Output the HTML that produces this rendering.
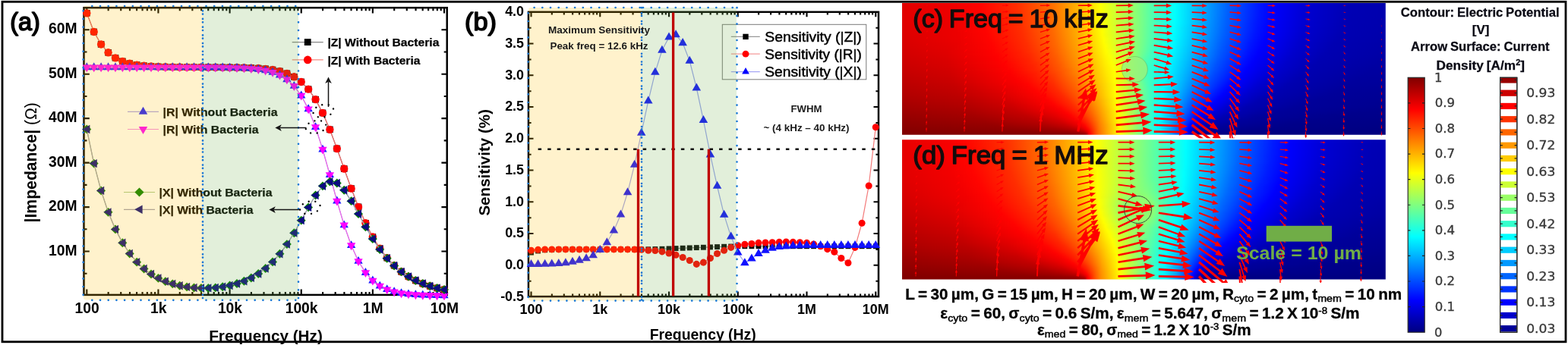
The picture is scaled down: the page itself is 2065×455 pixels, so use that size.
<!DOCTYPE html>
<html lang="en">
<head>
<meta charset="utf-8">
<title>Impedance and sensitivity figure</title>
<style>
html,body{margin:0;padding:0;background:#fff;}
body{width:2065px;height:455px;overflow:hidden;}
svg{display:block;}
text{font-family:"Liberation Sans",sans-serif;fill:#000;}
.tk{font-size:19.3px;font-weight:bold;}
.ax{font-size:20.7px;font-weight:bold;}
.lg{font-size:15.5px;font-weight:bold;fill:#000;stroke:#000;stroke-width:0.25px;}
.pl{font-size:32.5px;stroke:#000;stroke-width:1.6px;stroke-linejoin:round;}
.cal{font-weight:bold;}
.tkb{font-size:17.9px;font-weight:bold;}
.lgb{font-size:18px;stroke:#000;stroke-width:0.45px;}
.ann{font-size:13px;font-weight:bold;fill:#1a1a1a;}
.dj{font-family:"DejaVu Sans",sans-serif;fill:#333;}
</style>
</head>
<body>
<svg width="2065" height="455" viewBox="0 0 2065 455">
<rect x="0" y="0" width="2065" height="455" fill="#fff"/>
<g id="panel-a">
<rect x="110.5" y="10.2" width="478.2" height="378.7" fill="#fff" stroke="#000" stroke-width="2.5"/>
<path d="M114.3 388.9v-7.3M142.64 388.9v-4M159.22 388.9v-4M170.98 388.9v-4M180.1 388.9v-4M187.56 388.9v-4M193.86 388.9v-4M199.32 388.9v-4M204.13 388.9v-4M208.44 388.9v-7.3M236.78 388.9v-4M253.36 388.9v-4M265.12 388.9v-4M274.24 388.9v-4M281.7 388.9v-4M288 388.9v-4M293.46 388.9v-4M298.27 388.9v-4M302.58 388.9v-7.3M330.92 388.9v-4M347.5 388.9v-4M359.26 388.9v-4M368.38 388.9v-4M375.84 388.9v-4M382.14 388.9v-4M387.6 388.9v-4M392.41 388.9v-4M396.72 388.9v-7.3M425.06 388.9v-4M441.64 388.9v-4M453.4 388.9v-4M462.52 388.9v-4M469.98 388.9v-4M476.28 388.9v-4M481.74 388.9v-4M486.55 388.9v-4M490.86 388.9v-7.3M519.2 388.9v-4M535.78 388.9v-4M547.54 388.9v-4M556.66 388.9v-4M564.12 388.9v-4M570.42 388.9v-4M575.88 388.9v-4M580.69 388.9v-4M585 388.9v-7.3M114.3 10.2v7.3M142.64 10.2v4M159.22 10.2v4M170.98 10.2v4M180.1 10.2v4M187.56 10.2v4M193.86 10.2v4M199.32 10.2v4M204.13 10.2v4M208.44 10.2v7.3M236.78 10.2v4M253.36 10.2v4M265.12 10.2v4M274.24 10.2v4M281.7 10.2v4M288 10.2v4M293.46 10.2v4M298.27 10.2v4M302.58 10.2v7.3M330.92 10.2v4M347.5 10.2v4M359.26 10.2v4M368.38 10.2v4M375.84 10.2v4M382.14 10.2v4M387.6 10.2v4M392.41 10.2v4M396.72 10.2v7.3M425.06 10.2v4M441.64 10.2v4M453.4 10.2v4M462.52 10.2v4M469.98 10.2v4M476.28 10.2v4M481.74 10.2v4M486.55 10.2v4M490.86 10.2v7.3M519.2 10.2v4M535.78 10.2v4M547.54 10.2v4M556.66 10.2v4M564.12 10.2v4M570.42 10.2v4M575.88 10.2v4M580.69 10.2v4M585 10.2v7.3M110.5 360.77h4M588.7 360.77h-4M110.5 331.54h7.3M588.7 331.54h-7.3M110.5 302.31h4M588.7 302.31h-4M110.5 273.08h7.3M588.7 273.08h-7.3M110.5 243.85h4M588.7 243.85h-4M110.5 214.62h7.3M588.7 214.62h-7.3M110.5 185.39h4M588.7 185.39h-4M110.5 156.16h7.3M588.7 156.16h-7.3M110.5 126.93h4M588.7 126.93h-4M110.5 97.7h7.3M588.7 97.7h-7.3M110.5 68.47h4M588.7 68.47h-4M110.5 39.24h7.3M588.7 39.24h-7.3" stroke="#000" stroke-width="2.1" fill="none"/>
<polyline points="114.3,17.31 123.71,41.96 133.13,58.45 142.54,69.29 151.96,76.32 161.37,80.84 170.78,83.72 180.2,85.56 189.61,86.72 199.03,87.46 208.44,87.93 217.85,88.22 227.27,88.41 236.68,88.53 246.1,88.61 255.51,88.66 264.92,88.7 274.34,88.74 283.75,88.79 293.17,88.84 302.58,88.93 311.99,89.05 321.41,89.25 330.82,89.56 340.24,90.05 349.65,90.82 359.06,92.03 368.48,93.92 377.89,96.84 387.31,101.3 396.72,107.96 406.13,117.64 415.55,131.12 424.96,148.91 434.38,170.86 443.79,195.97 453.2,222.52 462.62,248.67 472.03,272.88 481.45,294.26 490.86,312.49 500.27,327.67 509.69,340.09 519.1,350.15 528.52,358.25 537.93,364.73 547.34,369.9 556.76,374.02 566.17,377.3 575.59,379.91 585,381.98" fill="none" stroke="#888888" stroke-width="1.2"/>
<g><rect x="109.98" y="12.99" width="8.64" height="8.64" fill="#000000"/><rect x="119.39" y="37.64" width="8.64" height="8.64" fill="#000000"/><rect x="128.81" y="54.13" width="8.64" height="8.64" fill="#000000"/><rect x="138.22" y="64.97" width="8.64" height="8.64" fill="#000000"/><rect x="147.64" y="72" width="8.64" height="8.64" fill="#000000"/><rect x="157.05" y="76.52" width="8.64" height="8.64" fill="#000000"/><rect x="166.46" y="79.4" width="8.64" height="8.64" fill="#000000"/><rect x="175.88" y="81.24" width="8.64" height="8.64" fill="#000000"/><rect x="185.29" y="82.4" width="8.64" height="8.64" fill="#000000"/><rect x="194.71" y="83.14" width="8.64" height="8.64" fill="#000000"/><rect x="204.12" y="83.61" width="8.64" height="8.64" fill="#000000"/><rect x="213.53" y="83.9" width="8.64" height="8.64" fill="#000000"/><rect x="222.95" y="84.09" width="8.64" height="8.64" fill="#000000"/><rect x="232.36" y="84.21" width="8.64" height="8.64" fill="#000000"/><rect x="241.78" y="84.29" width="8.64" height="8.64" fill="#000000"/><rect x="251.19" y="84.34" width="8.64" height="8.64" fill="#000000"/><rect x="260.6" y="84.38" width="8.64" height="8.64" fill="#000000"/><rect x="270.02" y="84.42" width="8.64" height="8.64" fill="#000000"/><rect x="279.43" y="84.47" width="8.64" height="8.64" fill="#000000"/><rect x="288.85" y="84.52" width="8.64" height="8.64" fill="#000000"/><rect x="298.26" y="84.61" width="8.64" height="8.64" fill="#000000"/><rect x="307.67" y="84.73" width="8.64" height="8.64" fill="#000000"/><rect x="317.09" y="84.93" width="8.64" height="8.64" fill="#000000"/><rect x="326.5" y="85.24" width="8.64" height="8.64" fill="#000000"/><rect x="335.92" y="85.73" width="8.64" height="8.64" fill="#000000"/><rect x="345.33" y="86.5" width="8.64" height="8.64" fill="#000000"/><rect x="354.74" y="87.71" width="8.64" height="8.64" fill="#000000"/><rect x="364.16" y="89.6" width="8.64" height="8.64" fill="#000000"/><rect x="373.57" y="92.52" width="8.64" height="8.64" fill="#000000"/><rect x="382.99" y="96.98" width="8.64" height="8.64" fill="#000000"/><rect x="392.4" y="103.64" width="8.64" height="8.64" fill="#000000"/><rect x="401.81" y="113.32" width="8.64" height="8.64" fill="#000000"/><rect x="411.23" y="126.8" width="8.64" height="8.64" fill="#000000"/><rect x="420.64" y="144.59" width="8.64" height="8.64" fill="#000000"/><rect x="430.06" y="166.54" width="8.64" height="8.64" fill="#000000"/><rect x="439.47" y="191.65" width="8.64" height="8.64" fill="#000000"/><rect x="448.88" y="218.2" width="8.64" height="8.64" fill="#000000"/><rect x="458.3" y="244.35" width="8.64" height="8.64" fill="#000000"/><rect x="467.71" y="268.56" width="8.64" height="8.64" fill="#000000"/><rect x="477.13" y="289.94" width="8.64" height="8.64" fill="#000000"/><rect x="486.54" y="308.17" width="8.64" height="8.64" fill="#000000"/><rect x="495.95" y="323.35" width="8.64" height="8.64" fill="#000000"/><rect x="505.37" y="335.77" width="8.64" height="8.64" fill="#000000"/><rect x="514.78" y="345.83" width="8.64" height="8.64" fill="#000000"/><rect x="524.2" y="353.93" width="8.64" height="8.64" fill="#000000"/><rect x="533.61" y="360.41" width="8.64" height="8.64" fill="#000000"/><rect x="543.02" y="365.58" width="8.64" height="8.64" fill="#000000"/><rect x="552.44" y="369.7" width="8.64" height="8.64" fill="#000000"/><rect x="561.85" y="372.98" width="8.64" height="8.64" fill="#000000"/><rect x="571.27" y="375.59" width="8.64" height="8.64" fill="#000000"/><rect x="580.68" y="377.66" width="8.64" height="8.64" fill="#000000"/></g>
<polyline points="114.3,17.31 123.71,41.96 133.13,58.45 142.54,69.29 151.96,76.32 161.37,80.84 170.78,83.72 180.2,85.56 189.61,86.72 199.03,87.46 208.44,87.93 217.85,88.22 227.27,88.41 236.68,88.53 246.1,88.61 255.51,88.66 264.92,88.7 274.34,88.74 283.75,88.79 293.17,88.84 302.58,88.93 311.99,89.05 321.41,89.25 330.82,89.56 340.24,90.05 349.65,90.82 359.06,92.03 368.48,93.92 377.89,96.84 387.31,101.3 396.72,107.96 406.13,117.64 415.55,131.12 424.96,148.91 434.38,170.86 443.79,195.97 453.2,222.52 462.62,248.67 472.03,272.88 481.45,294.26 490.86,312.49 500.27,327.67 509.69,340.09 519.1,350.15 528.52,358.25 537.93,364.73 547.34,369.9 556.76,374.02 566.17,377.3 575.59,379.91 585,381.98" fill="none" stroke="#f06a6a" stroke-width="1.2"/>
<g><circle cx="114.3" cy="17.31" r="5.18" fill="#ff0000"/><circle cx="123.71" cy="41.96" r="5.18" fill="#ff0000"/><circle cx="133.13" cy="58.45" r="5.18" fill="#ff0000"/><circle cx="142.54" cy="69.29" r="5.18" fill="#ff0000"/><circle cx="151.96" cy="76.32" r="5.18" fill="#ff0000"/><circle cx="161.37" cy="80.84" r="5.18" fill="#ff0000"/><circle cx="170.78" cy="83.72" r="5.18" fill="#ff0000"/><circle cx="180.2" cy="85.56" r="5.18" fill="#ff0000"/><circle cx="189.61" cy="86.72" r="5.18" fill="#ff0000"/><circle cx="199.03" cy="87.46" r="5.18" fill="#ff0000"/><circle cx="208.44" cy="87.93" r="5.18" fill="#ff0000"/><circle cx="217.85" cy="88.22" r="5.18" fill="#ff0000"/><circle cx="227.27" cy="88.41" r="5.18" fill="#ff0000"/><circle cx="236.68" cy="88.53" r="5.18" fill="#ff0000"/><circle cx="246.1" cy="88.61" r="5.18" fill="#ff0000"/><circle cx="255.51" cy="88.66" r="5.18" fill="#ff0000"/><circle cx="264.92" cy="88.7" r="5.18" fill="#ff0000"/><circle cx="274.34" cy="88.74" r="5.18" fill="#ff0000"/><circle cx="283.75" cy="88.79" r="5.18" fill="#ff0000"/><circle cx="293.17" cy="88.84" r="5.18" fill="#ff0000"/><circle cx="302.58" cy="88.93" r="5.18" fill="#ff0000"/><circle cx="311.99" cy="89.05" r="5.18" fill="#ff0000"/><circle cx="321.41" cy="89.25" r="5.18" fill="#ff0000"/><circle cx="330.82" cy="89.56" r="5.18" fill="#ff0000"/><circle cx="340.24" cy="90.05" r="5.18" fill="#ff0000"/><circle cx="349.65" cy="90.82" r="5.18" fill="#ff0000"/><circle cx="359.06" cy="92.03" r="5.18" fill="#ff0000"/><circle cx="368.48" cy="93.92" r="5.18" fill="#ff0000"/><circle cx="377.89" cy="96.84" r="5.18" fill="#ff0000"/><circle cx="387.31" cy="101.3" r="5.18" fill="#ff0000"/><circle cx="396.72" cy="107.96" r="5.18" fill="#ff0000"/><circle cx="406.13" cy="117.64" r="5.18" fill="#ff0000"/><circle cx="415.55" cy="131.12" r="5.18" fill="#ff0000"/><circle cx="424.96" cy="148.91" r="5.18" fill="#ff0000"/><circle cx="434.38" cy="170.86" r="5.18" fill="#ff0000"/><circle cx="443.79" cy="195.97" r="5.18" fill="#ff0000"/><circle cx="453.2" cy="222.52" r="5.18" fill="#ff0000"/><circle cx="462.62" cy="248.67" r="5.18" fill="#ff0000"/><circle cx="472.03" cy="272.88" r="5.18" fill="#ff0000"/><circle cx="481.45" cy="294.26" r="5.18" fill="#ff0000"/><circle cx="490.86" cy="312.49" r="5.18" fill="#ff0000"/><circle cx="500.27" cy="327.67" r="5.18" fill="#ff0000"/><circle cx="509.69" cy="340.09" r="5.18" fill="#ff0000"/><circle cx="519.1" cy="350.15" r="5.18" fill="#ff0000"/><circle cx="528.52" cy="358.25" r="5.18" fill="#ff0000"/><circle cx="537.93" cy="364.73" r="5.18" fill="#ff0000"/><circle cx="547.34" cy="369.9" r="5.18" fill="#ff0000"/><circle cx="556.76" cy="374.02" r="5.18" fill="#ff0000"/><circle cx="566.17" cy="377.3" r="5.18" fill="#ff0000"/><circle cx="575.59" cy="379.91" r="5.18" fill="#ff0000"/><circle cx="585" cy="381.98" r="5.18" fill="#ff0000"/></g>
<polyline points="114.3,88.8 123.71,88.8 133.13,88.8 142.54,88.8 151.96,88.8 161.37,88.8 170.78,88.8 180.2,88.8 189.61,88.81 199.03,88.81 208.44,88.81 217.85,88.81 227.27,88.81 236.68,88.82 246.1,88.83 255.51,88.85 264.92,88.87 274.34,88.91 283.75,88.97 293.17,89.07 302.58,89.23 311.99,89.48 321.41,89.87 330.82,90.49 340.24,91.46 349.65,92.99 359.06,95.39 368.48,99.11 377.89,104.82 387.31,113.42 396.72,126.04 406.13,143.85 415.55,167.62 424.96,197.13 434.38,230.66 443.79,265.07 453.2,296.93 462.62,323.72 472.03,344.48 481.45,359.58 490.86,370.07 500.27,377.11 509.69,381.73 519.1,384.73 528.52,386.65 537.93,387.88 547.34,388.66 556.76,389.15 566.17,389.46 575.59,389.66 585,389.79" fill="none" stroke="#a9a3ee" stroke-width="1.2"/>
<g><polygon points="114.3,82.32 108.63,92.15 119.97,92.15" fill="#1c1cff"/><polygon points="123.71,82.32 118.04,92.15 129.38,92.15" fill="#1c1cff"/><polygon points="133.13,82.32 127.46,92.15 138.8,92.15" fill="#1c1cff"/><polygon points="142.54,82.32 136.87,92.15 148.21,92.15" fill="#1c1cff"/><polygon points="151.96,82.32 146.29,92.15 157.63,92.15" fill="#1c1cff"/><polygon points="161.37,82.32 155.7,92.15 167.04,92.15" fill="#1c1cff"/><polygon points="170.78,82.32 165.11,92.15 176.45,92.15" fill="#1c1cff"/><polygon points="180.2,82.32 174.53,92.15 185.87,92.15" fill="#1c1cff"/><polygon points="189.61,82.33 183.94,92.15 195.28,92.15" fill="#1c1cff"/><polygon points="199.03,82.33 193.36,92.15 204.7,92.15" fill="#1c1cff"/><polygon points="208.44,82.33 202.77,92.16 214.11,92.16" fill="#1c1cff"/><polygon points="217.85,82.33 212.18,92.16 223.52,92.16" fill="#1c1cff"/><polygon points="227.27,82.33 221.6,92.16 232.94,92.16" fill="#1c1cff"/><polygon points="236.68,82.34 231.01,92.17 242.35,92.17" fill="#1c1cff"/><polygon points="246.1,82.35 240.43,92.18 251.77,92.18" fill="#1c1cff"/><polygon points="255.51,82.37 249.84,92.19 261.18,92.19" fill="#1c1cff"/><polygon points="264.92,82.39 259.25,92.22 270.59,92.22" fill="#1c1cff"/><polygon points="274.34,82.43 268.67,92.26 280.01,92.26" fill="#1c1cff"/><polygon points="283.75,82.49 278.08,92.32 289.42,92.32" fill="#1c1cff"/><polygon points="293.17,82.59 287.5,92.42 298.84,92.42" fill="#1c1cff"/><polygon points="302.58,82.75 296.91,92.58 308.25,92.58" fill="#1c1cff"/><polygon points="311.99,83 306.32,92.82 317.66,92.82" fill="#1c1cff"/><polygon points="321.41,83.39 315.74,93.22 327.08,93.22" fill="#1c1cff"/><polygon points="330.82,84.01 325.15,93.83 336.49,93.83" fill="#1c1cff"/><polygon points="340.24,84.98 334.57,94.81 345.91,94.81" fill="#1c1cff"/><polygon points="349.65,86.51 343.98,96.34 355.32,96.34" fill="#1c1cff"/><polygon points="359.06,88.91 353.39,98.74 364.73,98.74" fill="#1c1cff"/><polygon points="368.48,92.63 362.81,102.46 374.15,102.46" fill="#1c1cff"/><polygon points="377.89,98.34 372.22,108.17 383.56,108.17" fill="#1c1cff"/><polygon points="387.31,106.94 381.64,116.77 392.98,116.77" fill="#1c1cff"/><polygon points="396.72,119.56 391.05,129.39 402.39,129.39" fill="#1c1cff"/><polygon points="406.13,137.37 400.46,147.19 411.8,147.19" fill="#1c1cff"/><polygon points="415.55,161.14 409.88,170.96 421.22,170.96" fill="#1c1cff"/><polygon points="424.96,190.65 419.29,200.48 430.63,200.48" fill="#1c1cff"/><polygon points="434.38,224.18 428.71,234 440.05,234" fill="#1c1cff"/><polygon points="443.79,258.59 438.12,268.42 449.46,268.42" fill="#1c1cff"/><polygon points="453.2,290.45 447.53,300.27 458.87,300.27" fill="#1c1cff"/><polygon points="462.62,317.24 456.95,327.06 468.29,327.06" fill="#1c1cff"/><polygon points="472.03,338 466.36,347.83 477.7,347.83" fill="#1c1cff"/><polygon points="481.45,353.1 475.78,362.93 487.12,362.93" fill="#1c1cff"/><polygon points="490.86,363.59 485.19,373.41 496.53,373.41" fill="#1c1cff"/><polygon points="500.27,370.63 494.6,380.45 505.94,380.45" fill="#1c1cff"/><polygon points="509.69,375.25 504.02,385.08 515.36,385.08" fill="#1c1cff"/><polygon points="519.1,378.25 513.43,388.08 524.77,388.08" fill="#1c1cff"/><polygon points="528.52,380.17 522.85,390 534.19,390" fill="#1c1cff"/><polygon points="537.93,381.4 532.26,391.23 543.6,391.23" fill="#1c1cff"/><polygon points="547.34,382.18 541.67,392.01 553.01,392.01" fill="#1c1cff"/><polygon points="556.76,382.67 551.09,392.5 562.43,392.5" fill="#1c1cff"/><polygon points="566.17,382.98 560.5,392.81 571.84,392.81" fill="#1c1cff"/><polygon points="575.59,383.18 569.92,393.01 581.26,393.01" fill="#1c1cff"/><polygon points="585,383.31 579.33,393.13 590.67,393.13" fill="#1c1cff"/></g>
<polyline points="114.3,88.8 123.71,88.8 133.13,88.8 142.54,88.8 151.96,88.8 161.37,88.8 170.78,88.8 180.2,88.8 189.61,88.81 199.03,88.81 208.44,88.81 217.85,88.81 227.27,88.81 236.68,88.82 246.1,88.83 255.51,88.85 264.92,88.87 274.34,88.91 283.75,88.97 293.17,89.07 302.58,89.23 311.99,89.48 321.41,89.87 330.82,90.49 340.24,91.46 349.65,92.99 359.06,95.39 368.48,99.11 377.89,104.82 387.31,113.42 396.72,126.04 406.13,143.85 415.55,167.62 424.96,197.13 434.38,230.66 443.79,265.07 453.2,296.93 462.62,323.72 472.03,344.48 481.45,359.58 490.86,370.07 500.27,377.11 509.69,381.73 519.1,384.73 528.52,386.65 537.93,387.88 547.34,388.66 556.76,389.15 566.17,389.46 575.59,389.66 585,389.79" fill="none" stroke="#ee66e6" stroke-width="1.2"/>
<g><polygon points="114.3,95.28 108.63,85.46 119.97,85.46" fill="#ff00ff"/><polygon points="123.71,95.28 118.04,85.46 129.38,85.46" fill="#ff00ff"/><polygon points="133.13,95.28 127.46,85.46 138.8,85.46" fill="#ff00ff"/><polygon points="142.54,95.28 136.87,85.46 148.21,85.46" fill="#ff00ff"/><polygon points="151.96,95.28 146.29,85.46 157.63,85.46" fill="#ff00ff"/><polygon points="161.37,95.28 155.7,85.46 167.04,85.46" fill="#ff00ff"/><polygon points="170.78,95.28 165.11,85.46 176.45,85.46" fill="#ff00ff"/><polygon points="180.2,95.28 174.53,85.46 185.87,85.46" fill="#ff00ff"/><polygon points="189.61,95.29 183.94,85.46 195.28,85.46" fill="#ff00ff"/><polygon points="199.03,95.29 193.36,85.46 204.7,85.46" fill="#ff00ff"/><polygon points="208.44,95.29 202.77,85.46 214.11,85.46" fill="#ff00ff"/><polygon points="217.85,95.29 212.18,85.46 223.52,85.46" fill="#ff00ff"/><polygon points="227.27,95.29 221.6,85.47 232.94,85.47" fill="#ff00ff"/><polygon points="236.68,95.3 231.01,85.47 242.35,85.47" fill="#ff00ff"/><polygon points="246.1,95.31 240.43,85.48 251.77,85.48" fill="#ff00ff"/><polygon points="255.51,95.33 249.84,85.5 261.18,85.5" fill="#ff00ff"/><polygon points="264.92,95.35 259.25,85.52 270.59,85.52" fill="#ff00ff"/><polygon points="274.34,95.39 268.67,85.56 280.01,85.56" fill="#ff00ff"/><polygon points="283.75,95.45 278.08,85.62 289.42,85.62" fill="#ff00ff"/><polygon points="293.17,95.55 287.5,85.72 298.84,85.72" fill="#ff00ff"/><polygon points="302.58,95.71 296.91,85.88 308.25,85.88" fill="#ff00ff"/><polygon points="311.99,95.96 306.32,86.13 317.66,86.13" fill="#ff00ff"/><polygon points="321.41,96.35 315.74,86.52 327.08,86.52" fill="#ff00ff"/><polygon points="330.82,96.97 325.15,87.14 336.49,87.14" fill="#ff00ff"/><polygon points="340.24,97.94 334.57,88.11 345.91,88.11" fill="#ff00ff"/><polygon points="349.65,99.47 343.98,89.65 355.32,89.65" fill="#ff00ff"/><polygon points="359.06,101.87 353.39,92.04 364.73,92.04" fill="#ff00ff"/><polygon points="368.48,105.59 362.81,95.76 374.15,95.76" fill="#ff00ff"/><polygon points="377.89,111.3 372.22,101.47 383.56,101.47" fill="#ff00ff"/><polygon points="387.31,119.9 381.64,110.08 392.98,110.08" fill="#ff00ff"/><polygon points="396.72,132.52 391.05,122.7 402.39,122.7" fill="#ff00ff"/><polygon points="406.13,150.33 400.46,140.5 411.8,140.5" fill="#ff00ff"/><polygon points="415.55,174.1 409.88,164.27 421.22,164.27" fill="#ff00ff"/><polygon points="424.96,203.61 419.29,193.79 430.63,193.79" fill="#ff00ff"/><polygon points="434.38,237.14 428.71,227.31 440.05,227.31" fill="#ff00ff"/><polygon points="443.79,271.55 438.12,261.72 449.46,261.72" fill="#ff00ff"/><polygon points="453.2,303.41 447.53,293.58 458.87,293.58" fill="#ff00ff"/><polygon points="462.62,330.2 456.95,320.37 468.29,320.37" fill="#ff00ff"/><polygon points="472.03,350.96 466.36,341.13 477.7,341.13" fill="#ff00ff"/><polygon points="481.45,366.06 475.78,356.23 487.12,356.23" fill="#ff00ff"/><polygon points="490.86,376.55 485.19,366.72 496.53,366.72" fill="#ff00ff"/><polygon points="500.27,383.59 494.6,373.76 505.94,373.76" fill="#ff00ff"/><polygon points="509.69,388.21 504.02,378.39 515.36,378.39" fill="#ff00ff"/><polygon points="519.1,391.21 513.43,381.38 524.77,381.38" fill="#ff00ff"/><polygon points="528.52,393.13 522.85,383.31 534.19,383.31" fill="#ff00ff"/><polygon points="537.93,394.36 532.26,384.53 543.6,384.53" fill="#ff00ff"/><polygon points="547.34,395.14 541.67,385.31 553.01,385.31" fill="#ff00ff"/><polygon points="556.76,395.63 551.09,385.8 562.43,385.8" fill="#ff00ff"/><polygon points="566.17,395.94 560.5,386.12 571.84,386.12" fill="#ff00ff"/><polygon points="575.59,396.14 569.92,386.31 581.26,386.31" fill="#ff00ff"/><polygon points="585,396.27 579.33,386.44 590.67,386.44" fill="#ff00ff"/></g>
<polyline points="114.3,170.51 123.71,215.6 133.13,251.4 142.54,279.82 151.96,302.38 161.37,320.27 170.78,334.44 180.2,345.66 189.61,354.52 199.03,361.48 208.44,366.93 217.85,371.15 227.27,374.37 236.68,376.75 246.1,378.42 255.51,379.49 264.92,379.99 274.34,379.95 283.75,379.39 293.17,378.26 302.58,376.51 311.99,374.05 321.41,370.75 330.82,366.45 340.24,360.96 349.65,354.03 359.06,345.39 368.48,334.8 377.89,322.07 387.31,307.2 396.72,290.63 406.13,273.43 415.55,257.47 424.96,245.35 434.38,239.57 443.79,241.54 453.2,250.77 462.62,265.17 472.03,282.08 481.45,299.22 490.86,315.1 500.27,329.01 509.69,340.78 519.1,350.5 528.52,358.42 537.93,364.81 547.34,369.94 556.76,374.04 566.17,377.31 575.59,379.91 585,381.98" fill="none" stroke="#a4c98c" stroke-width="1.2"/>
<g><polygon points="114.3,164.57 120.24,170.51 114.3,176.45 108.36,170.51" fill="#008000"/><polygon points="123.71,209.66 129.65,215.6 123.71,221.54 117.77,215.6" fill="#008000"/><polygon points="133.13,245.46 139.07,251.4 133.13,257.34 127.19,251.4" fill="#008000"/><polygon points="142.54,273.88 148.48,279.82 142.54,285.76 136.6,279.82" fill="#008000"/><polygon points="151.96,296.44 157.9,302.38 151.96,308.32 146.02,302.38" fill="#008000"/><polygon points="161.37,314.33 167.31,320.27 161.37,326.21 155.43,320.27" fill="#008000"/><polygon points="170.78,328.5 176.72,334.44 170.78,340.38 164.84,334.44" fill="#008000"/><polygon points="180.2,339.72 186.14,345.66 180.2,351.6 174.26,345.66" fill="#008000"/><polygon points="189.61,348.58 195.55,354.52 189.61,360.46 183.67,354.52" fill="#008000"/><polygon points="199.03,355.54 204.97,361.48 199.03,367.42 193.09,361.48" fill="#008000"/><polygon points="208.44,360.99 214.38,366.93 208.44,372.87 202.5,366.93" fill="#008000"/><polygon points="217.85,365.21 223.79,371.15 217.85,377.09 211.91,371.15" fill="#008000"/><polygon points="227.27,368.43 233.21,374.37 227.27,380.31 221.33,374.37" fill="#008000"/><polygon points="236.68,370.81 242.62,376.75 236.68,382.69 230.74,376.75" fill="#008000"/><polygon points="246.1,372.48 252.04,378.42 246.1,384.36 240.16,378.42" fill="#008000"/><polygon points="255.51,373.55 261.45,379.49 255.51,385.43 249.57,379.49" fill="#008000"/><polygon points="264.92,374.05 270.86,379.99 264.92,385.93 258.98,379.99" fill="#008000"/><polygon points="274.34,374.01 280.28,379.95 274.34,385.89 268.4,379.95" fill="#008000"/><polygon points="283.75,373.45 289.69,379.39 283.75,385.33 277.81,379.39" fill="#008000"/><polygon points="293.17,372.32 299.11,378.26 293.17,384.2 287.23,378.26" fill="#008000"/><polygon points="302.58,370.57 308.52,376.51 302.58,382.45 296.64,376.51" fill="#008000"/><polygon points="311.99,368.11 317.93,374.05 311.99,379.99 306.05,374.05" fill="#008000"/><polygon points="321.41,364.81 327.35,370.75 321.41,376.69 315.47,370.75" fill="#008000"/><polygon points="330.82,360.51 336.76,366.45 330.82,372.39 324.88,366.45" fill="#008000"/><polygon points="340.24,355.02 346.18,360.96 340.24,366.9 334.3,360.96" fill="#008000"/><polygon points="349.65,348.09 355.59,354.03 349.65,359.97 343.71,354.03" fill="#008000"/><polygon points="359.06,339.45 365,345.39 359.06,351.33 353.12,345.39" fill="#008000"/><polygon points="368.48,328.86 374.42,334.8 368.48,340.74 362.54,334.8" fill="#008000"/><polygon points="377.89,316.13 383.83,322.07 377.89,328.01 371.95,322.07" fill="#008000"/><polygon points="387.31,301.26 393.25,307.2 387.31,313.14 381.37,307.2" fill="#008000"/><polygon points="396.72,284.69 402.66,290.63 396.72,296.57 390.78,290.63" fill="#008000"/><polygon points="406.13,267.49 412.07,273.43 406.13,279.37 400.19,273.43" fill="#008000"/><polygon points="415.55,251.53 421.49,257.47 415.55,263.41 409.61,257.47" fill="#008000"/><polygon points="424.96,239.41 430.9,245.35 424.96,251.29 419.02,245.35" fill="#008000"/><polygon points="434.38,233.63 440.32,239.57 434.38,245.51 428.44,239.57" fill="#008000"/><polygon points="443.79,235.6 449.73,241.54 443.79,247.48 437.85,241.54" fill="#008000"/><polygon points="453.2,244.83 459.14,250.77 453.2,256.71 447.26,250.77" fill="#008000"/><polygon points="462.62,259.23 468.56,265.17 462.62,271.11 456.68,265.17" fill="#008000"/><polygon points="472.03,276.14 477.97,282.08 472.03,288.02 466.09,282.08" fill="#008000"/><polygon points="481.45,293.28 487.39,299.22 481.45,305.16 475.51,299.22" fill="#008000"/><polygon points="490.86,309.16 496.8,315.1 490.86,321.04 484.92,315.1" fill="#008000"/><polygon points="500.27,323.07 506.21,329.01 500.27,334.95 494.33,329.01" fill="#008000"/><polygon points="509.69,334.84 515.63,340.78 509.69,346.72 503.75,340.78" fill="#008000"/><polygon points="519.1,344.56 525.04,350.5 519.1,356.44 513.16,350.5" fill="#008000"/><polygon points="528.52,352.48 534.46,358.42 528.52,364.36 522.58,358.42" fill="#008000"/><polygon points="537.93,358.87 543.87,364.81 537.93,370.75 531.99,364.81" fill="#008000"/><polygon points="547.34,364 553.28,369.94 547.34,375.88 541.4,369.94" fill="#008000"/><polygon points="556.76,368.1 562.7,374.04 556.76,379.98 550.82,374.04" fill="#008000"/><polygon points="566.17,371.37 572.11,377.31 566.17,383.25 560.23,377.31" fill="#008000"/><polygon points="575.59,373.97 581.53,379.91 575.59,385.85 569.65,379.91" fill="#008000"/><polygon points="585,376.04 590.94,381.98 585,387.92 579.06,381.98" fill="#008000"/></g>
<polyline points="114.3,170.51 123.71,215.6 133.13,251.4 142.54,279.82 151.96,302.38 161.37,320.27 170.78,334.44 180.2,345.66 189.61,354.52 199.03,361.48 208.44,366.93 217.85,371.15 227.27,374.37 236.68,376.75 246.1,378.42 255.51,379.49 264.92,379.99 274.34,379.95 283.75,379.39 293.17,378.26 302.58,376.51 311.99,374.05 321.41,370.75 330.82,366.45 340.24,360.96 349.65,354.03 359.06,345.39 368.48,334.8 377.89,322.07 387.31,307.2 396.72,290.63 406.13,273.43 415.55,257.47 424.96,245.35 434.38,239.57 443.79,241.54 453.2,250.77 462.62,265.17 472.03,282.08 481.45,299.22 490.86,315.1 500.27,329.01 509.69,340.78 519.1,350.5 528.52,358.42 537.93,364.81 547.34,369.94 556.76,374.04 566.17,377.31 575.59,379.91 585,381.98" fill="none" stroke="#9d9db5" stroke-width="1.2"/>
<g><polygon points="108.09,170.51 118.35,164.84 118.35,176.18" fill="#0d0d80"/><polygon points="117.5,215.6 127.76,209.93 127.76,221.27" fill="#0d0d80"/><polygon points="126.92,251.4 137.18,245.73 137.18,257.07" fill="#0d0d80"/><polygon points="136.33,279.82 146.59,274.15 146.59,285.49" fill="#0d0d80"/><polygon points="145.75,302.38 156.01,296.71 156.01,308.05" fill="#0d0d80"/><polygon points="155.16,320.27 165.42,314.6 165.42,325.94" fill="#0d0d80"/><polygon points="164.57,334.44 174.83,328.77 174.83,340.11" fill="#0d0d80"/><polygon points="173.99,345.66 184.25,339.99 184.25,351.33" fill="#0d0d80"/><polygon points="183.4,354.52 193.66,348.85 193.66,360.19" fill="#0d0d80"/><polygon points="192.82,361.48 203.08,355.81 203.08,367.15" fill="#0d0d80"/><polygon points="202.23,366.93 212.49,361.26 212.49,372.6" fill="#0d0d80"/><polygon points="211.64,371.15 221.9,365.48 221.9,376.82" fill="#0d0d80"/><polygon points="221.06,374.37 231.32,368.7 231.32,380.04" fill="#0d0d80"/><polygon points="230.47,376.75 240.73,371.08 240.73,382.42" fill="#0d0d80"/><polygon points="239.89,378.42 250.15,372.75 250.15,384.09" fill="#0d0d80"/><polygon points="249.3,379.49 259.56,373.82 259.56,385.16" fill="#0d0d80"/><polygon points="258.71,379.99 268.97,374.32 268.97,385.66" fill="#0d0d80"/><polygon points="268.13,379.95 278.39,374.28 278.39,385.62" fill="#0d0d80"/><polygon points="277.54,379.39 287.8,373.72 287.8,385.06" fill="#0d0d80"/><polygon points="286.96,378.26 297.22,372.59 297.22,383.93" fill="#0d0d80"/><polygon points="296.37,376.51 306.63,370.84 306.63,382.18" fill="#0d0d80"/><polygon points="305.78,374.05 316.04,368.38 316.04,379.72" fill="#0d0d80"/><polygon points="315.2,370.75 325.46,365.08 325.46,376.42" fill="#0d0d80"/><polygon points="324.61,366.45 334.87,360.78 334.87,372.12" fill="#0d0d80"/><polygon points="334.03,360.96 344.29,355.29 344.29,366.63" fill="#0d0d80"/><polygon points="343.44,354.03 353.7,348.36 353.7,359.7" fill="#0d0d80"/><polygon points="352.85,345.39 363.11,339.72 363.11,351.06" fill="#0d0d80"/><polygon points="362.27,334.8 372.53,329.13 372.53,340.47" fill="#0d0d80"/><polygon points="371.68,322.07 381.94,316.4 381.94,327.74" fill="#0d0d80"/><polygon points="381.1,307.2 391.36,301.53 391.36,312.87" fill="#0d0d80"/><polygon points="390.51,290.63 400.77,284.96 400.77,296.3" fill="#0d0d80"/><polygon points="399.92,273.43 410.18,267.76 410.18,279.1" fill="#0d0d80"/><polygon points="409.34,257.47 419.6,251.8 419.6,263.14" fill="#0d0d80"/><polygon points="418.75,245.35 429.01,239.68 429.01,251.02" fill="#0d0d80"/><polygon points="428.17,239.57 438.43,233.9 438.43,245.24" fill="#0d0d80"/><polygon points="437.58,241.54 447.84,235.87 447.84,247.21" fill="#0d0d80"/><polygon points="446.99,250.77 457.25,245.1 457.25,256.44" fill="#0d0d80"/><polygon points="456.41,265.17 466.67,259.5 466.67,270.84" fill="#0d0d80"/><polygon points="465.82,282.08 476.08,276.41 476.08,287.75" fill="#0d0d80"/><polygon points="475.24,299.22 485.5,293.55 485.5,304.89" fill="#0d0d80"/><polygon points="484.65,315.1 494.91,309.43 494.91,320.77" fill="#0d0d80"/><polygon points="494.06,329.01 504.32,323.34 504.32,334.68" fill="#0d0d80"/><polygon points="503.48,340.78 513.74,335.11 513.74,346.45" fill="#0d0d80"/><polygon points="512.89,350.5 523.15,344.83 523.15,356.17" fill="#0d0d80"/><polygon points="522.31,358.42 532.57,352.75 532.57,364.09" fill="#0d0d80"/><polygon points="531.72,364.81 541.98,359.14 541.98,370.48" fill="#0d0d80"/><polygon points="541.13,369.94 551.39,364.27 551.39,375.61" fill="#0d0d80"/><polygon points="550.55,374.04 560.81,368.37 560.81,379.71" fill="#0d0d80"/><polygon points="559.96,377.31 570.22,371.64 570.22,382.98" fill="#0d0d80"/><polygon points="569.38,379.91 579.64,374.24 579.64,385.58" fill="#0d0d80"/><polygon points="578.79,381.98 589.05,376.31 589.05,387.65" fill="#0d0d80"/></g>
<path d="M384.7 55.6h41" stroke="#888" stroke-width="1.2"/><rect x="400.8" y="51.2" width="8.8" height="8.8" fill="#000"/><text x="431.4" y="61.2" textLength="147" lengthAdjust="spacingAndGlyphs" class="lg">|Z| Without Bacteria</text>
<path d="M384.7 78.9h41" stroke="#f58a80" stroke-width="1.2"/><circle cx="405.2" cy="78.9" r="5.28" fill="#ff0000"/><text x="431.4" y="84.5" textLength="122" lengthAdjust="spacingAndGlyphs" class="lg">|Z| With Bacteria</text>
<path d="M168 147.3h41" stroke="#a9a3ee" stroke-width="1.2"/><polygon points="188.5,140.7 182.72,150.71 194.28,150.71" fill="#1c1cff"/><text x="214.5" y="152.9" textLength="151" lengthAdjust="spacingAndGlyphs" class="lg">|R| Without Bacteria</text>
<path d="M168 170.5h41" stroke="#f58ae8" stroke-width="1.2"/><polygon points="188.5,177.1 182.72,167.09 194.28,167.09" fill="#ff00ff"/><text x="214.5" y="176.1" textLength="126" lengthAdjust="spacingAndGlyphs" class="lg">|R| With Bacteria</text>
<path d="M163 253.5h41" stroke="#a4c98c" stroke-width="1.2"/><polygon points="183.5,247.45 189.55,253.5 183.5,259.55 177.45,253.5" fill="#008000"/><text x="209.5" y="259.1" textLength="149" lengthAdjust="spacingAndGlyphs" class="lg">|X| Without Bacteria</text>
<path d="M163 276.3h41" stroke="#9d9db5" stroke-width="1.2"/><polygon points="177.18,276.3 187.62,270.53 187.62,282.07" fill="#0d0d80"/><text x="209.5" y="281.9" textLength="124" lengthAdjust="spacingAndGlyphs" class="lg">|X| With Bacteria</text>
<rect x="110" y="7.6" width="157" height="388" rx="3" fill="#ffc000" fill-opacity="0.2"/>
<rect x="267" y="7.6" width="126" height="388" rx="3" fill="#70ad47" fill-opacity="0.2"/>
<path d="M121.3 395.8H267M121.3 8H267M109.6 388.78V8M267 388.78V8" fill="none" stroke="#1877d6" stroke-width="2.7" stroke-dasharray="0.01 10.69" stroke-linecap="round"/>
<path d="M271.5 395.8H393M271.5 8H393M267 393.1V8M393 393.1V8" fill="none" stroke="#1877d6" stroke-width="2.7" stroke-dasharray="0.01 10.69" stroke-linecap="round"/>
<ellipse cx="0" cy="0" rx="13.5" ry="8.2" transform="translate(425.8 146.3) rotate(-12)" fill="none" stroke="#000" stroke-width="2.4" stroke-dasharray="0.01 8.6" stroke-linecap="round"/>
<ellipse cx="0" cy="0" rx="13.5" ry="8.2" transform="translate(416 167.4) rotate(-12)" fill="none" stroke="#000" stroke-width="2.4" stroke-dasharray="0.01 8.6" stroke-linecap="round"/>
<ellipse cx="0" cy="0" rx="13.5" ry="8.2" transform="translate(408.3 273.8) rotate(-12)" fill="none" stroke="#000" stroke-width="2.4" stroke-dasharray="0.01 8.6" stroke-linecap="round"/>
<path d="M432.5 141L432.5 107.8" stroke="#151515" stroke-width="1.5" fill="none"/><polygon points="432.5,101.5 436.8,110 432.5,107.8 428.2,110" fill="#151515"/>
<path d="M403.5 168.6L368.6 168.6" stroke="#151515" stroke-width="1.5" fill="none"/><polygon points="362.3,168.6 370.8,164.3 368.6,168.6 370.8,172.9" fill="#151515"/>
<path d="M395.5 276.6L360.6 276.6" stroke="#151515" stroke-width="1.5" fill="none"/><polygon points="354.3,276.6 362.8,272.3 360.6,276.6 362.8,280.9" fill="#151515"/>
<text x="101.6" y="336.54" text-anchor="end" class="tk">10M</text>
<text x="101.6" y="278.08" text-anchor="end" class="tk">20M</text>
<text x="101.6" y="219.62" text-anchor="end" class="tk">30M</text>
<text x="101.6" y="161.16" text-anchor="end" class="tk">40M</text>
<text x="101.6" y="102.7" text-anchor="end" class="tk">50M</text>
<text x="101.6" y="44.24" text-anchor="end" class="tk">60M</text>
<text x="114.7" y="413.2" text-anchor="middle" class="tk">100</text>
<text x="208.84" y="413.2" text-anchor="middle" class="tk">1k</text>
<text x="302.98" y="413.2" text-anchor="middle" class="tk">10k</text>
<text x="397.12" y="413.2" text-anchor="middle" class="tk">100k</text>
<text x="491.26" y="413.2" text-anchor="middle" class="tk">1M</text>
<text x="585.4" y="413.2" text-anchor="middle" class="tk">10M</text>
<text x="350" y="449.5" text-anchor="middle" class="ax" textLength="149.6" lengthAdjust="spacingAndGlyphs">Frequency (Hz)</text>
<text transform="translate(47.9 214.3) rotate(-90)" text-anchor="middle" class="ax" style="font-size:21.2px">|Impedance| <tspan style="font-weight:normal">(Ω)</tspan></text>
<text x="13.2" y="39.8" class="pl" textLength="39.6" lengthAdjust="spacingAndGlyphs">(a)</text>
</g>
<g id="panel-b">
<rect x="696" y="15.8" width="461" height="375.3" fill="#fff" stroke="#000" stroke-width="2.5"/>
<path d="M699.5 391.1v-6.5M726.82 391.1v-3.6M742.8 391.1v-3.6M754.14 391.1v-3.6M762.93 391.1v-3.6M770.12 391.1v-3.6M776.19 391.1v-3.6M781.46 391.1v-3.6M786.1 391.1v-3.6M790.25 391.1v-6.5M817.57 391.1v-3.6M833.55 391.1v-3.6M844.89 391.1v-3.6M853.68 391.1v-3.6M860.87 391.1v-3.6M866.94 391.1v-3.6M872.21 391.1v-3.6M876.85 391.1v-3.6M881 391.1v-6.5M908.32 391.1v-3.6M924.3 391.1v-3.6M935.64 391.1v-3.6M944.43 391.1v-3.6M951.62 391.1v-3.6M957.69 391.1v-3.6M962.96 391.1v-3.6M967.6 391.1v-3.6M971.75 391.1v-6.5M999.07 391.1v-3.6M1015.05 391.1v-3.6M1026.39 391.1v-3.6M1035.18 391.1v-3.6M1042.37 391.1v-3.6M1048.44 391.1v-3.6M1053.71 391.1v-3.6M1058.35 391.1v-3.6M1062.5 391.1v-6.5M1089.82 391.1v-3.6M1105.8 391.1v-3.6M1117.14 391.1v-3.6M1125.93 391.1v-3.6M1133.12 391.1v-3.6M1139.19 391.1v-3.6M1144.46 391.1v-3.6M1149.1 391.1v-3.6M1153.25 391.1v-6.5M699.5 15.8v6.5M726.82 15.8v3.6M742.8 15.8v3.6M754.14 15.8v3.6M762.93 15.8v3.6M770.12 15.8v3.6M776.19 15.8v3.6M781.46 15.8v3.6M786.1 15.8v3.6M790.25 15.8v6.5M817.57 15.8v3.6M833.55 15.8v3.6M844.89 15.8v3.6M853.68 15.8v3.6M860.87 15.8v3.6M866.94 15.8v3.6M872.21 15.8v3.6M876.85 15.8v3.6M881 15.8v6.5M908.32 15.8v3.6M924.3 15.8v3.6M935.64 15.8v3.6M944.43 15.8v3.6M951.62 15.8v3.6M957.69 15.8v3.6M962.96 15.8v3.6M967.6 15.8v3.6M971.75 15.8v6.5M999.07 15.8v3.6M1015.05 15.8v3.6M1026.39 15.8v3.6M1035.18 15.8v3.6M1042.37 15.8v3.6M1048.44 15.8v3.6M1053.71 15.8v3.6M1058.35 15.8v3.6M1062.5 15.8v6.5M1089.82 15.8v3.6M1105.8 15.8v3.6M1117.14 15.8v3.6M1125.93 15.8v3.6M1133.12 15.8v3.6M1139.19 15.8v3.6M1144.46 15.8v3.6M1149.1 15.8v3.6M1153.25 15.8v6.5M696 370.68h3.6M1157 370.68h-3.6M696 349.8h6.5M1157 349.8h-6.5M696 328.93h3.6M1157 328.93h-3.6M696 308.05h6.5M1157 308.05h-6.5M696 287.18h3.6M1157 287.18h-3.6M696 266.3h6.5M1157 266.3h-6.5M696 245.43h3.6M1157 245.43h-3.6M696 224.55h6.5M1157 224.55h-6.5M696 203.68h3.6M1157 203.68h-3.6M696 182.8h6.5M1157 182.8h-6.5M696 161.93h3.6M1157 161.93h-3.6M696 141.05h6.5M1157 141.05h-6.5M696 120.18h3.6M1157 120.18h-3.6M696 99.3h6.5M1157 99.3h-6.5M696 78.43h3.6M1157 78.43h-3.6M696 57.55h6.5M1157 57.55h-6.5M696 36.68h3.6M1157 36.68h-3.6" stroke="#000" stroke-width="2.1" fill="none"/>
<polyline points="699.5,333.1 708.58,331.01 717.65,329.76 726.73,329.34 735.8,328.93 744.88,328.93 753.95,328.93 763.02,328.93 772.1,328.93 781.17,328.93 790.25,328.93 799.33,328.93 808.4,328.93 817.48,328.93 826.55,328.93 835.62,328.93 844.7,328.93 853.77,328.76 862.85,328.51 871.92,328.26 881,327.92 890.08,327.59 899.15,327.25 908.23,326.92 917.3,326.59 926.38,326.25 935.45,325.92 944.52,325.59 953.6,325.25 962.67,325 971.75,324.75 980.83,324.75 989.9,324.75 998.98,324.75 1008.05,324.75 1017.12,324.75 1026.2,324.75 1035.28,324.75 1044.35,324.75 1053.42,324.75 1062.5,324.75 1071.58,324.75 1080.65,324.75 1089.72,324.75 1098.8,324.75 1107.88,324.75 1116.95,324.75 1126.03,324.75 1135.1,324.75 1144.17,324.75 1153.25,324.75" fill="none" stroke="#8a8a8a" stroke-width="1.2"/>
<g><rect x="696.06" y="329.66" width="6.88" height="6.88" fill="#0a0a0a"/><rect x="705.13" y="327.57" width="6.88" height="6.88" fill="#0a0a0a"/><rect x="714.21" y="326.32" width="6.88" height="6.88" fill="#0a0a0a"/><rect x="723.28" y="325.9" width="6.88" height="6.88" fill="#0a0a0a"/><rect x="732.36" y="325.49" width="6.88" height="6.88" fill="#0a0a0a"/><rect x="741.43" y="325.49" width="6.88" height="6.88" fill="#0a0a0a"/><rect x="750.51" y="325.49" width="6.88" height="6.88" fill="#0a0a0a"/><rect x="759.58" y="325.49" width="6.88" height="6.88" fill="#0a0a0a"/><rect x="768.66" y="325.49" width="6.88" height="6.88" fill="#0a0a0a"/><rect x="777.73" y="325.49" width="6.88" height="6.88" fill="#0a0a0a"/><rect x="786.81" y="325.49" width="6.88" height="6.88" fill="#0a0a0a"/><rect x="795.88" y="325.49" width="6.88" height="6.88" fill="#0a0a0a"/><rect x="804.96" y="325.49" width="6.88" height="6.88" fill="#0a0a0a"/><rect x="814.03" y="325.49" width="6.88" height="6.88" fill="#0a0a0a"/><rect x="823.11" y="325.49" width="6.88" height="6.88" fill="#0a0a0a"/><rect x="832.18" y="325.49" width="6.88" height="6.88" fill="#0a0a0a"/><rect x="841.26" y="325.49" width="6.88" height="6.88" fill="#0a0a0a"/><rect x="850.33" y="325.32" width="6.88" height="6.88" fill="#0a0a0a"/><rect x="859.41" y="325.07" width="6.88" height="6.88" fill="#0a0a0a"/><rect x="868.48" y="324.82" width="6.88" height="6.88" fill="#0a0a0a"/><rect x="877.56" y="324.48" width="6.88" height="6.88" fill="#0a0a0a"/><rect x="886.63" y="324.15" width="6.88" height="6.88" fill="#0a0a0a"/><rect x="895.71" y="323.81" width="6.88" height="6.88" fill="#0a0a0a"/><rect x="904.78" y="323.48" width="6.88" height="6.88" fill="#0a0a0a"/><rect x="913.86" y="323.15" width="6.88" height="6.88" fill="#0a0a0a"/><rect x="922.93" y="322.81" width="6.88" height="6.88" fill="#0a0a0a"/><rect x="932.01" y="322.48" width="6.88" height="6.88" fill="#0a0a0a"/><rect x="941.08" y="322.15" width="6.88" height="6.88" fill="#0a0a0a"/><rect x="950.16" y="321.81" width="6.88" height="6.88" fill="#0a0a0a"/><rect x="959.23" y="321.56" width="6.88" height="6.88" fill="#0a0a0a"/><rect x="968.31" y="321.31" width="6.88" height="6.88" fill="#0a0a0a"/><rect x="977.38" y="321.31" width="6.88" height="6.88" fill="#0a0a0a"/><rect x="986.46" y="321.31" width="6.88" height="6.88" fill="#0a0a0a"/><rect x="995.53" y="321.31" width="6.88" height="6.88" fill="#0a0a0a"/><rect x="1004.61" y="321.31" width="6.88" height="6.88" fill="#0a0a0a"/><rect x="1013.68" y="321.31" width="6.88" height="6.88" fill="#0a0a0a"/><rect x="1022.76" y="321.31" width="6.88" height="6.88" fill="#0a0a0a"/><rect x="1031.84" y="321.31" width="6.88" height="6.88" fill="#0a0a0a"/><rect x="1040.91" y="321.31" width="6.88" height="6.88" fill="#0a0a0a"/><rect x="1049.98" y="321.31" width="6.88" height="6.88" fill="#0a0a0a"/><rect x="1059.06" y="321.31" width="6.88" height="6.88" fill="#0a0a0a"/><rect x="1068.13" y="321.31" width="6.88" height="6.88" fill="#0a0a0a"/><rect x="1077.21" y="321.31" width="6.88" height="6.88" fill="#0a0a0a"/><rect x="1086.28" y="321.31" width="6.88" height="6.88" fill="#0a0a0a"/><rect x="1095.36" y="321.31" width="6.88" height="6.88" fill="#0a0a0a"/><rect x="1104.43" y="321.31" width="6.88" height="6.88" fill="#0a0a0a"/><rect x="1113.51" y="321.31" width="6.88" height="6.88" fill="#0a0a0a"/><rect x="1122.59" y="321.31" width="6.88" height="6.88" fill="#0a0a0a"/><rect x="1131.66" y="321.31" width="6.88" height="6.88" fill="#0a0a0a"/><rect x="1140.73" y="321.31" width="6.88" height="6.88" fill="#0a0a0a"/><rect x="1149.81" y="321.31" width="6.88" height="6.88" fill="#0a0a0a"/></g>
<polyline points="699.5,330.26 708.58,329.34 717.65,328.93 726.73,328.93 735.8,328.93 744.88,328.93 753.95,328.93 763.02,328.93 772.1,328.93 781.17,328.93 790.25,328.93 799.33,328.93 808.4,328.93 817.48,328.93 826.55,328.93 835.62,329.09 844.7,329.34 853.77,330.26 862.85,330.6 871.92,331.93 881,333.94 890.08,336.19 899.15,339.53 908.23,343.45 917.3,348.38 926.38,346.13 935.45,340.45 944.52,334.52 953.6,330.26 962.67,326.42 971.75,323.66 980.83,322.25 989.9,321.41 998.98,320.32 1008.05,319.99 1017.12,319.74 1026.2,319.32 1035.28,318.91 1044.35,319.32 1053.42,319.74 1062.5,320.32 1071.58,321.99 1080.65,324.75 1089.72,328.67 1098.8,332.26 1107.88,340.45 1116.95,346.79 1126.03,326.42 1135.1,294.27 1144.17,245.01 1153.25,167.77" fill="none" stroke="#f37a7a" stroke-width="1.2"/>
<g><circle cx="699.5" cy="330.26" r="4.51" fill="#ff0000"/><circle cx="708.58" cy="329.34" r="4.51" fill="#ff0000"/><circle cx="717.65" cy="328.93" r="4.51" fill="#ff0000"/><circle cx="726.73" cy="328.93" r="4.51" fill="#ff0000"/><circle cx="735.8" cy="328.93" r="4.51" fill="#ff0000"/><circle cx="744.88" cy="328.93" r="4.51" fill="#ff0000"/><circle cx="753.95" cy="328.93" r="4.51" fill="#ff0000"/><circle cx="763.02" cy="328.93" r="4.51" fill="#ff0000"/><circle cx="772.1" cy="328.93" r="4.51" fill="#ff0000"/><circle cx="781.17" cy="328.93" r="4.51" fill="#ff0000"/><circle cx="790.25" cy="328.93" r="4.51" fill="#ff0000"/><circle cx="799.33" cy="328.93" r="4.51" fill="#ff0000"/><circle cx="808.4" cy="328.93" r="4.51" fill="#ff0000"/><circle cx="817.48" cy="328.93" r="4.51" fill="#ff0000"/><circle cx="826.55" cy="328.93" r="4.51" fill="#ff0000"/><circle cx="835.62" cy="329.09" r="4.51" fill="#ff0000"/><circle cx="844.7" cy="329.34" r="4.51" fill="#ff0000"/><circle cx="853.77" cy="330.26" r="4.51" fill="#ff0000"/><circle cx="862.85" cy="330.6" r="4.51" fill="#ff0000"/><circle cx="871.92" cy="331.93" r="4.51" fill="#ff0000"/><circle cx="881" cy="333.94" r="4.51" fill="#ff0000"/><circle cx="890.08" cy="336.19" r="4.51" fill="#ff0000"/><circle cx="899.15" cy="339.53" r="4.51" fill="#ff0000"/><circle cx="908.23" cy="343.45" r="4.51" fill="#ff0000"/><circle cx="917.3" cy="348.38" r="4.51" fill="#ff0000"/><circle cx="926.38" cy="346.13" r="4.51" fill="#ff0000"/><circle cx="935.45" cy="340.45" r="4.51" fill="#ff0000"/><circle cx="944.52" cy="334.52" r="4.51" fill="#ff0000"/><circle cx="953.6" cy="330.26" r="4.51" fill="#ff0000"/><circle cx="962.67" cy="326.42" r="4.51" fill="#ff0000"/><circle cx="971.75" cy="323.66" r="4.51" fill="#ff0000"/><circle cx="980.83" cy="322.25" r="4.51" fill="#ff0000"/><circle cx="989.9" cy="321.41" r="4.51" fill="#ff0000"/><circle cx="998.98" cy="320.32" r="4.51" fill="#ff0000"/><circle cx="1008.05" cy="319.99" r="4.51" fill="#ff0000"/><circle cx="1017.12" cy="319.74" r="4.51" fill="#ff0000"/><circle cx="1026.2" cy="319.32" r="4.51" fill="#ff0000"/><circle cx="1035.28" cy="318.91" r="4.51" fill="#ff0000"/><circle cx="1044.35" cy="319.32" r="4.51" fill="#ff0000"/><circle cx="1053.42" cy="319.74" r="4.51" fill="#ff0000"/><circle cx="1062.5" cy="320.32" r="4.51" fill="#ff0000"/><circle cx="1071.58" cy="321.99" r="4.51" fill="#ff0000"/><circle cx="1080.65" cy="324.75" r="4.51" fill="#ff0000"/><circle cx="1089.72" cy="328.67" r="4.51" fill="#ff0000"/><circle cx="1098.8" cy="332.26" r="4.51" fill="#ff0000"/><circle cx="1107.88" cy="340.45" r="4.51" fill="#ff0000"/><circle cx="1116.95" cy="346.79" r="4.51" fill="#ff0000"/><circle cx="1126.03" cy="326.42" r="4.51" fill="#ff0000"/><circle cx="1135.1" cy="294.27" r="4.51" fill="#ff0000"/><circle cx="1144.17" cy="245.01" r="4.51" fill="#ff0000"/><circle cx="1153.25" cy="167.77" r="4.51" fill="#ff0000"/></g>
<polyline points="699.5,348.71 708.58,348.55 717.65,348.38 726.73,348.05 735.8,347.71 744.88,346.79 753.95,345.46 763.02,343.45 772.1,340.78 781.17,336.86 790.25,329.59 799.33,319.74 808.4,304.21 817.48,283 826.55,253.78 835.62,217.37 844.7,175.45 853.77,133.2 862.85,95.29 871.92,66.23 881,49.2 890.08,45.86 899.15,56.72 908.23,80.43 917.3,116 926.38,158.59 935.45,204.18 944.52,245.43 953.6,283.42 962.67,312.14 971.75,333.1 980.83,346.79 989.9,341.12 998.98,334.52 1008.05,330.26 1017.12,327.25 1026.2,325.59 1035.28,324.75 1044.35,324.08 1053.42,323.75 1062.5,323.66 1071.58,323.66 1080.65,323.66 1089.72,323.66 1098.8,323.66 1107.88,323.66 1116.95,323.66 1126.03,323.66 1135.1,323.66 1144.17,323.66 1153.25,323.66" fill="none" stroke="#9aa3f0" stroke-width="1.2"/>
<g><polygon points="699.5,342.11 693.73,352.12 705.27,352.12" fill="#1111ff"/><polygon points="708.58,341.95 702.8,351.96 714.35,351.96" fill="#1111ff"/><polygon points="717.65,341.78 711.88,351.79 723.42,351.79" fill="#1111ff"/><polygon points="726.73,341.45 720.95,351.46 732.5,351.46" fill="#1111ff"/><polygon points="735.8,341.11 730.02,351.12 741.57,351.12" fill="#1111ff"/><polygon points="744.88,340.19 739.1,350.2 750.65,350.2" fill="#1111ff"/><polygon points="753.95,338.86 748.18,348.87 759.73,348.87" fill="#1111ff"/><polygon points="763.02,336.85 757.25,346.86 768.8,346.86" fill="#1111ff"/><polygon points="772.1,334.18 766.33,344.19 777.88,344.19" fill="#1111ff"/><polygon points="781.17,330.26 775.4,340.27 786.95,340.27" fill="#1111ff"/><polygon points="790.25,322.99 784.48,333 796.02,333" fill="#1111ff"/><polygon points="799.33,313.14 793.55,323.15 805.1,323.15" fill="#1111ff"/><polygon points="808.4,297.61 802.62,307.62 814.17,307.62" fill="#1111ff"/><polygon points="817.48,276.4 811.7,286.41 823.25,286.41" fill="#1111ff"/><polygon points="826.55,247.18 820.77,257.19 832.32,257.19" fill="#1111ff"/><polygon points="835.62,210.77 829.85,220.78 841.4,220.78" fill="#1111ff"/><polygon points="844.7,168.85 838.93,178.86 850.48,178.86" fill="#1111ff"/><polygon points="853.77,126.6 848,136.61 859.55,136.61" fill="#1111ff"/><polygon points="862.85,88.69 857.08,98.7 868.62,98.7" fill="#1111ff"/><polygon points="871.92,59.63 866.15,69.64 877.7,69.64" fill="#1111ff"/><polygon points="881,42.6 875.23,52.61 886.77,52.61" fill="#1111ff"/><polygon points="890.08,39.26 884.3,49.27 895.85,49.27" fill="#1111ff"/><polygon points="899.15,50.12 893.38,60.13 904.92,60.13" fill="#1111ff"/><polygon points="908.23,73.83 902.45,83.84 914,83.84" fill="#1111ff"/><polygon points="917.3,109.4 911.52,119.41 923.07,119.41" fill="#1111ff"/><polygon points="926.38,151.99 920.6,162 932.15,162" fill="#1111ff"/><polygon points="935.45,197.58 929.68,207.59 941.23,207.59" fill="#1111ff"/><polygon points="944.52,238.83 938.75,248.84 950.3,248.84" fill="#1111ff"/><polygon points="953.6,276.82 947.83,286.83 959.38,286.83" fill="#1111ff"/><polygon points="962.67,305.54 956.9,315.55 968.45,315.55" fill="#1111ff"/><polygon points="971.75,326.5 965.98,336.51 977.52,336.51" fill="#1111ff"/><polygon points="980.83,340.19 975.05,350.2 986.6,350.2" fill="#1111ff"/><polygon points="989.9,334.52 984.12,344.53 995.67,344.53" fill="#1111ff"/><polygon points="998.98,327.92 993.2,337.93 1004.75,337.93" fill="#1111ff"/><polygon points="1008.05,323.66 1002.27,333.67 1013.82,333.67" fill="#1111ff"/><polygon points="1017.12,320.65 1011.35,330.67 1022.9,330.67" fill="#1111ff"/><polygon points="1026.2,318.99 1020.43,329 1031.98,329" fill="#1111ff"/><polygon points="1035.28,318.15 1029.5,328.16 1041.05,328.16" fill="#1111ff"/><polygon points="1044.35,317.48 1038.57,327.49 1050.12,327.49" fill="#1111ff"/><polygon points="1053.42,317.15 1047.65,327.16 1059.2,327.16" fill="#1111ff"/><polygon points="1062.5,317.06 1056.72,327.07 1068.28,327.07" fill="#1111ff"/><polygon points="1071.58,317.06 1065.8,327.07 1077.35,327.07" fill="#1111ff"/><polygon points="1080.65,317.06 1074.88,327.07 1086.43,327.07" fill="#1111ff"/><polygon points="1089.72,317.06 1083.95,327.07 1095.5,327.07" fill="#1111ff"/><polygon points="1098.8,317.06 1093.02,327.07 1104.58,327.07" fill="#1111ff"/><polygon points="1107.88,317.06 1102.1,327.07 1113.65,327.07" fill="#1111ff"/><polygon points="1116.95,317.06 1111.17,327.07 1122.73,327.07" fill="#1111ff"/><polygon points="1126.03,317.06 1120.25,327.07 1131.8,327.07" fill="#1111ff"/><polygon points="1135.1,317.06 1129.32,327.07 1140.88,327.07" fill="#1111ff"/><polygon points="1144.17,317.06 1138.4,327.07 1149.95,327.07" fill="#1111ff"/><polygon points="1153.25,317.06 1147.47,327.07 1159.03,327.07" fill="#1111ff"/></g>
<rect x="951.3" y="32.3" width="189.5" height="72.5" fill="#fff" stroke="#7a7a7a" stroke-width="1"/>
<path d="M962.8 48.4h38" stroke="#999" stroke-width="1.2"/>
<rect x="978.32" y="44.72" width="7.36" height="7.36" fill="#000"/>
<text x="1007.3" y="54.7" textLength="127.5" lengthAdjust="spacingAndGlyphs" class="lgb">Sensitivity (|Z|)</text>
<path d="M962.8 71.2h38" stroke="#f59a9a" stroke-width="1.2"/>
<circle cx="982" cy="71.2" r="4.42" fill="#ff0000"/>
<text x="1007.3" y="77.5" textLength="127.5" lengthAdjust="spacingAndGlyphs" class="lgb">Sensitivity (|R|)</text>
<path d="M962.8 94.6h38" stroke="#a6a6f5" stroke-width="1.2"/>
<polygon points="982,89.08 977.17,97.45 986.83,97.45" fill="#0000ff"/>
<text x="1007.3" y="100.9" textLength="127.5" lengthAdjust="spacingAndGlyphs" class="lgb">Sensitivity (|X|)</text>
<rect x="696" y="10" width="149" height="386.5" rx="3" fill="#ffc000" fill-opacity="0.2"/>
<rect x="845" y="10" width="125" height="386.5" rx="3" fill="#70ad47" fill-opacity="0.2"/>
<path d="M703.6 396.6H845M703.6 10H845M695.6 391.8V10M845 391.8V10" fill="none" stroke="#1877d6" stroke-width="2.7" stroke-dasharray="0.01 10.69" stroke-linecap="round"/>
<path d="M847 396.6H970.5M847 10H970.5M845 395.4V10M970.5 395.4V10" fill="none" stroke="#1877d6" stroke-width="2.7" stroke-dasharray="0.01 10.69" stroke-linecap="round"/>
<path d="M708.6 196.7H1156" stroke="#111" stroke-width="2.6" stroke-dasharray="4.5 8.05" fill="none"/>
<path d="M840.5 196.7V390.5M886.6 16.5V390.5M933.4 196.7V390.5" stroke="#c00000" stroke-width="3.3" fill="none"/>
<text x="789" y="43.5" text-anchor="middle" class="ann" textLength="134" lengthAdjust="spacingAndGlyphs">Maximum Sensitivity</text>
<text x="789" y="64.5" text-anchor="middle" class="ann" textLength="129" lengthAdjust="spacingAndGlyphs">Peak freq = 12.6 kHz</text>
<text x="1062" y="148" text-anchor="middle" class="ann" textLength="41" lengthAdjust="spacingAndGlyphs">FWHM</text>
<text x="1062" y="172.5" text-anchor="middle" class="ann" textLength="113" lengthAdjust="spacingAndGlyphs" style="font-size:12px">~ (4 kHz – 40 kHz)</text>
<text x="690" y="396.75" text-anchor="end" class="tkb">-0.5</text>
<text x="690" y="355" text-anchor="end" class="tkb">0.0</text>
<text x="690" y="313.25" text-anchor="end" class="tkb">0.5</text>
<text x="690" y="271.5" text-anchor="end" class="tkb">1.0</text>
<text x="690" y="229.75" text-anchor="end" class="tkb">1.5</text>
<text x="690" y="188" text-anchor="end" class="tkb">2.0</text>
<text x="690" y="146.25" text-anchor="end" class="tkb">2.5</text>
<text x="690" y="104.5" text-anchor="end" class="tkb">3.0</text>
<text x="690" y="62.75" text-anchor="end" class="tkb">3.5</text>
<text x="690" y="21" text-anchor="end" class="tkb">4.0</text>
<text x="699.5" y="413.5" text-anchor="middle" class="tkb">100</text>
<text x="790.25" y="413.5" text-anchor="middle" class="tkb">1k</text>
<text x="881" y="413.5" text-anchor="middle" class="tkb">10k</text>
<text x="971.75" y="413.5" text-anchor="middle" class="tkb">100k</text>
<text x="1062.5" y="413.5" text-anchor="middle" class="tkb">1M</text>
<text x="1153.25" y="413.5" text-anchor="middle" class="tkb">10M</text>
<text x="925.7" y="448" text-anchor="middle" class="ax" textLength="140" lengthAdjust="spacingAndGlyphs" style="font-size:19.4px">Frequency (Hz)</text>
<text transform="translate(645 214.3) rotate(-90)" text-anchor="middle" class="ax" textLength="140.6" lengthAdjust="spacingAndGlyphs" style="font-size:19.4px">Sensitivity (%)</text>
<text x="612" y="40.3" class="pl" textLength="42" lengthAdjust="spacingAndGlyphs">(b)</text>
</g>
<g id="panel-cd">
<defs><linearGradient id="gc0" gradientUnits="userSpaceOnUse" x1="1188" y1="0" x2="1824.8" y2="0"><stop offset="0" stop-color="#e10000"/><stop offset="0.1003" stop-color="#ee0000"/><stop offset="0.1599" stop-color="#ff0200"/><stop offset="0.2382" stop-color="#ff2d00"/><stop offset="0.3072" stop-color="#ff6c00"/><stop offset="0.3668" stop-color="#ffb800"/><stop offset="0.4107" stop-color="#fdff02"/><stop offset="0.4639" stop-color="#acff53"/><stop offset="0.5643" stop-color="#03fffc"/><stop offset="0.6771" stop-color="#005bff"/><stop offset="0.7429" stop-color="#0012ff"/><stop offset="0.768" stop-color="#0000fc"/><stop offset="0.8433" stop-color="#0000ce"/><stop offset="0.9248" stop-color="#0000b4"/><stop offset="1" stop-color="#0000ae"/></linearGradient><linearGradient id="gc1" gradientUnits="userSpaceOnUse" x1="1188" y1="0" x2="1824.8" y2="0"><stop offset="0" stop-color="#e10000"/><stop offset="0.1003" stop-color="#ee0000"/><stop offset="0.1599" stop-color="#ff0200"/><stop offset="0.2382" stop-color="#ff2d00"/><stop offset="0.3072" stop-color="#ff6c00"/><stop offset="0.3668" stop-color="#ffb800"/><stop offset="0.4107" stop-color="#fdff02"/><stop offset="0.4639" stop-color="#acff53"/><stop offset="0.5643" stop-color="#03fffc"/><stop offset="0.6771" stop-color="#005bff"/><stop offset="0.7429" stop-color="#0012ff"/><stop offset="0.768" stop-color="#0000fc"/><stop offset="0.8433" stop-color="#0000ce"/><stop offset="0.9248" stop-color="#0000b4"/><stop offset="1" stop-color="#0000ae"/></linearGradient><linearGradient id="gc2" gradientUnits="userSpaceOnUse" x1="1188" y1="0" x2="1824.8" y2="0"><stop offset="0" stop-color="#e10000"/><stop offset="0.1003" stop-color="#ee0000"/><stop offset="0.1599" stop-color="#ff0200"/><stop offset="0.2382" stop-color="#ff2d00"/><stop offset="0.3072" stop-color="#ff6b00"/><stop offset="0.3668" stop-color="#ffb800"/><stop offset="0.4107" stop-color="#fdff02"/><stop offset="0.4639" stop-color="#acff53"/><stop offset="0.5643" stop-color="#03fffc"/><stop offset="0.6771" stop-color="#005bff"/><stop offset="0.7429" stop-color="#0012ff"/><stop offset="0.768" stop-color="#0000fc"/><stop offset="0.8433" stop-color="#0000ce"/><stop offset="0.9248" stop-color="#0000b4"/><stop offset="1" stop-color="#0000ae"/></linearGradient><linearGradient id="gc3" gradientUnits="userSpaceOnUse" x1="1188" y1="0" x2="1824.8" y2="0"><stop offset="0" stop-color="#e10000"/><stop offset="0.1003" stop-color="#ee0000"/><stop offset="0.163" stop-color="#ff0300"/><stop offset="0.2382" stop-color="#ff2d00"/><stop offset="0.3072" stop-color="#ff6b00"/><stop offset="0.3668" stop-color="#ffb800"/><stop offset="0.4107" stop-color="#fdff02"/><stop offset="0.4639" stop-color="#acff53"/><stop offset="0.5643" stop-color="#03fffc"/><stop offset="0.6771" stop-color="#005bff"/><stop offset="0.7429" stop-color="#0012ff"/><stop offset="0.7649" stop-color="#0000fe"/><stop offset="0.8401" stop-color="#0000cf"/><stop offset="0.9216" stop-color="#0000b4"/><stop offset="1" stop-color="#0000ae"/></linearGradient><linearGradient id="gc4" gradientUnits="userSpaceOnUse" x1="1188" y1="0" x2="1824.8" y2="0"><stop offset="0" stop-color="#e10000"/><stop offset="0.1003" stop-color="#ee0000"/><stop offset="0.163" stop-color="#ff0300"/><stop offset="0.2382" stop-color="#ff2d00"/><stop offset="0.3072" stop-color="#ff6b00"/><stop offset="0.3668" stop-color="#ffb800"/><stop offset="0.4107" stop-color="#feff01"/><stop offset="0.4639" stop-color="#acff53"/><stop offset="0.5643" stop-color="#02fffd"/><stop offset="0.6771" stop-color="#005aff"/><stop offset="0.7429" stop-color="#0012ff"/><stop offset="0.7649" stop-color="#0000fe"/><stop offset="0.8401" stop-color="#0000cf"/><stop offset="0.9216" stop-color="#0000b4"/><stop offset="1" stop-color="#0000ae"/></linearGradient><linearGradient id="gc5" gradientUnits="userSpaceOnUse" x1="1188" y1="0" x2="1824.8" y2="0"><stop offset="0" stop-color="#e10000"/><stop offset="0.1003" stop-color="#ee0000"/><stop offset="0.163" stop-color="#ff0300"/><stop offset="0.2382" stop-color="#ff2c00"/><stop offset="0.3072" stop-color="#ff6b00"/><stop offset="0.3668" stop-color="#ffb700"/><stop offset="0.4107" stop-color="#feff01"/><stop offset="0.4639" stop-color="#acff53"/><stop offset="0.5643" stop-color="#02fffd"/><stop offset="0.674" stop-color="#005eff"/><stop offset="0.7398" stop-color="#0014ff"/><stop offset="0.7649" stop-color="#0000fd"/><stop offset="0.8401" stop-color="#0000cf"/><stop offset="0.9216" stop-color="#0000b4"/><stop offset="1" stop-color="#0000ae"/></linearGradient><linearGradient id="gc6" gradientUnits="userSpaceOnUse" x1="1188" y1="0" x2="1824.8" y2="0"><stop offset="0" stop-color="#e10000"/><stop offset="0.1034" stop-color="#ee0000"/><stop offset="0.163" stop-color="#ff0300"/><stop offset="0.2382" stop-color="#ff2c00"/><stop offset="0.3072" stop-color="#ff6a00"/><stop offset="0.3668" stop-color="#ffb700"/><stop offset="0.4107" stop-color="#feff01"/><stop offset="0.4639" stop-color="#adff52"/><stop offset="0.5643" stop-color="#02fffd"/><stop offset="0.674" stop-color="#005dff"/><stop offset="0.7398" stop-color="#0014ff"/><stop offset="0.7649" stop-color="#0000fd"/><stop offset="0.8401" stop-color="#0000ce"/><stop offset="0.9216" stop-color="#0000b3"/><stop offset="1" stop-color="#0000ae"/></linearGradient><linearGradient id="gc7" gradientUnits="userSpaceOnUse" x1="1188" y1="0" x2="1824.8" y2="0"><stop offset="0" stop-color="#e00000"/><stop offset="0.1034" stop-color="#ee0000"/><stop offset="0.163" stop-color="#ff0200"/><stop offset="0.2382" stop-color="#ff2b00"/><stop offset="0.3072" stop-color="#ff6900"/><stop offset="0.3668" stop-color="#ffb600"/><stop offset="0.4107" stop-color="#ffff00"/><stop offset="0.4639" stop-color="#adff52"/><stop offset="0.5643" stop-color="#01fffe"/><stop offset="0.6708" stop-color="#0061ff"/><stop offset="0.7367" stop-color="#0016ff"/><stop offset="0.7649" stop-color="#0000fc"/><stop offset="0.8401" stop-color="#0000ce"/><stop offset="0.9216" stop-color="#0000b3"/><stop offset="1" stop-color="#0000ae"/></linearGradient><linearGradient id="gc8" gradientUnits="userSpaceOnUse" x1="1188" y1="0" x2="1824.8" y2="0"><stop offset="0" stop-color="#e00000"/><stop offset="0.1034" stop-color="#ed0000"/><stop offset="0.1661" stop-color="#ff0300"/><stop offset="0.2414" stop-color="#ff2d00"/><stop offset="0.3072" stop-color="#ff6900"/><stop offset="0.3668" stop-color="#ffb600"/><stop offset="0.4107" stop-color="#fffe00"/><stop offset="0.4608" stop-color="#b3ff4c"/><stop offset="0.5643" stop-color="#01fffe"/><stop offset="0.6708" stop-color="#0060ff"/><stop offset="0.7367" stop-color="#0015ff"/><stop offset="0.7618" stop-color="#0000fe"/><stop offset="0.837" stop-color="#0000cf"/><stop offset="0.9185" stop-color="#0000b3"/><stop offset="1" stop-color="#0000ad"/></linearGradient><linearGradient id="gc9" gradientUnits="userSpaceOnUse" x1="1188" y1="0" x2="1824.8" y2="0"><stop offset="0" stop-color="#e00000"/><stop offset="0.1034" stop-color="#ed0000"/><stop offset="0.1661" stop-color="#ff0300"/><stop offset="0.2414" stop-color="#ff2c00"/><stop offset="0.3072" stop-color="#ff6800"/><stop offset="0.3699" stop-color="#ffba00"/><stop offset="0.4107" stop-color="#fffe00"/><stop offset="0.4577" stop-color="#b8ff47"/><stop offset="0.5643" stop-color="#00ffff"/><stop offset="0.6677" stop-color="#0063ff"/><stop offset="0.7304" stop-color="#001aff"/><stop offset="0.7618" stop-color="#0000fd"/><stop offset="0.837" stop-color="#0000ce"/><stop offset="0.9154" stop-color="#0000b4"/><stop offset="1" stop-color="#0000ad"/></linearGradient><linearGradient id="gc10" gradientUnits="userSpaceOnUse" x1="1188" y1="0" x2="1824.8" y2="0"><stop offset="0" stop-color="#df0000"/><stop offset="0.1066" stop-color="#ed0000"/><stop offset="0.1693" stop-color="#ff0300"/><stop offset="0.2445" stop-color="#ff2e00"/><stop offset="0.3103" stop-color="#ff6b00"/><stop offset="0.3699" stop-color="#ffb900"/><stop offset="0.4107" stop-color="#fffd00"/><stop offset="0.4577" stop-color="#b9ff46"/><stop offset="0.5643" stop-color="#00feff"/><stop offset="0.6677" stop-color="#0062ff"/><stop offset="0.7304" stop-color="#0019ff"/><stop offset="0.7618" stop-color="#0000fc"/><stop offset="0.837" stop-color="#0000ce"/><stop offset="0.9154" stop-color="#0000b3"/><stop offset="1" stop-color="#0000ad"/></linearGradient><linearGradient id="gc11" gradientUnits="userSpaceOnUse" x1="1188" y1="0" x2="1824.8" y2="0"><stop offset="0" stop-color="#de0000"/><stop offset="0.1097" stop-color="#ee0000"/><stop offset="0.1693" stop-color="#ff0300"/><stop offset="0.2445" stop-color="#ff2d00"/><stop offset="0.3103" stop-color="#ff6a00"/><stop offset="0.3699" stop-color="#ffb800"/><stop offset="0.4138" stop-color="#fdff02"/><stop offset="0.4608" stop-color="#b4ff4b"/><stop offset="0.5611" stop-color="#03fffc"/><stop offset="0.5893" stop-color="#00d6ff"/><stop offset="0.674" stop-color="#0058ff"/><stop offset="0.7367" stop-color="#0012ff"/><stop offset="0.7586" stop-color="#0000fe"/><stop offset="0.8339" stop-color="#0000ce"/><stop offset="0.9122" stop-color="#0000b3"/><stop offset="1" stop-color="#0000ac"/></linearGradient><linearGradient id="gc12" gradientUnits="userSpaceOnUse" x1="1188" y1="0" x2="1824.8" y2="0"><stop offset="0" stop-color="#de0000"/><stop offset="0.1097" stop-color="#ed0000"/><stop offset="0.1724" stop-color="#ff0300"/><stop offset="0.2476" stop-color="#ff2e00"/><stop offset="0.3103" stop-color="#ff6800"/><stop offset="0.3699" stop-color="#ffb700"/><stop offset="0.4138" stop-color="#feff01"/><stop offset="0.4608" stop-color="#b4ff4b"/><stop offset="0.5611" stop-color="#02fffd"/><stop offset="0.6708" stop-color="#005bff"/><stop offset="0.7335" stop-color="#0014ff"/><stop offset="0.7586" stop-color="#0000fd"/><stop offset="0.8339" stop-color="#0000cd"/><stop offset="0.9122" stop-color="#0000b3"/><stop offset="1" stop-color="#0000ac"/></linearGradient><linearGradient id="gc13" gradientUnits="userSpaceOnUse" x1="1188" y1="0" x2="1824.8" y2="0"><stop offset="0" stop-color="#dd0000"/><stop offset="0.1129" stop-color="#ed0000"/><stop offset="0.1724" stop-color="#ff0300"/><stop offset="0.2476" stop-color="#ff2d00"/><stop offset="0.3103" stop-color="#ff6700"/><stop offset="0.3699" stop-color="#ffb500"/><stop offset="0.4138" stop-color="#fffe00"/><stop offset="0.4608" stop-color="#b5ff4a"/><stop offset="0.5611" stop-color="#01fffe"/><stop offset="0.6677" stop-color="#005eff"/><stop offset="0.7304" stop-color="#0016ff"/><stop offset="0.7555" stop-color="#0000fe"/><stop offset="0.8307" stop-color="#0000ce"/><stop offset="0.9091" stop-color="#0000b3"/><stop offset="1" stop-color="#0000ac"/></linearGradient><linearGradient id="gc14" gradientUnits="userSpaceOnUse" x1="1188" y1="0" x2="1824.8" y2="0"><stop offset="0" stop-color="#dc0000"/><stop offset="0.116" stop-color="#ed0000"/><stop offset="0.1755" stop-color="#ff0300"/><stop offset="0.2508" stop-color="#ff2e00"/><stop offset="0.3135" stop-color="#ff6900"/><stop offset="0.373" stop-color="#ffb900"/><stop offset="0.4138" stop-color="#fffd00"/><stop offset="0.4577" stop-color="#bbff44"/><stop offset="0.5611" stop-color="#00ffff"/><stop offset="0.6646" stop-color="#0061ff"/><stop offset="0.7273" stop-color="#0017ff"/><stop offset="0.7555" stop-color="#0000fd"/><stop offset="0.8307" stop-color="#0000cd"/><stop offset="0.906" stop-color="#0000b3"/><stop offset="1" stop-color="#0000ab"/></linearGradient><linearGradient id="gc15" gradientUnits="userSpaceOnUse" x1="1188" y1="0" x2="1824.8" y2="0"><stop offset="0" stop-color="#db0000"/><stop offset="0.116" stop-color="#ed0000"/><stop offset="0.1787" stop-color="#ff0400"/><stop offset="0.2508" stop-color="#ff2d00"/><stop offset="0.3135" stop-color="#ff6800"/><stop offset="0.373" stop-color="#ffb800"/><stop offset="0.4138" stop-color="#fffc00"/><stop offset="0.4483" stop-color="#cdff32"/><stop offset="0.558" stop-color="#04fffb"/><stop offset="0.5674" stop-color="#00f4ff"/><stop offset="0.6646" stop-color="#005fff"/><stop offset="0.7273" stop-color="#0016ff"/><stop offset="0.7524" stop-color="#0000fe"/><stop offset="0.8276" stop-color="#0000cd"/><stop offset="0.9028" stop-color="#0000b3"/><stop offset="1" stop-color="#0000ab"/></linearGradient><linearGradient id="gc16" gradientUnits="userSpaceOnUse" x1="1188" y1="0" x2="1824.8" y2="0"><stop offset="0" stop-color="#da0000"/><stop offset="0.1191" stop-color="#ed0000"/><stop offset="0.1787" stop-color="#ff0300"/><stop offset="0.2508" stop-color="#ff2c00"/><stop offset="0.3135" stop-color="#ff6600"/><stop offset="0.373" stop-color="#ffb600"/><stop offset="0.4169" stop-color="#ffff00"/><stop offset="0.4608" stop-color="#b7ff48"/><stop offset="0.5517" stop-color="#0efff1"/><stop offset="0.5611" stop-color="#00fdff"/><stop offset="0.6646" stop-color="#005dff"/><stop offset="0.7273" stop-color="#0014ff"/><stop offset="0.7524" stop-color="#0000fc"/><stop offset="0.8276" stop-color="#0000cc"/><stop offset="0.9028" stop-color="#0000b2"/><stop offset="1" stop-color="#0000aa"/></linearGradient><linearGradient id="gc17" gradientUnits="userSpaceOnUse" x1="1188" y1="0" x2="1824.8" y2="0"><stop offset="0" stop-color="#d90000"/><stop offset="0.116" stop-color="#eb0000"/><stop offset="0.1818" stop-color="#ff0300"/><stop offset="0.2539" stop-color="#ff2d00"/><stop offset="0.3135" stop-color="#ff6500"/><stop offset="0.373" stop-color="#ffb400"/><stop offset="0.4169" stop-color="#fffe00"/><stop offset="0.4545" stop-color="#c4ff3b"/><stop offset="0.5455" stop-color="#17ffe8"/><stop offset="0.5611" stop-color="#00fbff"/><stop offset="0.6646" stop-color="#005bff"/><stop offset="0.7273" stop-color="#0012ff"/><stop offset="0.7492" stop-color="#0000fd"/><stop offset="0.8213" stop-color="#0000ce"/><stop offset="0.8966" stop-color="#0000b3"/><stop offset="1" stop-color="#0000aa"/></linearGradient><linearGradient id="gc18" gradientUnits="userSpaceOnUse" x1="1188" y1="0" x2="1824.8" y2="0"><stop offset="0" stop-color="#d80000"/><stop offset="0.1129" stop-color="#e90000"/><stop offset="0.185" stop-color="#ff0300"/><stop offset="0.2571" stop-color="#ff2e00"/><stop offset="0.3166" stop-color="#ff6700"/><stop offset="0.3762" stop-color="#ffb800"/><stop offset="0.4169" stop-color="#fffc00"/><stop offset="0.4483" stop-color="#d1ff2e"/><stop offset="0.5423" stop-color="#1bffe4"/><stop offset="0.558" stop-color="#00ffff"/><stop offset="0.6614" stop-color="#005dff"/><stop offset="0.721" stop-color="#0016ff"/><stop offset="0.7461" stop-color="#0000fe"/><stop offset="0.8182" stop-color="#0000ce"/><stop offset="0.8934" stop-color="#0000b2"/><stop offset="1" stop-color="#0000a9"/></linearGradient><linearGradient id="gc19" gradientUnits="userSpaceOnUse" x1="1188" y1="0" x2="1824.8" y2="0"><stop offset="0" stop-color="#d70000"/><stop offset="0.1097" stop-color="#e70000"/><stop offset="0.1881" stop-color="#ff0300"/><stop offset="0.2602" stop-color="#ff2e00"/><stop offset="0.3197" stop-color="#ff6900"/><stop offset="0.3762" stop-color="#ffb600"/><stop offset="0.4201" stop-color="#ffff00"/><stop offset="0.4577" stop-color="#c0ff3f"/><stop offset="0.5329" stop-color="#2affd5"/><stop offset="0.558" stop-color="#00feff"/><stop offset="0.6614" stop-color="#005bff"/><stop offset="0.721" stop-color="#0014ff"/><stop offset="0.7461" stop-color="#0000fc"/><stop offset="0.8182" stop-color="#0000cd"/><stop offset="0.8903" stop-color="#0000b2"/><stop offset="1" stop-color="#0000a8"/></linearGradient><linearGradient id="gc20" gradientUnits="userSpaceOnUse" x1="1188" y1="0" x2="1824.8" y2="0"><stop offset="0" stop-color="#d60000"/><stop offset="0.1034" stop-color="#e50000"/><stop offset="0.1881" stop-color="#ff0200"/><stop offset="0.2602" stop-color="#ff2d00"/><stop offset="0.3166" stop-color="#ff6300"/><stop offset="0.3762" stop-color="#ffb400"/><stop offset="0.4201" stop-color="#fffd00"/><stop offset="0.4545" stop-color="#c8ff37"/><stop offset="0.5266" stop-color="#34ffcb"/><stop offset="0.5549" stop-color="#02fffd"/><stop offset="0.6646" stop-color="#0054ff"/><stop offset="0.7241" stop-color="#000fff"/><stop offset="0.7429" stop-color="#0000fd"/><stop offset="0.815" stop-color="#0000cd"/><stop offset="0.8871" stop-color="#0000b2"/><stop offset="1" stop-color="#0000a8"/></linearGradient><linearGradient id="gc21" gradientUnits="userSpaceOnUse" x1="1188" y1="0" x2="1824.8" y2="0"><stop offset="0" stop-color="#d40000"/><stop offset="0.1003" stop-color="#e30000"/><stop offset="0.1912" stop-color="#ff0200"/><stop offset="0.2633" stop-color="#ff2d00"/><stop offset="0.3197" stop-color="#ff6400"/><stop offset="0.3793" stop-color="#ffb700"/><stop offset="0.4201" stop-color="#fffb00"/><stop offset="0.4295" stop-color="#f5ff0a"/><stop offset="0.4608" stop-color="#bdff42"/><stop offset="0.5204" stop-color="#3effc1"/><stop offset="0.5549" stop-color="#00ffff"/><stop offset="0.6583" stop-color="#005bff"/><stop offset="0.7179" stop-color="#0013ff"/><stop offset="0.7398" stop-color="#0000fd"/><stop offset="0.8119" stop-color="#0000cd"/><stop offset="0.884" stop-color="#0000b2"/><stop offset="1" stop-color="#0000a7"/></linearGradient><linearGradient id="gc22" gradientUnits="userSpaceOnUse" x1="1188" y1="0" x2="1824.8" y2="0"><stop offset="0" stop-color="#d30000"/><stop offset="0.0909" stop-color="#e00000"/><stop offset="0.185" stop-color="#fd0000"/><stop offset="0.2445" stop-color="#ff1e00"/><stop offset="0.3041" stop-color="#ff5000"/><stop offset="0.3636" stop-color="#ff9d00"/><stop offset="0.4232" stop-color="#fffe00"/><stop offset="0.4545" stop-color="#ccff33"/><stop offset="0.5172" stop-color="#42ffbd"/><stop offset="0.5549" stop-color="#00feff"/><stop offset="0.6583" stop-color="#0058ff"/><stop offset="0.7179" stop-color="#0010ff"/><stop offset="0.7367" stop-color="#0000fe"/><stop offset="0.8088" stop-color="#0000cd"/><stop offset="0.8777" stop-color="#0000b2"/><stop offset="1" stop-color="#0000a6"/></linearGradient><linearGradient id="gc23" gradientUnits="userSpaceOnUse" x1="1188" y1="0" x2="1824.8" y2="0"><stop offset="0" stop-color="#d20000"/><stop offset="0.0909" stop-color="#df0000"/><stop offset="0.1975" stop-color="#ff0200"/><stop offset="0.2665" stop-color="#ff2b00"/><stop offset="0.3197" stop-color="#ff6000"/><stop offset="0.3793" stop-color="#ffb200"/><stop offset="0.4201" stop-color="#fff700"/><stop offset="0.4295" stop-color="#f9ff06"/><stop offset="0.4577" stop-color="#c9ff36"/><stop offset="0.511" stop-color="#4bffb4"/><stop offset="0.5517" stop-color="#02fffd"/><stop offset="0.6614" stop-color="#0051ff"/><stop offset="0.721" stop-color="#000bff"/><stop offset="0.7367" stop-color="#0000fb"/><stop offset="0.8088" stop-color="#0000cb"/><stop offset="0.8777" stop-color="#0000b1"/><stop offset="1" stop-color="#0000a6"/></linearGradient><linearGradient id="gc24" gradientUnits="userSpaceOnUse" x1="1188" y1="0" x2="1824.8" y2="0"><stop offset="0" stop-color="#d00000"/><stop offset="0.0909" stop-color="#dd0000"/><stop offset="0.1944" stop-color="#fe0000"/><stop offset="0.2633" stop-color="#ff2700"/><stop offset="0.3197" stop-color="#ff5d00"/><stop offset="0.3793" stop-color="#ffb000"/><stop offset="0.4201" stop-color="#fff400"/><stop offset="0.4295" stop-color="#fcff03"/><stop offset="0.4577" stop-color="#ccff33"/><stop offset="0.4828" stop-color="#8dff72"/><stop offset="0.5047" stop-color="#55ffaa"/><stop offset="0.5517" stop-color="#00ffff"/><stop offset="0.6552" stop-color="#0057ff"/><stop offset="0.7116" stop-color="#0011ff"/><stop offset="0.7304" stop-color="#0000fe"/><stop offset="0.7994" stop-color="#0000ce"/><stop offset="0.8683" stop-color="#0000b2"/><stop offset="0.9937" stop-color="#0000a5"/><stop offset="1" stop-color="#0000a5"/></linearGradient><linearGradient id="gc25" gradientUnits="userSpaceOnUse" x1="1188" y1="0" x2="1824.8" y2="0"><stop offset="0" stop-color="#cf0000"/><stop offset="0.0909" stop-color="#db0000"/><stop offset="0.1975" stop-color="#fe0000"/><stop offset="0.2633" stop-color="#ff2400"/><stop offset="0.3166" stop-color="#ff5700"/><stop offset="0.373" stop-color="#ffa400"/><stop offset="0.4232" stop-color="#fff600"/><stop offset="0.4326" stop-color="#faff05"/><stop offset="0.4608" stop-color="#cbff34"/><stop offset="0.5016" stop-color="#57ffa8"/><stop offset="0.5517" stop-color="#00fdff"/><stop offset="0.6552" stop-color="#0054ff"/><stop offset="0.7116" stop-color="#000eff"/><stop offset="0.7304" stop-color="#0000fb"/><stop offset="0.7994" stop-color="#0000cc"/><stop offset="0.8652" stop-color="#0000b2"/><stop offset="0.9906" stop-color="#0000a4"/><stop offset="1" stop-color="#0000a4"/></linearGradient><linearGradient id="gc26" gradientUnits="userSpaceOnUse" x1="1188" y1="0" x2="1824.8" y2="0"><stop offset="0" stop-color="#cd0000"/><stop offset="0.094" stop-color="#da0000"/><stop offset="0.2006" stop-color="#fd0000"/><stop offset="0.2633" stop-color="#ff2200"/><stop offset="0.3166" stop-color="#ff5400"/><stop offset="0.373" stop-color="#ffa100"/><stop offset="0.4201" stop-color="#ffef00"/><stop offset="0.4326" stop-color="#fcff03"/><stop offset="0.4608" stop-color="#ceff31"/><stop offset="0.5047" stop-color="#4cffb3"/><stop offset="0.5486" stop-color="#01fffe"/><stop offset="0.6552" stop-color="#0050ff"/><stop offset="0.7116" stop-color="#000bff"/><stop offset="0.7273" stop-color="#0000fb"/><stop offset="0.7962" stop-color="#0000cb"/><stop offset="0.8621" stop-color="#0000b1"/><stop offset="0.9875" stop-color="#0000a3"/><stop offset="1" stop-color="#0000a3"/></linearGradient><linearGradient id="gc27" gradientUnits="userSpaceOnUse" x1="1188" y1="0" x2="1824.8" y2="0"><stop offset="0" stop-color="#cc0000"/><stop offset="0.094" stop-color="#d90000"/><stop offset="0.2132" stop-color="#ff0200"/><stop offset="0.279" stop-color="#ff2c00"/><stop offset="0.3292" stop-color="#ff6100"/><stop offset="0.3856" stop-color="#ffb300"/><stop offset="0.4201" stop-color="#ffed00"/><stop offset="0.4326" stop-color="#ffff00"/><stop offset="0.4577" stop-color="#d9ff26"/><stop offset="0.5078" stop-color="#42ffbd"/><stop offset="0.5486" stop-color="#00feff"/><stop offset="0.652" stop-color="#0051ff"/><stop offset="0.7053" stop-color="#000fff"/><stop offset="0.7241" stop-color="#0000fb"/><stop offset="0.7931" stop-color="#0000cb"/><stop offset="0.8589" stop-color="#0000b1"/><stop offset="0.9843" stop-color="#0000a3"/><stop offset="1" stop-color="#0000a2"/></linearGradient><linearGradient id="gc28" gradientUnits="userSpaceOnUse" x1="1188" y1="0" x2="1824.8" y2="0"><stop offset="0" stop-color="#ca0000"/><stop offset="0.094" stop-color="#d70000"/><stop offset="0.21" stop-color="#fe0000"/><stop offset="0.2727" stop-color="#ff2400"/><stop offset="0.3229" stop-color="#ff5600"/><stop offset="0.3762" stop-color="#ffa100"/><stop offset="0.4201" stop-color="#ffeb00"/><stop offset="0.4357" stop-color="#fdff02"/><stop offset="0.4545" stop-color="#e4ff1b"/><stop offset="0.511" stop-color="#39ffc6"/><stop offset="0.5486" stop-color="#00fdff"/><stop offset="0.6489" stop-color="#0052ff"/><stop offset="0.7022" stop-color="#000fff"/><stop offset="0.7179" stop-color="#0000fe"/><stop offset="0.7837" stop-color="#0000ce"/><stop offset="0.8495" stop-color="#0000b1"/><stop offset="0.9749" stop-color="#0000a2"/><stop offset="1" stop-color="#0000a2"/></linearGradient><linearGradient id="gc29" gradientUnits="userSpaceOnUse" x1="1188" y1="0" x2="1824.8" y2="0"><stop offset="0" stop-color="#c80000"/><stop offset="0.0972" stop-color="#d60000"/><stop offset="0.2132" stop-color="#fd0000"/><stop offset="0.2727" stop-color="#ff2200"/><stop offset="0.3229" stop-color="#ff5300"/><stop offset="0.3762" stop-color="#ff9e00"/><stop offset="0.4201" stop-color="#ffe800"/><stop offset="0.4357" stop-color="#fffe00"/><stop offset="0.4545" stop-color="#e6ff19"/><stop offset="0.511" stop-color="#37ffc8"/><stop offset="0.5455" stop-color="#01fffe"/><stop offset="0.6489" stop-color="#004fff"/><stop offset="0.7022" stop-color="#000bff"/><stop offset="0.7147" stop-color="#0000fd"/><stop offset="0.7806" stop-color="#0000cd"/><stop offset="0.8464" stop-color="#0000b1"/><stop offset="0.9718" stop-color="#0000a1"/><stop offset="1" stop-color="#0000a1"/></linearGradient><linearGradient id="gc30" gradientUnits="userSpaceOnUse" x1="1188" y1="0" x2="1824.8" y2="0"><stop offset="0" stop-color="#c70000"/><stop offset="0.0972" stop-color="#d30000"/><stop offset="0.2257" stop-color="#ff0200"/><stop offset="0.2915" stop-color="#ff2e00"/><stop offset="0.3417" stop-color="#ff6700"/><stop offset="0.395" stop-color="#ffbc00"/><stop offset="0.4232" stop-color="#ffeb00"/><stop offset="0.4389" stop-color="#fdff02"/><stop offset="0.4545" stop-color="#e7ff18"/><stop offset="0.511" stop-color="#36ffc9"/><stop offset="0.5455" stop-color="#00feff"/><stop offset="0.6458" stop-color="#0050ff"/><stop offset="0.6959" stop-color="#000eff"/><stop offset="0.7116" stop-color="#0000fd"/><stop offset="0.7774" stop-color="#0000cc"/><stop offset="0.8401" stop-color="#0000b1"/><stop offset="0.9687" stop-color="#0000a0"/><stop offset="1" stop-color="#0000a0"/></linearGradient><linearGradient id="gc31" gradientUnits="userSpaceOnUse" x1="1188" y1="0" x2="1824.8" y2="0"><stop offset="0" stop-color="#c50000"/><stop offset="0.0972" stop-color="#d10000"/><stop offset="0.2226" stop-color="#fd0000"/><stop offset="0.279" stop-color="#ff2100"/><stop offset="0.326" stop-color="#ff5000"/><stop offset="0.3762" stop-color="#ff9800"/><stop offset="0.4201" stop-color="#ffe400"/><stop offset="0.4389" stop-color="#ffff00"/><stop offset="0.4545" stop-color="#eaff15"/><stop offset="0.511" stop-color="#36ffc9"/><stop offset="0.5455" stop-color="#00fdff"/><stop offset="0.6458" stop-color="#004bff"/><stop offset="0.6959" stop-color="#000aff"/><stop offset="0.7085" stop-color="#0000fc"/><stop offset="0.7743" stop-color="#0000cb"/><stop offset="0.8339" stop-color="#0000b1"/><stop offset="0.9624" stop-color="#0000a0"/><stop offset="1" stop-color="#00009f"/></linearGradient><linearGradient id="gc32" gradientUnits="userSpaceOnUse" x1="1188" y1="0" x2="1824.8" y2="0"><stop offset="0" stop-color="#c30000"/><stop offset="0.1003" stop-color="#d00000"/><stop offset="0.2257" stop-color="#fc0000"/><stop offset="0.2727" stop-color="#ff1900"/><stop offset="0.3166" stop-color="#ff4100"/><stop offset="0.3668" stop-color="#ff8600"/><stop offset="0.4232" stop-color="#ffe700"/><stop offset="0.4389" stop-color="#fffe00"/><stop offset="0.4545" stop-color="#eaff15"/><stop offset="0.5078" stop-color="#3dffc2"/><stop offset="0.5423" stop-color="#02fffd"/><stop offset="0.6458" stop-color="#0047ff"/><stop offset="0.6959" stop-color="#0006ff"/><stop offset="0.7085" stop-color="#0000f8"/><stop offset="0.7743" stop-color="#0000c8"/><stop offset="0.8307" stop-color="#0000b0"/><stop offset="0.9592" stop-color="#00009f"/><stop offset="1" stop-color="#00009e"/></linearGradient><linearGradient id="gc33" gradientUnits="userSpaceOnUse" x1="1188" y1="0" x2="1824.8" y2="0"><stop offset="0" stop-color="#c10000"/><stop offset="0.1003" stop-color="#ce0000"/><stop offset="0.2288" stop-color="#fb0000"/><stop offset="0.2571" stop-color="#ff0c00"/><stop offset="0.3072" stop-color="#ff3300"/><stop offset="0.3542" stop-color="#ff6e00"/><stop offset="0.4013" stop-color="#ffc000"/><stop offset="0.4389" stop-color="#fffe00"/><stop offset="0.4577" stop-color="#e2ff1d"/><stop offset="0.5047" stop-color="#47ffb8"/><stop offset="0.5423" stop-color="#01fffe"/><stop offset="0.6395" stop-color="#004cff"/><stop offset="0.6865" stop-color="#000cff"/><stop offset="0.6991" stop-color="#0000fd"/><stop offset="0.7618" stop-color="#0000cc"/><stop offset="0.8213" stop-color="#0000b1"/><stop offset="0.9498" stop-color="#00009e"/><stop offset="1" stop-color="#00009d"/></linearGradient><linearGradient id="gc34" gradientUnits="userSpaceOnUse" x1="1188" y1="0" x2="1824.8" y2="0"><stop offset="0" stop-color="#bf0000"/><stop offset="0.1034" stop-color="#cc0000"/><stop offset="0.2351" stop-color="#fc0000"/><stop offset="0.2665" stop-color="#ff0f00"/><stop offset="0.3135" stop-color="#ff3600"/><stop offset="0.3605" stop-color="#ff7400"/><stop offset="0.4389" stop-color="#fffd00"/><stop offset="0.4608" stop-color="#d8ff27"/><stop offset="0.5016" stop-color="#51ffae"/><stop offset="0.5423" stop-color="#00ffff"/><stop offset="0.6364" stop-color="#004dff"/><stop offset="0.6834" stop-color="#000bff"/><stop offset="0.6959" stop-color="#0000fc"/><stop offset="0.7555" stop-color="#0000cd"/><stop offset="0.815" stop-color="#0000b1"/><stop offset="0.9436" stop-color="#00009e"/><stop offset="1" stop-color="#00009c"/></linearGradient><linearGradient id="gc35" gradientUnits="userSpaceOnUse" x1="1188" y1="0" x2="1824.8" y2="0"><stop offset="0" stop-color="#bd0000"/><stop offset="0.1034" stop-color="#ca0000"/><stop offset="0.2382" stop-color="#fa0000"/><stop offset="0.2602" stop-color="#ff0800"/><stop offset="0.3103" stop-color="#ff2e00"/><stop offset="0.3574" stop-color="#ff6b00"/><stop offset="0.4013" stop-color="#ffba00"/><stop offset="0.4389" stop-color="#fffd00"/><stop offset="0.4577" stop-color="#dcff23"/><stop offset="0.4734" stop-color="#b1ff4e"/><stop offset="0.4984" stop-color="#5fffa0"/><stop offset="0.5392" stop-color="#05fffa"/><stop offset="0.5455" stop-color="#00f7ff"/><stop offset="0.6332" stop-color="#004dff"/><stop offset="0.6771" stop-color="#000eff"/><stop offset="0.6928" stop-color="#0000fb"/><stop offset="0.7524" stop-color="#0000cb"/><stop offset="0.8088" stop-color="#0000b1"/><stop offset="0.9342" stop-color="#00009d"/><stop offset="1" stop-color="#00009b"/></linearGradient><linearGradient id="gc36" gradientUnits="userSpaceOnUse" x1="1188" y1="0" x2="1824.8" y2="0"><stop offset="0" stop-color="#bb0000"/><stop offset="0.1066" stop-color="#c80000"/><stop offset="0.2382" stop-color="#f80000"/><stop offset="0.2602" stop-color="#ff0400"/><stop offset="0.3135" stop-color="#ff2d00"/><stop offset="0.3574" stop-color="#ff6700"/><stop offset="0.4013" stop-color="#ffb700"/><stop offset="0.442" stop-color="#fcff03"/><stop offset="0.4671" stop-color="#c2ff3d"/><stop offset="0.5047" stop-color="#51ffae"/><stop offset="0.5392" stop-color="#04fffb"/><stop offset="0.5549" stop-color="#00e1ff"/><stop offset="0.6332" stop-color="#0048ff"/><stop offset="0.6771" stop-color="#0008ff"/><stop offset="0.6865" stop-color="#0000fd"/><stop offset="0.7429" stop-color="#0000cd"/><stop offset="0.7994" stop-color="#0000b1"/><stop offset="0.9248" stop-color="#00009d"/><stop offset="1" stop-color="#00009a"/></linearGradient><linearGradient id="gc37" gradientUnits="userSpaceOnUse" x1="1188" y1="0" x2="1824.8" y2="0"><stop offset="0" stop-color="#b90000"/><stop offset="0.1097" stop-color="#c60000"/><stop offset="0.2351" stop-color="#f30000"/><stop offset="0.2633" stop-color="#ff0300"/><stop offset="0.3135" stop-color="#ff2900"/><stop offset="0.3574" stop-color="#ff6300"/><stop offset="0.4013" stop-color="#ffb400"/><stop offset="0.442" stop-color="#fcff03"/><stop offset="0.4702" stop-color="#b7ff48"/><stop offset="0.511" stop-color="#44ffbb"/><stop offset="0.5392" stop-color="#03fffc"/><stop offset="0.627" stop-color="#004eff"/><stop offset="0.6677" stop-color="#000fff"/><stop offset="0.6834" stop-color="#0000fb"/><stop offset="0.7398" stop-color="#0000cc"/><stop offset="0.7931" stop-color="#0000b1"/><stop offset="0.9185" stop-color="#00009c"/><stop offset="1" stop-color="#000098"/></linearGradient><linearGradient id="gc38" gradientUnits="userSpaceOnUse" x1="1188" y1="0" x2="1824.8" y2="0"><stop offset="0" stop-color="#b70000"/><stop offset="0.1097" stop-color="#c40000"/><stop offset="0.2257" stop-color="#ec0000"/><stop offset="0.2696" stop-color="#ff0300"/><stop offset="0.3166" stop-color="#ff2800"/><stop offset="0.3574" stop-color="#ff5e00"/><stop offset="0.4013" stop-color="#ffb000"/><stop offset="0.442" stop-color="#fdff02"/><stop offset="0.4734" stop-color="#aeff51"/><stop offset="0.5172" stop-color="#35ffca"/><stop offset="0.5392" stop-color="#01fffe"/><stop offset="0.6207" stop-color="#0054ff"/><stop offset="0.6614" stop-color="#0011ff"/><stop offset="0.6771" stop-color="#0000fd"/><stop offset="0.7304" stop-color="#0000ce"/><stop offset="0.7868" stop-color="#0000b1"/><stop offset="0.9122" stop-color="#00009b"/><stop offset="1" stop-color="#000097"/></linearGradient><linearGradient id="gc39" gradientUnits="userSpaceOnUse" x1="1188" y1="0" x2="1824.8" y2="0"><stop offset="0" stop-color="#b50000"/><stop offset="0.1129" stop-color="#c20000"/><stop offset="0.2132" stop-color="#e40000"/><stop offset="0.2759" stop-color="#ff0300"/><stop offset="0.3229" stop-color="#ff2a00"/><stop offset="0.3636" stop-color="#ff6300"/><stop offset="0.4044" stop-color="#ffb400"/><stop offset="0.442" stop-color="#feff01"/><stop offset="0.4796" stop-color="#9cff63"/><stop offset="0.5266" stop-color="#1effe1"/><stop offset="0.5392" stop-color="#00ffff"/><stop offset="0.6113" stop-color="#0061ff"/><stop offset="0.6489" stop-color="#001dff"/><stop offset="0.6708" stop-color="#0000fe"/><stop offset="0.721" stop-color="#0000d0"/><stop offset="0.7774" stop-color="#0000b1"/><stop offset="0.8997" stop-color="#00009b"/><stop offset="1" stop-color="#000096"/></linearGradient><linearGradient id="gc40" gradientUnits="userSpaceOnUse" x1="1188" y1="0" x2="1824.8" y2="0"><stop offset="0" stop-color="#b30000"/><stop offset="0.116" stop-color="#c00000"/><stop offset="0.2038" stop-color="#dd0000"/><stop offset="0.2821" stop-color="#ff0300"/><stop offset="0.326" stop-color="#ff2800"/><stop offset="0.3636" stop-color="#ff5e00"/><stop offset="0.4044" stop-color="#ffb100"/><stop offset="0.442" stop-color="#ffff00"/><stop offset="0.4922" stop-color="#7aff85"/><stop offset="0.5361" stop-color="#06fff9"/><stop offset="0.5392" stop-color="#00feff"/><stop offset="0.605" stop-color="#0068ff"/><stop offset="0.6426" stop-color="#0021ff"/><stop offset="0.6646" stop-color="#0001ff"/><stop offset="0.7179" stop-color="#0000cd"/><stop offset="0.7712" stop-color="#0000b1"/><stop offset="0.8934" stop-color="#00009a"/><stop offset="1" stop-color="#000095"/></linearGradient><linearGradient id="gc41" gradientUnits="userSpaceOnUse" x1="1188" y1="0" x2="1824.8" y2="0"><stop offset="0" stop-color="#b10000"/><stop offset="0.116" stop-color="#bd0000"/><stop offset="0.2069" stop-color="#da0000"/><stop offset="0.2884" stop-color="#ff0300"/><stop offset="0.3323" stop-color="#ff2a00"/><stop offset="0.3699" stop-color="#ff6400"/><stop offset="0.442" stop-color="#fffe00"/><stop offset="0.489" stop-color="#83ff7c"/><stop offset="0.5361" stop-color="#05fffa"/><stop offset="0.5423" stop-color="#00f4ff"/><stop offset="0.605" stop-color="#0062ff"/><stop offset="0.6426" stop-color="#001aff"/><stop offset="0.6614" stop-color="#0000fe"/><stop offset="0.7085" stop-color="#0000cf"/><stop offset="0.7618" stop-color="#0000b1"/><stop offset="0.8809" stop-color="#00009a"/><stop offset="1" stop-color="#000094"/></linearGradient><linearGradient id="gc42" gradientUnits="userSpaceOnUse" x1="1188" y1="0" x2="1824.8" y2="0"><stop offset="0" stop-color="#ae0000"/><stop offset="0.1191" stop-color="#bb0000"/><stop offset="0.21" stop-color="#d80000"/><stop offset="0.2947" stop-color="#ff0300"/><stop offset="0.3354" stop-color="#ff2800"/><stop offset="0.3699" stop-color="#ff5f00"/><stop offset="0.442" stop-color="#fffc00"/><stop offset="0.4577" stop-color="#d9ff26"/><stop offset="0.5361" stop-color="#04fffb"/><stop offset="0.5549" stop-color="#00d3ff"/><stop offset="0.6082" stop-color="#0055ff"/><stop offset="0.6426" stop-color="#0013ff"/><stop offset="0.6552" stop-color="#0000ff"/><stop offset="0.6991" stop-color="#0000d1"/><stop offset="0.7492" stop-color="#0000b2"/><stop offset="0.8652" stop-color="#00009a"/><stop offset="1" stop-color="#000093"/></linearGradient><linearGradient id="gc43" gradientUnits="userSpaceOnUse" x1="1188" y1="0" x2="1824.8" y2="0"><stop offset="0" stop-color="#ac0000"/><stop offset="0.1254" stop-color="#b90000"/><stop offset="0.2163" stop-color="#d60000"/><stop offset="0.3009" stop-color="#ff0200"/><stop offset="0.3417" stop-color="#ff2a00"/><stop offset="0.3762" stop-color="#ff6500"/><stop offset="0.4451" stop-color="#fcff03"/><stop offset="0.5361" stop-color="#02fffd"/><stop offset="0.605" stop-color="#0055ff"/><stop offset="0.6395" stop-color="#0011ff"/><stop offset="0.652" stop-color="#0000fc"/><stop offset="0.6959" stop-color="#0000ce"/><stop offset="0.7429" stop-color="#0000b1"/><stop offset="0.8589" stop-color="#000099"/><stop offset="1" stop-color="#000092"/></linearGradient><linearGradient id="gc44" gradientUnits="userSpaceOnUse" x1="1188" y1="0" x2="1824.8" y2="0"><stop offset="0" stop-color="#a90000"/><stop offset="0.1317" stop-color="#b70000"/><stop offset="0.2226" stop-color="#d40000"/><stop offset="0.3072" stop-color="#ff0200"/><stop offset="0.3448" stop-color="#ff2800"/><stop offset="0.3762" stop-color="#ff5f00"/><stop offset="0.4451" stop-color="#feff01"/><stop offset="0.5361" stop-color="#00ffff"/><stop offset="0.5987" stop-color="#005cff"/><stop offset="0.6332" stop-color="#0013ff"/><stop offset="0.6458" stop-color="#0000fe"/><stop offset="0.6865" stop-color="#0000d0"/><stop offset="0.7335" stop-color="#0000b1"/><stop offset="0.8464" stop-color="#000099"/><stop offset="1" stop-color="#000091"/></linearGradient><linearGradient id="gc45" gradientUnits="userSpaceOnUse" x1="1188" y1="0" x2="1824.8" y2="0"><stop offset="0" stop-color="#a60000"/><stop offset="0.1317" stop-color="#b40000"/><stop offset="0.2257" stop-color="#d00000"/><stop offset="0.3135" stop-color="#ff0200"/><stop offset="0.3511" stop-color="#ff2b00"/><stop offset="0.3793" stop-color="#ff6000"/><stop offset="0.4451" stop-color="#ffff00"/><stop offset="0.5361" stop-color="#00fdff"/><stop offset="0.5987" stop-color="#0055ff"/><stop offset="0.6332" stop-color="#000bff"/><stop offset="0.6395" stop-color="#0000ff"/><stop offset="0.6771" stop-color="#0000d2"/><stop offset="0.721" stop-color="#0000b3"/><stop offset="0.8276" stop-color="#00009a"/><stop offset="1" stop-color="#000090"/></linearGradient><linearGradient id="gc46" gradientUnits="userSpaceOnUse" x1="1188" y1="0" x2="1824.8" y2="0"><stop offset="0" stop-color="#a40000"/><stop offset="0.1317" stop-color="#b10000"/><stop offset="0.2288" stop-color="#cd0000"/><stop offset="0.3135" stop-color="#fb0000"/><stop offset="0.3292" stop-color="#ff0a00"/><stop offset="0.3574" stop-color="#ff2d00"/><stop offset="0.3856" stop-color="#ff6800"/><stop offset="0.4451" stop-color="#fffd00"/><stop offset="0.5329" stop-color="#05fffa"/><stop offset="0.5392" stop-color="#00f3ff"/><stop offset="0.5987" stop-color="#004eff"/><stop offset="0.6301" stop-color="#0008ff"/><stop offset="0.6364" stop-color="#0000fc"/><stop offset="0.6708" stop-color="#0000d0"/><stop offset="0.7116" stop-color="#0000b2"/><stop offset="0.815" stop-color="#00009a"/><stop offset="1" stop-color="#00008f"/></linearGradient><linearGradient id="gc47" gradientUnits="userSpaceOnUse" x1="1188" y1="0" x2="1824.8" y2="0"><stop offset="0" stop-color="#a10000"/><stop offset="0.1285" stop-color="#ad0000"/><stop offset="0.2288" stop-color="#c70000"/><stop offset="0.3166" stop-color="#f70000"/><stop offset="0.3292" stop-color="#ff0300"/><stop offset="0.3605" stop-color="#ff2b00"/><stop offset="0.3887" stop-color="#ff6900"/><stop offset="0.4201" stop-color="#ffba00"/><stop offset="0.4451" stop-color="#fffb00"/><stop offset="0.4514" stop-color="#f1ff0e"/><stop offset="0.5329" stop-color="#04fffb"/><stop offset="0.5486" stop-color="#00d5ff"/><stop offset="0.6019" stop-color="#003eff"/><stop offset="0.627" stop-color="#0004ff"/><stop offset="0.6364" stop-color="#0000f3"/><stop offset="0.6708" stop-color="#0000c9"/><stop offset="0.7053" stop-color="#0000b1"/><stop offset="0.8056" stop-color="#000099"/><stop offset="0.9937" stop-color="#00008d"/><stop offset="1" stop-color="#00008d"/></linearGradient><linearGradient id="gc48" gradientUnits="userSpaceOnUse" x1="1188" y1="0" x2="1824.8" y2="0"><stop offset="0" stop-color="#9e0000"/><stop offset="0.1348" stop-color="#aa0000"/><stop offset="0.2382" stop-color="#c60000"/><stop offset="0.3229" stop-color="#f60000"/><stop offset="0.3354" stop-color="#ff0200"/><stop offset="0.3636" stop-color="#ff2800"/><stop offset="0.3887" stop-color="#ff6200"/><stop offset="0.4138" stop-color="#ffa700"/><stop offset="0.4483" stop-color="#fcff03"/><stop offset="0.5329" stop-color="#02fffd"/><stop offset="0.6019" stop-color="#0035ff"/><stop offset="0.6238" stop-color="#0001ff"/><stop offset="0.6552" stop-color="#0000d0"/><stop offset="0.6897" stop-color="#0000b3"/><stop offset="0.7806" stop-color="#00009a"/><stop offset="0.9624" stop-color="#00008d"/><stop offset="1" stop-color="#00008c"/></linearGradient><linearGradient id="gc49" gradientUnits="userSpaceOnUse" x1="1188" y1="0" x2="1824.8" y2="0"><stop offset="0" stop-color="#9b0000"/><stop offset="0.1411" stop-color="#a70000"/><stop offset="0.2476" stop-color="#c40000"/><stop offset="0.3197" stop-color="#ed0000"/><stop offset="0.3417" stop-color="#ff0100"/><stop offset="0.3668" stop-color="#ff2500"/><stop offset="0.3918" stop-color="#ff6400"/><stop offset="0.4138" stop-color="#ffa300"/><stop offset="0.4483" stop-color="#feff01"/><stop offset="0.5329" stop-color="#00ffff"/><stop offset="0.6019" stop-color="#002bff"/><stop offset="0.6176" stop-color="#0003ff"/><stop offset="0.6426" stop-color="#0000d6"/><stop offset="0.6771" stop-color="#0000b4"/><stop offset="0.7586" stop-color="#00009b"/><stop offset="0.931" stop-color="#00008c"/><stop offset="1" stop-color="#00008b"/></linearGradient><linearGradient id="gc50" gradientUnits="userSpaceOnUse" x1="1188" y1="0" x2="1824.8" y2="0"><stop offset="0" stop-color="#980000"/><stop offset="0.1473" stop-color="#a40000"/><stop offset="0.2571" stop-color="#c10000"/><stop offset="0.3135" stop-color="#e20000"/><stop offset="0.348" stop-color="#ff0000"/><stop offset="0.3699" stop-color="#ff2300"/><stop offset="0.3918" stop-color="#ff5d00"/><stop offset="0.4138" stop-color="#ff9f00"/><stop offset="0.4483" stop-color="#fffe00"/><stop offset="0.5329" stop-color="#00fdff"/><stop offset="0.6019" stop-color="#0021ff"/><stop offset="0.6144" stop-color="#0000fe"/><stop offset="0.6364" stop-color="#0000d5"/><stop offset="0.6646" stop-color="#0000b5"/><stop offset="0.7335" stop-color="#00009d"/><stop offset="0.8871" stop-color="#00008c"/><stop offset="1" stop-color="#00008a"/></linearGradient><linearGradient id="gc51" gradientUnits="userSpaceOnUse" x1="1188" y1="0" x2="1824.8" y2="0"><stop offset="0" stop-color="#950000"/><stop offset="0.1536" stop-color="#a10000"/><stop offset="0.2665" stop-color="#be0000"/><stop offset="0.3166" stop-color="#db0000"/><stop offset="0.3542" stop-color="#fe0000"/><stop offset="0.373" stop-color="#ff2000"/><stop offset="0.3918" stop-color="#ff5500"/><stop offset="0.4138" stop-color="#ff9b00"/><stop offset="0.4483" stop-color="#fffc00"/><stop offset="0.5298" stop-color="#07fff8"/><stop offset="0.5329" stop-color="#00fcff"/><stop offset="0.5799" stop-color="#005eff"/><stop offset="0.6082" stop-color="#0004ff"/><stop offset="0.6176" stop-color="#0000eb"/><stop offset="0.6395" stop-color="#0000c5"/><stop offset="0.6614" stop-color="#0000b0"/><stop offset="0.7335" stop-color="#000099"/><stop offset="0.9091" stop-color="#00008a"/><stop offset="1" stop-color="#000089"/></linearGradient><linearGradient id="gc52" gradientUnits="userSpaceOnUse" x1="1188" y1="0" x2="1824.8" y2="0"><stop offset="0" stop-color="#920000"/><stop offset="0.163" stop-color="#9e0000"/><stop offset="0.2759" stop-color="#ba0000"/><stop offset="0.3229" stop-color="#d50000"/><stop offset="0.3636" stop-color="#ff0300"/><stop offset="0.3793" stop-color="#ff2400"/><stop offset="0.4107" stop-color="#ff8e00"/><stop offset="0.4483" stop-color="#fffb00"/><stop offset="0.4577" stop-color="#e6ff19"/><stop offset="0.5298" stop-color="#05fffa"/><stop offset="0.5361" stop-color="#00f0ff"/><stop offset="0.5737" stop-color="#006eff"/><stop offset="0.605" stop-color="#0000ff"/><stop offset="0.6238" stop-color="#0000d1"/><stop offset="0.6458" stop-color="#0000b3"/><stop offset="0.7022" stop-color="#00009c"/><stop offset="0.8433" stop-color="#00008b"/><stop offset="1" stop-color="#000087"/></linearGradient><linearGradient id="gc53" gradientUnits="userSpaceOnUse" x1="1188" y1="0" x2="1824.8" y2="0"><stop offset="0" stop-color="#8f0000"/><stop offset="0.1755" stop-color="#9b0000"/><stop offset="0.2821" stop-color="#b50000"/><stop offset="0.3292" stop-color="#cf0000"/><stop offset="0.3636" stop-color="#f60000"/><stop offset="0.3699" stop-color="#ff0300"/><stop offset="0.3856" stop-color="#ff2d00"/><stop offset="0.4107" stop-color="#ff8900"/><stop offset="0.4483" stop-color="#fff900"/><stop offset="0.4545" stop-color="#f1ff0e"/><stop offset="0.5298" stop-color="#04fffb"/><stop offset="0.5392" stop-color="#00e4ff"/><stop offset="0.5705" stop-color="#0074ff"/><stop offset="0.5987" stop-color="#0007ff"/><stop offset="0.6019" stop-color="#0000fb"/><stop offset="0.6207" stop-color="#0000c9"/><stop offset="0.6364" stop-color="#0000b2"/><stop offset="0.6834" stop-color="#00009c"/><stop offset="0.8119" stop-color="#00008b"/><stop offset="1" stop-color="#000086"/></linearGradient><linearGradient id="gc54" gradientUnits="userSpaceOnUse" x1="1188" y1="0" x2="1824.8" y2="0"><stop offset="0" stop-color="#8d0000"/><stop offset="0.1881" stop-color="#970000"/><stop offset="0.2884" stop-color="#ae0000"/><stop offset="0.3354" stop-color="#c70000"/><stop offset="0.3668" stop-color="#ef0000"/><stop offset="0.3762" stop-color="#ff0400"/><stop offset="0.3887" stop-color="#ff2e00"/><stop offset="0.4075" stop-color="#ff7b00"/><stop offset="0.4514" stop-color="#fcff03"/><stop offset="0.5298" stop-color="#03fffc"/><stop offset="0.5549" stop-color="#00acff"/><stop offset="0.5893" stop-color="#0020ff"/><stop offset="0.5956" stop-color="#0005ff"/><stop offset="0.6019" stop-color="#0000ed"/><stop offset="0.6176" stop-color="#0000bf"/><stop offset="0.6301" stop-color="#0000ae"/><stop offset="0.674" stop-color="#000099"/><stop offset="0.8088" stop-color="#000089"/><stop offset="1" stop-color="#000085"/></linearGradient><linearGradient id="gc55" gradientUnits="userSpaceOnUse" x1="1188" y1="0" x2="1824.8" y2="0"><stop offset="0" stop-color="#8a0000"/><stop offset="0.2069" stop-color="#940000"/><stop offset="0.3009" stop-color="#a80000"/><stop offset="0.3448" stop-color="#c00000"/><stop offset="0.3636" stop-color="#da0000"/><stop offset="0.3793" stop-color="#fe0000"/><stop offset="0.3918" stop-color="#ff3100"/><stop offset="0.4075" stop-color="#ff7700"/><stop offset="0.4514" stop-color="#fdff02"/><stop offset="0.5298" stop-color="#02fffd"/><stop offset="0.558" stop-color="#009eff"/><stop offset="0.5831" stop-color="#0033ff"/><stop offset="0.5925" stop-color="#0006ff"/><stop offset="0.5987" stop-color="#0000e9"/><stop offset="0.6113" stop-color="#0000bc"/><stop offset="0.6207" stop-color="#0000ac"/><stop offset="0.652" stop-color="#000099"/><stop offset="0.7586" stop-color="#00008a"/><stop offset="1" stop-color="#000084"/></linearGradient><linearGradient id="gc56" gradientUnits="userSpaceOnUse" x1="1188" y1="0" x2="1824.8" y2="0"><stop offset="0" stop-color="#870000"/><stop offset="0.2351" stop-color="#910000"/><stop offset="0.3197" stop-color="#a20000"/><stop offset="0.3574" stop-color="#bb0000"/><stop offset="0.3699" stop-color="#d00000"/><stop offset="0.3824" stop-color="#f90000"/><stop offset="0.3856" stop-color="#ff0800"/><stop offset="0.4075" stop-color="#ff7400"/><stop offset="0.4514" stop-color="#feff01"/><stop offset="0.5298" stop-color="#01fffe"/><stop offset="0.558" stop-color="#009bff"/><stop offset="0.5799" stop-color="#003bff"/><stop offset="0.5893" stop-color="#000aff"/><stop offset="0.5925" stop-color="#0000f8"/><stop offset="0.605" stop-color="#0000bb"/><stop offset="0.6144" stop-color="#0000a7"/><stop offset="0.6395" stop-color="#000095"/><stop offset="0.7398" stop-color="#000088"/><stop offset="1" stop-color="#000082"/></linearGradient><linearGradient id="gc57" gradientUnits="userSpaceOnUse" x1="1188" y1="0" x2="1824.8" y2="0"><stop offset="0" stop-color="#840000"/><stop offset="0.2727" stop-color="#8d0000"/><stop offset="0.3448" stop-color="#9c0000"/><stop offset="0.3668" stop-color="#af0000"/><stop offset="0.3762" stop-color="#c30000"/><stop offset="0.3824" stop-color="#e40000"/><stop offset="0.3856" stop-color="#f70000"/><stop offset="0.3887" stop-color="#ff0c00"/><stop offset="0.4044" stop-color="#ff6400"/><stop offset="0.4232" stop-color="#ffa600"/><stop offset="0.4514" stop-color="#feff01"/><stop offset="0.5298" stop-color="#01fffe"/><stop offset="0.558" stop-color="#009aff"/><stop offset="0.5768" stop-color="#0047ff"/><stop offset="0.5893" stop-color="#0001ff"/><stop offset="0.6019" stop-color="#0000b1"/><stop offset="0.6113" stop-color="#00009a"/><stop offset="0.6364" stop-color="#00008d"/><stop offset="0.7931" stop-color="#000083"/><stop offset="1" stop-color="#000081"/></linearGradient><linearGradient id="gc58" gradientUnits="userSpaceOnUse" x1="1188" y1="0" x2="1824.8" y2="0"><stop offset="0" stop-color="#810000"/><stop offset="0.3417" stop-color="#870000"/><stop offset="0.373" stop-color="#920000"/><stop offset="0.3793" stop-color="#9e0000"/><stop offset="0.3824" stop-color="#b40000"/><stop offset="0.3856" stop-color="#e70000"/><stop offset="0.3887" stop-color="#ff0400"/><stop offset="0.3981" stop-color="#ff4100"/><stop offset="0.4075" stop-color="#ff7000"/><stop offset="0.4514" stop-color="#feff01"/><stop offset="0.5298" stop-color="#01fffe"/><stop offset="0.558" stop-color="#0099ff"/><stop offset="0.5768" stop-color="#0045ff"/><stop offset="0.5893" stop-color="#0000fb"/><stop offset="0.5956" stop-color="#0000cc"/><stop offset="0.6019" stop-color="#000096"/><stop offset="0.6082" stop-color="#000089"/><stop offset="0.6677" stop-color="#000082"/><stop offset="1" stop-color="#000080"/></linearGradient><linearGradient id="gc59" gradientUnits="userSpaceOnUse" x1="1188" y1="0" x2="1824.8" y2="0"><stop offset="0" stop-color="#800000"/><stop offset="0.3636" stop-color="#850000"/><stop offset="0.3793" stop-color="#8e0000"/><stop offset="0.3824" stop-color="#a10000"/><stop offset="0.3856" stop-color="#e50000"/><stop offset="0.3887" stop-color="#ff0300"/><stop offset="0.3981" stop-color="#ff4100"/><stop offset="0.4075" stop-color="#ff7000"/><stop offset="0.4514" stop-color="#feff01"/><stop offset="0.5298" stop-color="#01fffe"/><stop offset="0.558" stop-color="#0099ff"/><stop offset="0.5768" stop-color="#0044ff"/><stop offset="0.5862" stop-color="#0010ff"/><stop offset="0.5893" stop-color="#0000fb"/><stop offset="0.5956" stop-color="#0000cb"/><stop offset="0.6019" stop-color="#00008d"/><stop offset="0.6082" stop-color="#000084"/><stop offset="1" stop-color="#000080"/></linearGradient><clipPath id="clipc"><rect x="1188" y="2.5" width="638.8" height="179.7"/></clipPath><clipPath id="fcc"><rect x="1188" y="4" width="636.8" height="173.7"/></clipPath><linearGradient id="gd0" gradientUnits="userSpaceOnUse" x1="1188" y1="0" x2="1824.8" y2="0"><stop offset="0" stop-color="#e60000"/><stop offset="0.1034" stop-color="#f90000"/><stop offset="0.1348" stop-color="#ff0500"/><stop offset="0.2132" stop-color="#ff2d00"/><stop offset="0.2884" stop-color="#ff6b00"/><stop offset="0.3511" stop-color="#ffb400"/><stop offset="0.4013" stop-color="#ffff00"/><stop offset="0.5172" stop-color="#63ff9c"/><stop offset="0.5862" stop-color="#00ffff"/><stop offset="0.6991" stop-color="#0062ff"/><stop offset="0.768" stop-color="#0019ff"/><stop offset="0.8025" stop-color="#0000fc"/><stop offset="0.884" stop-color="#0000cf"/><stop offset="0.9749" stop-color="#0000b5"/><stop offset="1" stop-color="#0000b3"/></linearGradient><linearGradient id="gd1" gradientUnits="userSpaceOnUse" x1="1188" y1="0" x2="1824.8" y2="0"><stop offset="0" stop-color="#e60000"/><stop offset="0.1034" stop-color="#f90000"/><stop offset="0.1348" stop-color="#ff0500"/><stop offset="0.2132" stop-color="#ff2d00"/><stop offset="0.2884" stop-color="#ff6b00"/><stop offset="0.3511" stop-color="#ffb400"/><stop offset="0.4013" stop-color="#ffff00"/><stop offset="0.5172" stop-color="#63ff9c"/><stop offset="0.5862" stop-color="#00ffff"/><stop offset="0.6991" stop-color="#0062ff"/><stop offset="0.768" stop-color="#0019ff"/><stop offset="0.8025" stop-color="#0000fc"/><stop offset="0.884" stop-color="#0000cf"/><stop offset="0.9749" stop-color="#0000b5"/><stop offset="1" stop-color="#0000b3"/></linearGradient><linearGradient id="gd2" gradientUnits="userSpaceOnUse" x1="1188" y1="0" x2="1824.8" y2="0"><stop offset="0" stop-color="#e60000"/><stop offset="0.1034" stop-color="#f90000"/><stop offset="0.1348" stop-color="#ff0500"/><stop offset="0.2163" stop-color="#ff2f00"/><stop offset="0.2915" stop-color="#ff6e00"/><stop offset="0.3542" stop-color="#ffb900"/><stop offset="0.4013" stop-color="#ffff00"/><stop offset="0.5204" stop-color="#5effa1"/><stop offset="0.5862" stop-color="#00ffff"/><stop offset="0.6991" stop-color="#0062ff"/><stop offset="0.768" stop-color="#0019ff"/><stop offset="0.8025" stop-color="#0000fc"/><stop offset="0.884" stop-color="#0000cf"/><stop offset="0.9749" stop-color="#0000b5"/><stop offset="1" stop-color="#0000b3"/></linearGradient><linearGradient id="gd3" gradientUnits="userSpaceOnUse" x1="1188" y1="0" x2="1824.8" y2="0"><stop offset="0" stop-color="#e60000"/><stop offset="0.1034" stop-color="#f90000"/><stop offset="0.1348" stop-color="#ff0500"/><stop offset="0.2163" stop-color="#ff2f00"/><stop offset="0.2915" stop-color="#ff6e00"/><stop offset="0.3542" stop-color="#ffb900"/><stop offset="0.4013" stop-color="#ffff00"/><stop offset="0.5204" stop-color="#5effa1"/><stop offset="0.5862" stop-color="#00ffff"/><stop offset="0.6991" stop-color="#0062ff"/><stop offset="0.768" stop-color="#0019ff"/><stop offset="0.7994" stop-color="#0000fe"/><stop offset="0.8809" stop-color="#0000d0"/><stop offset="0.9718" stop-color="#0000b5"/><stop offset="1" stop-color="#0000b3"/></linearGradient><linearGradient id="gd4" gradientUnits="userSpaceOnUse" x1="1188" y1="0" x2="1824.8" y2="0"><stop offset="0" stop-color="#e60000"/><stop offset="0.1034" stop-color="#f90000"/><stop offset="0.1348" stop-color="#ff0400"/><stop offset="0.2163" stop-color="#ff2e00"/><stop offset="0.2915" stop-color="#ff6e00"/><stop offset="0.3542" stop-color="#ffb800"/><stop offset="0.4013" stop-color="#ffff00"/><stop offset="0.5204" stop-color="#5effa1"/><stop offset="0.5862" stop-color="#00ffff"/><stop offset="0.6991" stop-color="#0062ff"/><stop offset="0.768" stop-color="#0019ff"/><stop offset="0.7994" stop-color="#0000fe"/><stop offset="0.8809" stop-color="#0000d0"/><stop offset="0.9718" stop-color="#0000b5"/><stop offset="1" stop-color="#0000b2"/></linearGradient><linearGradient id="gd5" gradientUnits="userSpaceOnUse" x1="1188" y1="0" x2="1824.8" y2="0"><stop offset="0" stop-color="#e60000"/><stop offset="0.1034" stop-color="#f90000"/><stop offset="0.1379" stop-color="#ff0500"/><stop offset="0.2163" stop-color="#ff2e00"/><stop offset="0.2915" stop-color="#ff6e00"/><stop offset="0.3542" stop-color="#ffb800"/><stop offset="0.4013" stop-color="#ffff00"/><stop offset="0.5235" stop-color="#5affa5"/><stop offset="0.5862" stop-color="#00ffff"/><stop offset="0.6991" stop-color="#0061ff"/><stop offset="0.768" stop-color="#0018ff"/><stop offset="0.7994" stop-color="#0000fe"/><stop offset="0.8809" stop-color="#0000cf"/><stop offset="0.9718" stop-color="#0000b5"/><stop offset="1" stop-color="#0000b2"/></linearGradient><linearGradient id="gd6" gradientUnits="userSpaceOnUse" x1="1188" y1="0" x2="1824.8" y2="0"><stop offset="0" stop-color="#e60000"/><stop offset="0.1034" stop-color="#f80000"/><stop offset="0.1379" stop-color="#ff0500"/><stop offset="0.2163" stop-color="#ff2e00"/><stop offset="0.2915" stop-color="#ff6d00"/><stop offset="0.3542" stop-color="#ffb800"/><stop offset="0.4013" stop-color="#ffff00"/><stop offset="0.5235" stop-color="#5affa5"/><stop offset="0.5862" stop-color="#00feff"/><stop offset="0.6959" stop-color="#0065ff"/><stop offset="0.7649" stop-color="#001bff"/><stop offset="0.7994" stop-color="#0000fd"/><stop offset="0.8809" stop-color="#0000cf"/><stop offset="0.9718" stop-color="#0000b5"/><stop offset="1" stop-color="#0000b2"/></linearGradient><linearGradient id="gd7" gradientUnits="userSpaceOnUse" x1="1188" y1="0" x2="1824.8" y2="0"><stop offset="0" stop-color="#e50000"/><stop offset="0.1034" stop-color="#f80000"/><stop offset="0.1379" stop-color="#ff0500"/><stop offset="0.2163" stop-color="#ff2d00"/><stop offset="0.2915" stop-color="#ff6d00"/><stop offset="0.3542" stop-color="#ffb700"/><stop offset="0.4013" stop-color="#ffff00"/><stop offset="0.5266" stop-color="#55ffaa"/><stop offset="0.5862" stop-color="#00feff"/><stop offset="0.6959" stop-color="#0064ff"/><stop offset="0.7649" stop-color="#001aff"/><stop offset="0.7994" stop-color="#0000fd"/><stop offset="0.8809" stop-color="#0000cf"/><stop offset="0.9718" stop-color="#0000b4"/><stop offset="1" stop-color="#0000b2"/></linearGradient><linearGradient id="gd8" gradientUnits="userSpaceOnUse" x1="1188" y1="0" x2="1824.8" y2="0"><stop offset="0" stop-color="#e50000"/><stop offset="0.1034" stop-color="#f80000"/><stop offset="0.1379" stop-color="#ff0400"/><stop offset="0.2163" stop-color="#ff2d00"/><stop offset="0.2915" stop-color="#ff6c00"/><stop offset="0.3542" stop-color="#ffb700"/><stop offset="0.4013" stop-color="#ffff00"/><stop offset="0.5266" stop-color="#55ffaa"/><stop offset="0.5862" stop-color="#00feff"/><stop offset="0.6959" stop-color="#0063ff"/><stop offset="0.7649" stop-color="#0019ff"/><stop offset="0.7962" stop-color="#0000fe"/><stop offset="0.8746" stop-color="#0000d1"/><stop offset="0.9655" stop-color="#0000b5"/><stop offset="1" stop-color="#0000b2"/></linearGradient><linearGradient id="gd9" gradientUnits="userSpaceOnUse" x1="1188" y1="0" x2="1824.8" y2="0"><stop offset="0" stop-color="#e50000"/><stop offset="0.1034" stop-color="#f70000"/><stop offset="0.1379" stop-color="#ff0400"/><stop offset="0.2194" stop-color="#ff2e00"/><stop offset="0.2947" stop-color="#ff6f00"/><stop offset="0.3574" stop-color="#ffbb00"/><stop offset="0.4013" stop-color="#fffe00"/><stop offset="0.5266" stop-color="#56ffa9"/><stop offset="0.5862" stop-color="#00feff"/><stop offset="0.6959" stop-color="#0063ff"/><stop offset="0.7649" stop-color="#0019ff"/><stop offset="0.7962" stop-color="#0000fe"/><stop offset="0.8746" stop-color="#0000d0"/><stop offset="0.9655" stop-color="#0000b5"/><stop offset="1" stop-color="#0000b1"/></linearGradient><linearGradient id="gd10" gradientUnits="userSpaceOnUse" x1="1188" y1="0" x2="1824.8" y2="0"><stop offset="0" stop-color="#e40000"/><stop offset="0.1034" stop-color="#f70000"/><stop offset="0.1379" stop-color="#ff0300"/><stop offset="0.2194" stop-color="#ff2d00"/><stop offset="0.2947" stop-color="#ff6e00"/><stop offset="0.3574" stop-color="#ffba00"/><stop offset="0.4013" stop-color="#fffe00"/><stop offset="0.5298" stop-color="#51ffae"/><stop offset="0.5862" stop-color="#00fdff"/><stop offset="0.6928" stop-color="#0066ff"/><stop offset="0.7618" stop-color="#001bff"/><stop offset="0.7962" stop-color="#0000fd"/><stop offset="0.8746" stop-color="#0000d0"/><stop offset="0.9655" stop-color="#0000b4"/><stop offset="1" stop-color="#0000b1"/></linearGradient><linearGradient id="gd11" gradientUnits="userSpaceOnUse" x1="1188" y1="0" x2="1824.8" y2="0"><stop offset="0" stop-color="#e40000"/><stop offset="0.1034" stop-color="#f60000"/><stop offset="0.1411" stop-color="#ff0400"/><stop offset="0.2194" stop-color="#ff2d00"/><stop offset="0.2947" stop-color="#ff6d00"/><stop offset="0.3574" stop-color="#ffba00"/><stop offset="0.4013" stop-color="#fffe00"/><stop offset="0.5298" stop-color="#51ffae"/><stop offset="0.5862" stop-color="#00fdff"/><stop offset="0.6928" stop-color="#0065ff"/><stop offset="0.7618" stop-color="#001aff"/><stop offset="0.7931" stop-color="#0000fe"/><stop offset="0.8715" stop-color="#0000d0"/><stop offset="0.9624" stop-color="#0000b4"/><stop offset="1" stop-color="#0000b1"/></linearGradient><linearGradient id="gd12" gradientUnits="userSpaceOnUse" x1="1188" y1="0" x2="1824.8" y2="0"><stop offset="0" stop-color="#e40000"/><stop offset="0.1034" stop-color="#f60000"/><stop offset="0.1411" stop-color="#ff0300"/><stop offset="0.2194" stop-color="#ff2c00"/><stop offset="0.2915" stop-color="#ff6900"/><stop offset="0.3542" stop-color="#ffb400"/><stop offset="0.4013" stop-color="#fffe00"/><stop offset="0.5329" stop-color="#4dffb2"/><stop offset="0.5862" stop-color="#00fdff"/><stop offset="0.6928" stop-color="#0063ff"/><stop offset="0.7586" stop-color="#001bff"/><stop offset="0.7931" stop-color="#0000fd"/><stop offset="0.8715" stop-color="#0000d0"/><stop offset="0.9592" stop-color="#0000b4"/><stop offset="1" stop-color="#0000b0"/></linearGradient><linearGradient id="gd13" gradientUnits="userSpaceOnUse" x1="1188" y1="0" x2="1824.8" y2="0"><stop offset="0" stop-color="#e30000"/><stop offset="0.1034" stop-color="#f50000"/><stop offset="0.1442" stop-color="#ff0400"/><stop offset="0.2226" stop-color="#ff2d00"/><stop offset="0.2947" stop-color="#ff6b00"/><stop offset="0.3574" stop-color="#ffb800"/><stop offset="0.4013" stop-color="#fffd00"/><stop offset="0.5329" stop-color="#4dffb2"/><stop offset="0.5862" stop-color="#00fcff"/><stop offset="0.6897" stop-color="#0066ff"/><stop offset="0.7555" stop-color="#001dff"/><stop offset="0.7931" stop-color="#0000fc"/><stop offset="0.8715" stop-color="#0000cf"/><stop offset="0.9592" stop-color="#0000b4"/><stop offset="1" stop-color="#0000b0"/></linearGradient><linearGradient id="gd14" gradientUnits="userSpaceOnUse" x1="1188" y1="0" x2="1824.8" y2="0"><stop offset="0" stop-color="#e20000"/><stop offset="0.1034" stop-color="#f40000"/><stop offset="0.1442" stop-color="#ff0300"/><stop offset="0.2226" stop-color="#ff2c00"/><stop offset="0.2947" stop-color="#ff6a00"/><stop offset="0.3574" stop-color="#ffb700"/><stop offset="0.4044" stop-color="#fcff03"/><stop offset="0.5361" stop-color="#49ffb6"/><stop offset="0.5831" stop-color="#01fffe"/><stop offset="0.6928" stop-color="#0061ff"/><stop offset="0.7586" stop-color="#0019ff"/><stop offset="0.79" stop-color="#0000fd"/><stop offset="0.8683" stop-color="#0000cf"/><stop offset="0.9561" stop-color="#0000b4"/><stop offset="1" stop-color="#0000b0"/></linearGradient><linearGradient id="gd15" gradientUnits="userSpaceOnUse" x1="1188" y1="0" x2="1824.8" y2="0"><stop offset="0" stop-color="#e20000"/><stop offset="0.1066" stop-color="#f50000"/><stop offset="0.1473" stop-color="#ff0400"/><stop offset="0.2257" stop-color="#ff2d00"/><stop offset="0.2978" stop-color="#ff6c00"/><stop offset="0.3574" stop-color="#ffb600"/><stop offset="0.4044" stop-color="#fcff03"/><stop offset="0.5361" stop-color="#49ffb6"/><stop offset="0.5831" stop-color="#01fffe"/><stop offset="0.6897" stop-color="#0063ff"/><stop offset="0.7555" stop-color="#001aff"/><stop offset="0.79" stop-color="#0000fc"/><stop offset="0.8683" stop-color="#0000ce"/><stop offset="0.953" stop-color="#0000b4"/><stop offset="1" stop-color="#0000af"/></linearGradient><linearGradient id="gd16" gradientUnits="userSpaceOnUse" x1="1188" y1="0" x2="1824.8" y2="0"><stop offset="0" stop-color="#e10000"/><stop offset="0.1066" stop-color="#f40000"/><stop offset="0.1505" stop-color="#ff0400"/><stop offset="0.2288" stop-color="#ff2e00"/><stop offset="0.3009" stop-color="#ff6e00"/><stop offset="0.3605" stop-color="#ffba00"/><stop offset="0.4044" stop-color="#fdff02"/><stop offset="0.5361" stop-color="#49ffb6"/><stop offset="0.5831" stop-color="#01fffe"/><stop offset="0.6865" stop-color="#0066ff"/><stop offset="0.7524" stop-color="#001cff"/><stop offset="0.7868" stop-color="#0000fd"/><stop offset="0.8652" stop-color="#0000cf"/><stop offset="0.9498" stop-color="#0000b4"/><stop offset="1" stop-color="#0000af"/></linearGradient><linearGradient id="gd17" gradientUnits="userSpaceOnUse" x1="1188" y1="0" x2="1824.8" y2="0"><stop offset="0" stop-color="#e10000"/><stop offset="0.1066" stop-color="#f30000"/><stop offset="0.1505" stop-color="#ff0300"/><stop offset="0.2288" stop-color="#ff2d00"/><stop offset="0.3009" stop-color="#ff6c00"/><stop offset="0.3605" stop-color="#ffb900"/><stop offset="0.4044" stop-color="#fdff02"/><stop offset="0.5361" stop-color="#4affb5"/><stop offset="0.5831" stop-color="#00ffff"/><stop offset="0.6834" stop-color="#0068ff"/><stop offset="0.7492" stop-color="#001dff"/><stop offset="0.7837" stop-color="#0000fe"/><stop offset="0.8621" stop-color="#0000cf"/><stop offset="0.9467" stop-color="#0000b3"/><stop offset="1" stop-color="#0000ae"/></linearGradient><linearGradient id="gd18" gradientUnits="userSpaceOnUse" x1="1188" y1="0" x2="1824.8" y2="0"><stop offset="0" stop-color="#e00000"/><stop offset="0.1097" stop-color="#f30000"/><stop offset="0.1536" stop-color="#ff0300"/><stop offset="0.232" stop-color="#ff2e00"/><stop offset="0.3009" stop-color="#ff6b00"/><stop offset="0.3605" stop-color="#ffb700"/><stop offset="0.4044" stop-color="#fdff02"/><stop offset="0.4922" stop-color="#88ff77"/><stop offset="0.5486" stop-color="#37ffc8"/><stop offset="0.5831" stop-color="#00feff"/><stop offset="0.6834" stop-color="#0066ff"/><stop offset="0.7461" stop-color="#001eff"/><stop offset="0.7837" stop-color="#0000fc"/><stop offset="0.8621" stop-color="#0000ce"/><stop offset="0.9467" stop-color="#0000b3"/><stop offset="1" stop-color="#0000ae"/></linearGradient><linearGradient id="gd19" gradientUnits="userSpaceOnUse" x1="1188" y1="0" x2="1824.8" y2="0"><stop offset="0" stop-color="#df0000"/><stop offset="0.1129" stop-color="#f30000"/><stop offset="0.1567" stop-color="#ff0400"/><stop offset="0.2351" stop-color="#ff2e00"/><stop offset="0.3041" stop-color="#ff6d00"/><stop offset="0.3636" stop-color="#ffbb00"/><stop offset="0.4044" stop-color="#feff01"/><stop offset="0.4796" stop-color="#97ff68"/><stop offset="0.5266" stop-color="#5affa5"/><stop offset="0.5831" stop-color="#00feff"/><stop offset="0.6803" stop-color="#0069ff"/><stop offset="0.7429" stop-color="#0020ff"/><stop offset="0.7806" stop-color="#0000fd"/><stop offset="0.8589" stop-color="#0000ce"/><stop offset="0.9404" stop-color="#0000b3"/><stop offset="1" stop-color="#0000ad"/></linearGradient><linearGradient id="gd20" gradientUnits="userSpaceOnUse" x1="1188" y1="0" x2="1824.8" y2="0"><stop offset="0" stop-color="#dd0000"/><stop offset="0.116" stop-color="#f30000"/><stop offset="0.1599" stop-color="#ff0400"/><stop offset="0.2351" stop-color="#ff2d00"/><stop offset="0.3041" stop-color="#ff6b00"/><stop offset="0.3605" stop-color="#ffb500"/><stop offset="0.4044" stop-color="#feff01"/><stop offset="0.4702" stop-color="#a2ff5d"/><stop offset="0.5204" stop-color="#65ff9a"/><stop offset="0.5831" stop-color="#00fdff"/><stop offset="0.6771" stop-color="#006bff"/><stop offset="0.7398" stop-color="#0021ff"/><stop offset="0.7774" stop-color="#0000fe"/><stop offset="0.8558" stop-color="#0000ce"/><stop offset="0.9373" stop-color="#0000b3"/><stop offset="1" stop-color="#0000ac"/></linearGradient><linearGradient id="gd21" gradientUnits="userSpaceOnUse" x1="1188" y1="0" x2="1824.8" y2="0"><stop offset="0" stop-color="#dc0000"/><stop offset="0.1191" stop-color="#f30000"/><stop offset="0.163" stop-color="#ff0400"/><stop offset="0.2382" stop-color="#ff2d00"/><stop offset="0.3072" stop-color="#ff6c00"/><stop offset="0.3636" stop-color="#ffb800"/><stop offset="0.4044" stop-color="#ffff00"/><stop offset="0.4671" stop-color="#a5ff5a"/><stop offset="0.5172" stop-color="#6bff94"/><stop offset="0.5831" stop-color="#00fcff"/><stop offset="0.6771" stop-color="#0069ff"/><stop offset="0.7398" stop-color="#001eff"/><stop offset="0.7743" stop-color="#0000fe"/><stop offset="0.8495" stop-color="#0000cf"/><stop offset="0.931" stop-color="#0000b3"/><stop offset="1" stop-color="#0000ac"/></linearGradient><linearGradient id="gd22" gradientUnits="userSpaceOnUse" x1="1188" y1="0" x2="1824.8" y2="0"><stop offset="0" stop-color="#db0000"/><stop offset="0.1223" stop-color="#f30000"/><stop offset="0.1661" stop-color="#ff0400"/><stop offset="0.2414" stop-color="#ff2e00"/><stop offset="0.3072" stop-color="#ff6a00"/><stop offset="0.3636" stop-color="#ffb600"/><stop offset="0.4044" stop-color="#ffff00"/><stop offset="0.4639" stop-color="#a7ff58"/><stop offset="0.5141" stop-color="#71ff8e"/><stop offset="0.5799" stop-color="#02fffd"/><stop offset="0.6771" stop-color="#0066ff"/><stop offset="0.7367" stop-color="#001fff"/><stop offset="0.7743" stop-color="#0000fc"/><stop offset="0.8495" stop-color="#0000ce"/><stop offset="0.9279" stop-color="#0000b3"/><stop offset="1" stop-color="#0000ab"/></linearGradient><linearGradient id="gd23" gradientUnits="userSpaceOnUse" x1="1188" y1="0" x2="1824.8" y2="0"><stop offset="0" stop-color="#da0000"/><stop offset="0.1254" stop-color="#f20000"/><stop offset="0.1693" stop-color="#ff0400"/><stop offset="0.2445" stop-color="#ff2e00"/><stop offset="0.3103" stop-color="#ff6c00"/><stop offset="0.3668" stop-color="#ffba00"/><stop offset="0.4044" stop-color="#fffe00"/><stop offset="0.4671" stop-color="#a1ff5e"/><stop offset="0.511" stop-color="#78ff87"/><stop offset="0.5799" stop-color="#01fffe"/><stop offset="0.674" stop-color="#0068ff"/><stop offset="0.7335" stop-color="#0020ff"/><stop offset="0.7712" stop-color="#0000fd"/><stop offset="0.8464" stop-color="#0000ce"/><stop offset="0.9248" stop-color="#0000b2"/><stop offset="1" stop-color="#0000aa"/></linearGradient><linearGradient id="gd24" gradientUnits="userSpaceOnUse" x1="1188" y1="0" x2="1824.8" y2="0"><stop offset="0" stop-color="#d80000"/><stop offset="0.1285" stop-color="#f20000"/><stop offset="0.1724" stop-color="#ff0400"/><stop offset="0.2476" stop-color="#ff2f00"/><stop offset="0.3103" stop-color="#ff6a00"/><stop offset="0.3636" stop-color="#ffb300"/><stop offset="0.4044" stop-color="#fffe00"/><stop offset="0.4671" stop-color="#9fff60"/><stop offset="0.5078" stop-color="#80ff7f"/><stop offset="0.5486" stop-color="#39ffc6"/><stop offset="0.5799" stop-color="#00ffff"/><stop offset="0.6677" stop-color="#006fff"/><stop offset="0.7273" stop-color="#0024ff"/><stop offset="0.768" stop-color="#0000fd"/><stop offset="0.8433" stop-color="#0000cd"/><stop offset="0.9216" stop-color="#0000b2"/><stop offset="1" stop-color="#0000aa"/></linearGradient><linearGradient id="gd25" gradientUnits="userSpaceOnUse" x1="1188" y1="0" x2="1824.8" y2="0"><stop offset="0" stop-color="#d70000"/><stop offset="0.1317" stop-color="#f20000"/><stop offset="0.1755" stop-color="#ff0300"/><stop offset="0.2476" stop-color="#ff2d00"/><stop offset="0.3103" stop-color="#ff6800"/><stop offset="0.3636" stop-color="#ffb100"/><stop offset="0.4044" stop-color="#fffd00"/><stop offset="0.4671" stop-color="#9bff64"/><stop offset="0.4859" stop-color="#92ff6d"/><stop offset="0.5047" stop-color="#88ff77"/><stop offset="0.5298" stop-color="#5fffa0"/><stop offset="0.5799" stop-color="#00feff"/><stop offset="0.6677" stop-color="#006cff"/><stop offset="0.7241" stop-color="#0025ff"/><stop offset="0.7649" stop-color="#0000fd"/><stop offset="0.8401" stop-color="#0000cd"/><stop offset="0.9154" stop-color="#0000b2"/><stop offset="1" stop-color="#0000a9"/></linearGradient><linearGradient id="gd26" gradientUnits="userSpaceOnUse" x1="1188" y1="0" x2="1824.8" y2="0"><stop offset="0" stop-color="#d50000"/><stop offset="0.1348" stop-color="#f10000"/><stop offset="0.1787" stop-color="#ff0300"/><stop offset="0.2508" stop-color="#ff2d00"/><stop offset="0.3103" stop-color="#ff6500"/><stop offset="0.3636" stop-color="#ffaf00"/><stop offset="0.4044" stop-color="#fffc00"/><stop offset="0.4671" stop-color="#96ff69"/><stop offset="0.5047" stop-color="#8eff71"/><stop offset="0.5266" stop-color="#68ff97"/><stop offset="0.5768" stop-color="#03fffc"/><stop offset="0.605" stop-color="#00d0ff"/><stop offset="0.6708" stop-color="#0064ff"/><stop offset="0.7273" stop-color="#001eff"/><stop offset="0.7618" stop-color="#0000fd"/><stop offset="0.837" stop-color="#0000cd"/><stop offset="0.9122" stop-color="#0000b2"/><stop offset="1" stop-color="#0000a8"/></linearGradient><linearGradient id="gd27" gradientUnits="userSpaceOnUse" x1="1188" y1="0" x2="1824.8" y2="0"><stop offset="0" stop-color="#d40000"/><stop offset="0.1317" stop-color="#ef0000"/><stop offset="0.1818" stop-color="#ff0300"/><stop offset="0.2539" stop-color="#ff2d00"/><stop offset="0.3135" stop-color="#ff6600"/><stop offset="0.3668" stop-color="#ffb200"/><stop offset="0.4075" stop-color="#fcff03"/><stop offset="0.4639" stop-color="#93ff6c"/><stop offset="0.5078" stop-color="#91ff6e"/><stop offset="0.5361" stop-color="#56ffa9"/><stop offset="0.5768" stop-color="#02fffd"/><stop offset="0.6646" stop-color="#006aff"/><stop offset="0.721" stop-color="#0022ff"/><stop offset="0.7586" stop-color="#0000fd"/><stop offset="0.8339" stop-color="#0000cc"/><stop offset="0.9091" stop-color="#0000b1"/><stop offset="1" stop-color="#0000a7"/></linearGradient><linearGradient id="gd28" gradientUnits="userSpaceOnUse" x1="1188" y1="0" x2="1824.8" y2="0"><stop offset="0" stop-color="#d20000"/><stop offset="0.1254" stop-color="#ec0000"/><stop offset="0.185" stop-color="#ff0300"/><stop offset="0.2571" stop-color="#ff2d00"/><stop offset="0.3135" stop-color="#ff6400"/><stop offset="0.3668" stop-color="#ffaf00"/><stop offset="0.4075" stop-color="#feff01"/><stop offset="0.4545" stop-color="#a0ff5f"/><stop offset="0.4608" stop-color="#93ff6c"/><stop offset="0.511" stop-color="#91ff6e"/><stop offset="0.5204" stop-color="#7eff81"/><stop offset="0.5611" stop-color="#20ffdf"/><stop offset="0.5768" stop-color="#01fffe"/><stop offset="0.6614" stop-color="#006cff"/><stop offset="0.7179" stop-color="#0022ff"/><stop offset="0.7555" stop-color="#0000fd"/><stop offset="0.8276" stop-color="#0000cd"/><stop offset="0.9028" stop-color="#0000b1"/><stop offset="1" stop-color="#0000a6"/></linearGradient><linearGradient id="gd29" gradientUnits="userSpaceOnUse" x1="1188" y1="0" x2="1824.8" y2="0"><stop offset="0" stop-color="#d10000"/><stop offset="0.1223" stop-color="#e90000"/><stop offset="0.1881" stop-color="#ff0200"/><stop offset="0.2602" stop-color="#ff2d00"/><stop offset="0.3166" stop-color="#ff6500"/><stop offset="0.3668" stop-color="#ffad00"/><stop offset="0.4075" stop-color="#ffff00"/><stop offset="0.4514" stop-color="#a3ff5c"/><stop offset="0.4577" stop-color="#93ff6c"/><stop offset="0.5141" stop-color="#91ff6e"/><stop offset="0.5517" stop-color="#33ffcc"/><stop offset="0.5768" stop-color="#00feff"/><stop offset="0.6583" stop-color="#006dff"/><stop offset="0.7116" stop-color="#0026ff"/><stop offset="0.7492" stop-color="#0000ff"/><stop offset="0.8213" stop-color="#0000ce"/><stop offset="0.8934" stop-color="#0000b2"/><stop offset="1" stop-color="#0000a5"/></linearGradient><linearGradient id="gd30" gradientUnits="userSpaceOnUse" x1="1188" y1="0" x2="1824.8" y2="0"><stop offset="0" stop-color="#cf0000"/><stop offset="0.1129" stop-color="#e50000"/><stop offset="0.1944" stop-color="#ff0300"/><stop offset="0.2633" stop-color="#ff2d00"/><stop offset="0.3166" stop-color="#ff6200"/><stop offset="0.3668" stop-color="#ffaa00"/><stop offset="0.4075" stop-color="#fffd00"/><stop offset="0.4451" stop-color="#b1ff4e"/><stop offset="0.4577" stop-color="#92ff6d"/><stop offset="0.5172" stop-color="#8fff70"/><stop offset="0.5423" stop-color="#48ffb7"/><stop offset="0.5737" stop-color="#03fffc"/><stop offset="0.6019" stop-color="#00cdff"/><stop offset="0.6646" stop-color="#0060ff"/><stop offset="0.7179" stop-color="#001cff"/><stop offset="0.7461" stop-color="#0000ff"/><stop offset="0.8182" stop-color="#0000ce"/><stop offset="0.8903" stop-color="#0000b2"/><stop offset="1" stop-color="#0000a4"/></linearGradient><linearGradient id="gd31" gradientUnits="userSpaceOnUse" x1="1188" y1="0" x2="1824.8" y2="0"><stop offset="0" stop-color="#cd0000"/><stop offset="0.0972" stop-color="#e00000"/><stop offset="0.1975" stop-color="#ff0200"/><stop offset="0.2665" stop-color="#ff2c00"/><stop offset="0.3197" stop-color="#ff6200"/><stop offset="0.3699" stop-color="#ffad00"/><stop offset="0.4075" stop-color="#fffc00"/><stop offset="0.4295" stop-color="#d5ff2a"/><stop offset="0.4514" stop-color="#9fff60"/><stop offset="0.4545" stop-color="#94ff6b"/><stop offset="0.5172" stop-color="#8fff70"/><stop offset="0.5455" stop-color="#40ffbf"/><stop offset="0.5737" stop-color="#01fffe"/><stop offset="0.6552" stop-color="#006bff"/><stop offset="0.7085" stop-color="#0022ff"/><stop offset="0.7429" stop-color="#0000fe"/><stop offset="0.8119" stop-color="#0000ce"/><stop offset="0.884" stop-color="#0000b2"/><stop offset="1" stop-color="#0000a3"/></linearGradient><linearGradient id="gd32" gradientUnits="userSpaceOnUse" x1="1188" y1="0" x2="1824.8" y2="0"><stop offset="0" stop-color="#cb0000"/><stop offset="0.0972" stop-color="#de0000"/><stop offset="0.2038" stop-color="#ff0300"/><stop offset="0.2727" stop-color="#ff2f00"/><stop offset="0.3229" stop-color="#ff6300"/><stop offset="0.3699" stop-color="#ffaa00"/><stop offset="0.4107" stop-color="#fdff02"/><stop offset="0.4451" stop-color="#b1ff4e"/><stop offset="0.4545" stop-color="#95ff6a"/><stop offset="0.5172" stop-color="#8fff70"/><stop offset="0.5423" stop-color="#46ffb9"/><stop offset="0.5737" stop-color="#00feff"/><stop offset="0.652" stop-color="#006cff"/><stop offset="0.7022" stop-color="#0026ff"/><stop offset="0.7398" stop-color="#0000fe"/><stop offset="0.8088" stop-color="#0000ce"/><stop offset="0.8777" stop-color="#0000b2"/><stop offset="1" stop-color="#0000a3"/></linearGradient><linearGradient id="gd33" gradientUnits="userSpaceOnUse" x1="1188" y1="0" x2="1824.8" y2="0"><stop offset="0" stop-color="#ca0000"/><stop offset="0.1003" stop-color="#dd0000"/><stop offset="0.2069" stop-color="#ff0200"/><stop offset="0.2727" stop-color="#ff2b00"/><stop offset="0.3229" stop-color="#ff6000"/><stop offset="0.3699" stop-color="#ffa700"/><stop offset="0.4075" stop-color="#fff700"/><stop offset="0.4107" stop-color="#fffe00"/><stop offset="0.4451" stop-color="#b4ff4b"/><stop offset="0.4577" stop-color="#92ff6d"/><stop offset="0.5172" stop-color="#8eff71"/><stop offset="0.5392" stop-color="#4cffb3"/><stop offset="0.5705" stop-color="#03fffc"/><stop offset="0.6176" stop-color="#00a7ff"/><stop offset="0.6646" stop-color="#0054ff"/><stop offset="0.7147" stop-color="#0014ff"/><stop offset="0.7367" stop-color="#0000fd"/><stop offset="0.8056" stop-color="#0000cc"/><stop offset="0.8746" stop-color="#0000b1"/><stop offset="1" stop-color="#0000a2"/></linearGradient><linearGradient id="gd34" gradientUnits="userSpaceOnUse" x1="1188" y1="0" x2="1824.8" y2="0"><stop offset="0" stop-color="#c80000"/><stop offset="0.1003" stop-color="#da0000"/><stop offset="0.2132" stop-color="#ff0300"/><stop offset="0.279" stop-color="#ff2d00"/><stop offset="0.326" stop-color="#ff6000"/><stop offset="0.373" stop-color="#ffa900"/><stop offset="0.4107" stop-color="#fffc00"/><stop offset="0.4326" stop-color="#d5ff2a"/><stop offset="0.4545" stop-color="#9dff62"/><stop offset="0.4577" stop-color="#93ff6c"/><stop offset="0.5141" stop-color="#90ff6f"/><stop offset="0.5486" stop-color="#32ffcd"/><stop offset="0.5705" stop-color="#01fffe"/><stop offset="0.6489" stop-color="#0069ff"/><stop offset="0.6959" stop-color="#0025ff"/><stop offset="0.7304" stop-color="#0000ff"/><stop offset="0.7962" stop-color="#0000cf"/><stop offset="0.8652" stop-color="#0000b2"/><stop offset="1" stop-color="#0000a1"/></linearGradient><linearGradient id="gd35" gradientUnits="userSpaceOnUse" x1="1188" y1="0" x2="1824.8" y2="0"><stop offset="0" stop-color="#c60000"/><stop offset="0.1003" stop-color="#d80000"/><stop offset="0.2163" stop-color="#ff0200"/><stop offset="0.2821" stop-color="#ff2d00"/><stop offset="0.326" stop-color="#ff5c00"/><stop offset="0.3699" stop-color="#ffa000"/><stop offset="0.4044" stop-color="#ffe900"/><stop offset="0.4138" stop-color="#ffff00"/><stop offset="0.4514" stop-color="#adff52"/><stop offset="0.4608" stop-color="#93ff6c"/><stop offset="0.511" stop-color="#91ff6e"/><stop offset="0.558" stop-color="#19ffe6"/><stop offset="0.5705" stop-color="#00fdff"/><stop offset="0.6458" stop-color="#006aff"/><stop offset="0.6928" stop-color="#0025ff"/><stop offset="0.7273" stop-color="#0000fe"/><stop offset="0.7931" stop-color="#0000ce"/><stop offset="0.8589" stop-color="#0000b1"/><stop offset="0.9937" stop-color="#0000a0"/><stop offset="1" stop-color="#00009f"/></linearGradient><linearGradient id="gd36" gradientUnits="userSpaceOnUse" x1="1188" y1="0" x2="1824.8" y2="0"><stop offset="0" stop-color="#c40000"/><stop offset="0.1034" stop-color="#d60000"/><stop offset="0.2226" stop-color="#ff0200"/><stop offset="0.2853" stop-color="#ff2c00"/><stop offset="0.3292" stop-color="#ff5c00"/><stop offset="0.373" stop-color="#ffa200"/><stop offset="0.4075" stop-color="#ffed00"/><stop offset="0.4169" stop-color="#fcff03"/><stop offset="0.4671" stop-color="#92ff6d"/><stop offset="0.5078" stop-color="#90ff6f"/><stop offset="0.5674" stop-color="#01fffe"/><stop offset="0.6489" stop-color="#0060ff"/><stop offset="0.6959" stop-color="#001cff"/><stop offset="0.7241" stop-color="#0000fc"/><stop offset="0.79" stop-color="#0000cc"/><stop offset="0.8527" stop-color="#0000b1"/><stop offset="0.9875" stop-color="#00009f"/><stop offset="1" stop-color="#00009e"/></linearGradient><linearGradient id="gd37" gradientUnits="userSpaceOnUse" x1="1188" y1="0" x2="1824.8" y2="0"><stop offset="0" stop-color="#c20000"/><stop offset="0.1034" stop-color="#d40000"/><stop offset="0.2288" stop-color="#ff0300"/><stop offset="0.2915" stop-color="#ff2e00"/><stop offset="0.3354" stop-color="#ff6100"/><stop offset="0.3793" stop-color="#ffaa00"/><stop offset="0.4169" stop-color="#fffe00"/><stop offset="0.4702" stop-color="#95ff6a"/><stop offset="0.5016" stop-color="#90ff6f"/><stop offset="0.5172" stop-color="#74ff8b"/><stop offset="0.5674" stop-color="#00fdff"/><stop offset="0.6426" stop-color="#0066ff"/><stop offset="0.6865" stop-color="#0023ff"/><stop offset="0.7179" stop-color="#0000fe"/><stop offset="0.7806" stop-color="#0000ce"/><stop offset="0.8464" stop-color="#0000b1"/><stop offset="0.9812" stop-color="#00009e"/><stop offset="1" stop-color="#00009d"/></linearGradient><linearGradient id="gd38" gradientUnits="userSpaceOnUse" x1="1188" y1="0" x2="1824.8" y2="0"><stop offset="0" stop-color="#c00000"/><stop offset="0.1066" stop-color="#d20000"/><stop offset="0.232" stop-color="#ff0200"/><stop offset="0.2947" stop-color="#ff2c00"/><stop offset="0.3386" stop-color="#ff6100"/><stop offset="0.3824" stop-color="#ffac00"/><stop offset="0.4201" stop-color="#feff01"/><stop offset="0.4671" stop-color="#a1ff5e"/><stop offset="0.4828" stop-color="#93ff6c"/><stop offset="0.5016" stop-color="#88ff77"/><stop offset="0.5204" stop-color="#67ff98"/><stop offset="0.5643" stop-color="#01fffe"/><stop offset="0.6458" stop-color="#005bff"/><stop offset="0.6897" stop-color="#001aff"/><stop offset="0.7147" stop-color="#0000fd"/><stop offset="0.7774" stop-color="#0000cd"/><stop offset="0.8401" stop-color="#0000b1"/><stop offset="0.9749" stop-color="#00009e"/><stop offset="1" stop-color="#00009c"/></linearGradient><linearGradient id="gd39" gradientUnits="userSpaceOnUse" x1="1188" y1="0" x2="1824.8" y2="0"><stop offset="0" stop-color="#be0000"/><stop offset="0.1066" stop-color="#cf0000"/><stop offset="0.2382" stop-color="#ff0200"/><stop offset="0.2978" stop-color="#ff2b00"/><stop offset="0.3417" stop-color="#ff6100"/><stop offset="0.3824" stop-color="#ffa800"/><stop offset="0.4201" stop-color="#fffc00"/><stop offset="0.4545" stop-color="#beff41"/><stop offset="0.4765" stop-color="#9bff64"/><stop offset="0.5047" stop-color="#7fff80"/><stop offset="0.5329" stop-color="#46ffb9"/><stop offset="0.5643" stop-color="#00fdff"/><stop offset="0.6395" stop-color="#0061ff"/><stop offset="0.6834" stop-color="#001cff"/><stop offset="0.7085" stop-color="#0000fe"/><stop offset="0.768" stop-color="#0000cf"/><stop offset="0.8307" stop-color="#0000b1"/><stop offset="0.9655" stop-color="#00009d"/><stop offset="1" stop-color="#00009b"/></linearGradient><linearGradient id="gd40" gradientUnits="userSpaceOnUse" x1="1188" y1="0" x2="1824.8" y2="0"><stop offset="0" stop-color="#bc0000"/><stop offset="0.1097" stop-color="#cd0000"/><stop offset="0.2382" stop-color="#fe0000"/><stop offset="0.2947" stop-color="#ff2400"/><stop offset="0.3354" stop-color="#ff5300"/><stop offset="0.3762" stop-color="#ff9700"/><stop offset="0.4232" stop-color="#fffe00"/><stop offset="0.4734" stop-color="#a3ff5c"/><stop offset="0.5078" stop-color="#76ff89"/><stop offset="0.5486" stop-color="#1effe1"/><stop offset="0.5611" stop-color="#01fffe"/><stop offset="0.6426" stop-color="#0055ff"/><stop offset="0.6834" stop-color="#0017ff"/><stop offset="0.7053" stop-color="#0000fc"/><stop offset="0.7649" stop-color="#0000cd"/><stop offset="0.8245" stop-color="#0000b1"/><stop offset="0.9592" stop-color="#00009c"/><stop offset="1" stop-color="#00009a"/></linearGradient><linearGradient id="gd41" gradientUnits="userSpaceOnUse" x1="1188" y1="0" x2="1824.8" y2="0"><stop offset="0" stop-color="#ba0000"/><stop offset="0.1097" stop-color="#cb0000"/><stop offset="0.2414" stop-color="#fc0000"/><stop offset="0.2727" stop-color="#ff0f00"/><stop offset="0.3166" stop-color="#ff3600"/><stop offset="0.3574" stop-color="#ff7000"/><stop offset="0.395" stop-color="#ffba00"/><stop offset="0.4201" stop-color="#fff300"/><stop offset="0.4263" stop-color="#ffff00"/><stop offset="0.4765" stop-color="#a1ff5e"/><stop offset="0.511" stop-color="#6cff93"/><stop offset="0.5611" stop-color="#00fcff"/><stop offset="0.6395" stop-color="#0055ff"/><stop offset="0.6803" stop-color="#0015ff"/><stop offset="0.6991" stop-color="#0000fd"/><stop offset="0.7555" stop-color="#0000ce"/><stop offset="0.815" stop-color="#0000b1"/><stop offset="0.9467" stop-color="#00009c"/><stop offset="1" stop-color="#000099"/></linearGradient><linearGradient id="gd42" gradientUnits="userSpaceOnUse" x1="1188" y1="0" x2="1824.8" y2="0"><stop offset="0" stop-color="#b70000"/><stop offset="0.1129" stop-color="#c90000"/><stop offset="0.2476" stop-color="#fc0000"/><stop offset="0.2759" stop-color="#ff0d00"/><stop offset="0.3166" stop-color="#ff3000"/><stop offset="0.3574" stop-color="#ff6a00"/><stop offset="0.395" stop-color="#ffb500"/><stop offset="0.4201" stop-color="#ffef00"/><stop offset="0.4295" stop-color="#fdff02"/><stop offset="0.4828" stop-color="#99ff66"/><stop offset="0.5172" stop-color="#5cffa3"/><stop offset="0.558" stop-color="#00ffff"/><stop offset="0.6364" stop-color="#0055ff"/><stop offset="0.6771" stop-color="#0013ff"/><stop offset="0.6928" stop-color="#0000fe"/><stop offset="0.7461" stop-color="#0000d0"/><stop offset="0.8056" stop-color="#0000b2"/><stop offset="0.9373" stop-color="#00009b"/><stop offset="1" stop-color="#000098"/></linearGradient><linearGradient id="gd43" gradientUnits="userSpaceOnUse" x1="1188" y1="0" x2="1824.8" y2="0"><stop offset="0" stop-color="#b50000"/><stop offset="0.116" stop-color="#c60000"/><stop offset="0.2508" stop-color="#fa0000"/><stop offset="0.2696" stop-color="#ff0500"/><stop offset="0.3166" stop-color="#ff2b00"/><stop offset="0.3574" stop-color="#ff6500"/><stop offset="0.395" stop-color="#ffb000"/><stop offset="0.4201" stop-color="#ffea00"/><stop offset="0.4295" stop-color="#fffd00"/><stop offset="0.5204" stop-color="#53ffac"/><stop offset="0.5549" stop-color="#04fffb"/><stop offset="0.5674" stop-color="#00e5ff"/><stop offset="0.6395" stop-color="#0048ff"/><stop offset="0.6771" stop-color="#000cff"/><stop offset="0.6897" stop-color="#0000fc"/><stop offset="0.7429" stop-color="#0000ce"/><stop offset="0.7994" stop-color="#0000b1"/><stop offset="0.931" stop-color="#00009b"/><stop offset="1" stop-color="#000097"/></linearGradient><linearGradient id="gd44" gradientUnits="userSpaceOnUse" x1="1188" y1="0" x2="1824.8" y2="0"><stop offset="0" stop-color="#b30000"/><stop offset="0.1191" stop-color="#c40000"/><stop offset="0.2445" stop-color="#f30000"/><stop offset="0.2727" stop-color="#ff0300"/><stop offset="0.3197" stop-color="#ff2900"/><stop offset="0.3574" stop-color="#ff5f00"/><stop offset="0.395" stop-color="#ffab00"/><stop offset="0.4201" stop-color="#ffe600"/><stop offset="0.4326" stop-color="#ffff00"/><stop offset="0.5235" stop-color="#49ffb6"/><stop offset="0.5549" stop-color="#00ffff"/><stop offset="0.6332" stop-color="#004dff"/><stop offset="0.6708" stop-color="#000eff"/><stop offset="0.6834" stop-color="#0000fd"/><stop offset="0.7335" stop-color="#0000cf"/><stop offset="0.79" stop-color="#0000b1"/><stop offset="0.9185" stop-color="#00009a"/><stop offset="1" stop-color="#000096"/></linearGradient><linearGradient id="gd45" gradientUnits="userSpaceOnUse" x1="1188" y1="0" x2="1824.8" y2="0"><stop offset="0" stop-color="#b10000"/><stop offset="0.1191" stop-color="#c10000"/><stop offset="0.232" stop-color="#e90000"/><stop offset="0.279" stop-color="#ff0200"/><stop offset="0.3229" stop-color="#ff2700"/><stop offset="0.3605" stop-color="#ff5e00"/><stop offset="0.3981" stop-color="#ffad00"/><stop offset="0.4201" stop-color="#ffe100"/><stop offset="0.4357" stop-color="#fdff02"/><stop offset="0.5266" stop-color="#3fffc0"/><stop offset="0.5517" stop-color="#04fffb"/><stop offset="0.5674" stop-color="#00ddff"/><stop offset="0.6364" stop-color="#0040ff"/><stop offset="0.674" stop-color="#0003ff"/><stop offset="0.7335" stop-color="#0000ca"/><stop offset="0.7837" stop-color="#0000b0"/><stop offset="0.9122" stop-color="#000099"/><stop offset="1" stop-color="#000094"/></linearGradient><linearGradient id="gd46" gradientUnits="userSpaceOnUse" x1="1188" y1="0" x2="1824.8" y2="0"><stop offset="0" stop-color="#ae0000"/><stop offset="0.1223" stop-color="#bf0000"/><stop offset="0.2132" stop-color="#de0000"/><stop offset="0.2853" stop-color="#ff0200"/><stop offset="0.326" stop-color="#ff2400"/><stop offset="0.3605" stop-color="#ff5800"/><stop offset="0.3981" stop-color="#ffa800"/><stop offset="0.4232" stop-color="#ffe300"/><stop offset="0.4357" stop-color="#fffd00"/><stop offset="0.5235" stop-color="#44ffbb"/><stop offset="0.5517" stop-color="#00ffff"/><stop offset="0.6301" stop-color="#0045ff"/><stop offset="0.6646" stop-color="#0008ff"/><stop offset="0.674" stop-color="#0000fa"/><stop offset="0.721" stop-color="#0000cd"/><stop offset="0.7712" stop-color="#0000b1"/><stop offset="0.8966" stop-color="#000099"/><stop offset="1" stop-color="#000093"/></linearGradient><linearGradient id="gd47" gradientUnits="userSpaceOnUse" x1="1188" y1="0" x2="1824.8" y2="0"><stop offset="0" stop-color="#ac0000"/><stop offset="0.1285" stop-color="#bd0000"/><stop offset="0.2194" stop-color="#dc0000"/><stop offset="0.2947" stop-color="#ff0300"/><stop offset="0.3354" stop-color="#ff2900"/><stop offset="0.3699" stop-color="#ff6300"/><stop offset="0.4075" stop-color="#ffbb00"/><stop offset="0.4389" stop-color="#feff01"/><stop offset="0.5298" stop-color="#32ffcd"/><stop offset="0.5486" stop-color="#04fffb"/><stop offset="0.558" stop-color="#00ecff"/><stop offset="0.627" stop-color="#0044ff"/><stop offset="0.6583" stop-color="#0009ff"/><stop offset="0.6646" stop-color="#0000ff"/><stop offset="0.7085" stop-color="#0000d1"/><stop offset="0.7586" stop-color="#0000b2"/><stop offset="0.8777" stop-color="#00009a"/><stop offset="1" stop-color="#000092"/></linearGradient><linearGradient id="gd48" gradientUnits="userSpaceOnUse" x1="1188" y1="0" x2="1824.8" y2="0"><stop offset="0" stop-color="#a90000"/><stop offset="0.1379" stop-color="#bb0000"/><stop offset="0.2257" stop-color="#da0000"/><stop offset="0.3009" stop-color="#ff0200"/><stop offset="0.3386" stop-color="#ff2700"/><stop offset="0.3699" stop-color="#ff5c00"/><stop offset="0.4075" stop-color="#ffb600"/><stop offset="0.4389" stop-color="#fffd00"/><stop offset="0.4702" stop-color="#baff45"/><stop offset="0.5361" stop-color="#20ffdf"/><stop offset="0.5486" stop-color="#01fffe"/><stop offset="0.627" stop-color="#003bff"/><stop offset="0.6583" stop-color="#0001ff"/><stop offset="0.7022" stop-color="#0000cf"/><stop offset="0.7492" stop-color="#0000b2"/><stop offset="0.8652" stop-color="#00009a"/><stop offset="1" stop-color="#000091"/></linearGradient><linearGradient id="gd49" gradientUnits="userSpaceOnUse" x1="1188" y1="0" x2="1824.8" y2="0"><stop offset="0" stop-color="#a60000"/><stop offset="0.1442" stop-color="#b90000"/><stop offset="0.232" stop-color="#d80000"/><stop offset="0.3072" stop-color="#ff0100"/><stop offset="0.3448" stop-color="#ff2800"/><stop offset="0.373" stop-color="#ff5b00"/><stop offset="0.4295" stop-color="#ffe400"/><stop offset="0.442" stop-color="#feff01"/><stop offset="0.5329" stop-color="#26ffd9"/><stop offset="0.5486" stop-color="#00fcff"/><stop offset="0.6238" stop-color="#0039ff"/><stop offset="0.652" stop-color="#0002ff"/><stop offset="0.6959" stop-color="#0000ce"/><stop offset="0.7398" stop-color="#0000b2"/><stop offset="0.8527" stop-color="#000099"/><stop offset="1" stop-color="#000090"/></linearGradient><linearGradient id="gd50" gradientUnits="userSpaceOnUse" x1="1188" y1="0" x2="1824.8" y2="0"><stop offset="0" stop-color="#a30000"/><stop offset="0.1411" stop-color="#b50000"/><stop offset="0.232" stop-color="#d20000"/><stop offset="0.3166" stop-color="#ff0200"/><stop offset="0.3511" stop-color="#ff2a00"/><stop offset="0.3793" stop-color="#ff6200"/><stop offset="0.4263" stop-color="#ffd900"/><stop offset="0.442" stop-color="#fffd00"/><stop offset="0.5016" stop-color="#72ff8d"/><stop offset="0.5455" stop-color="#02fffd"/><stop offset="0.627" stop-color="#0029ff"/><stop offset="0.6458" stop-color="#0003ff"/><stop offset="0.6897" stop-color="#0000cc"/><stop offset="0.7304" stop-color="#0000b1"/><stop offset="0.8401" stop-color="#000099"/><stop offset="1" stop-color="#00008e"/></linearGradient><linearGradient id="gd51" gradientUnits="userSpaceOnUse" x1="1188" y1="0" x2="1824.8" y2="0"><stop offset="0" stop-color="#a00000"/><stop offset="0.1411" stop-color="#b10000"/><stop offset="0.2351" stop-color="#cd0000"/><stop offset="0.3166" stop-color="#fb0000"/><stop offset="0.3292" stop-color="#ff0700"/><stop offset="0.3574" stop-color="#ff2b00"/><stop offset="0.3856" stop-color="#ff6a00"/><stop offset="0.4201" stop-color="#ffc600"/><stop offset="0.4451" stop-color="#fdff02"/><stop offset="0.5392" stop-color="#10ffef"/><stop offset="0.5455" stop-color="#00feff"/><stop offset="0.6238" stop-color="#0026ff"/><stop offset="0.6426" stop-color="#0000fd"/><stop offset="0.674" stop-color="#0000d2"/><stop offset="0.7147" stop-color="#0000b3"/><stop offset="0.815" stop-color="#00009a"/><stop offset="1" stop-color="#00008d"/></linearGradient><linearGradient id="gd52" gradientUnits="userSpaceOnUse" x1="1188" y1="0" x2="1824.8" y2="0"><stop offset="0" stop-color="#9d0000"/><stop offset="0.1379" stop-color="#ad0000"/><stop offset="0.2382" stop-color="#c80000"/><stop offset="0.3229" stop-color="#f90000"/><stop offset="0.3354" stop-color="#ff0600"/><stop offset="0.3605" stop-color="#ff2800"/><stop offset="0.3856" stop-color="#ff6200"/><stop offset="0.4201" stop-color="#ffc200"/><stop offset="0.4451" stop-color="#fffe00"/><stop offset="0.5361" stop-color="#16ffe9"/><stop offset="0.5455" stop-color="#00fbff"/><stop offset="0.6207" stop-color="#0024ff"/><stop offset="0.6364" stop-color="#0000fe"/><stop offset="0.6646" stop-color="#0000d4"/><stop offset="0.7022" stop-color="#0000b3"/><stop offset="0.7931" stop-color="#00009b"/><stop offset="0.9812" stop-color="#00008c"/><stop offset="1" stop-color="#00008c"/></linearGradient><linearGradient id="gd53" gradientUnits="userSpaceOnUse" x1="1188" y1="0" x2="1824.8" y2="0"><stop offset="0" stop-color="#9a0000"/><stop offset="0.1442" stop-color="#aa0000"/><stop offset="0.2476" stop-color="#c60000"/><stop offset="0.326" stop-color="#f40000"/><stop offset="0.3417" stop-color="#ff0400"/><stop offset="0.3668" stop-color="#ff2b00"/><stop offset="0.3918" stop-color="#ff6c00"/><stop offset="0.4169" stop-color="#ffb500"/><stop offset="0.4451" stop-color="#fffc00"/><stop offset="0.4577" stop-color="#e2ff1d"/><stop offset="0.5423" stop-color="#03fffc"/><stop offset="0.5799" stop-color="#0092ff"/><stop offset="0.6207" stop-color="#0018ff"/><stop offset="0.6301" stop-color="#0001ff"/><stop offset="0.6583" stop-color="#0000d1"/><stop offset="0.6928" stop-color="#0000b2"/><stop offset="0.7806" stop-color="#00009a"/><stop offset="0.9718" stop-color="#00008b"/><stop offset="1" stop-color="#00008b"/></linearGradient><linearGradient id="gd54" gradientUnits="userSpaceOnUse" x1="1188" y1="0" x2="1824.8" y2="0"><stop offset="0" stop-color="#970000"/><stop offset="0.1505" stop-color="#a60000"/><stop offset="0.2571" stop-color="#c30000"/><stop offset="0.3229" stop-color="#ea0000"/><stop offset="0.348" stop-color="#ff0300"/><stop offset="0.3699" stop-color="#ff2700"/><stop offset="0.395" stop-color="#ff6e00"/><stop offset="0.4138" stop-color="#ffa900"/><stop offset="0.4483" stop-color="#fdff02"/><stop offset="0.5423" stop-color="#00ffff"/><stop offset="0.5862" stop-color="#0078ff"/><stop offset="0.6238" stop-color="#0004ff"/><stop offset="0.6395" stop-color="#0000e1"/><stop offset="0.6677" stop-color="#0000bc"/><stop offset="0.7022" stop-color="#0000a9"/><stop offset="0.8025" stop-color="#000094"/><stop offset="1" stop-color="#00008a"/></linearGradient><linearGradient id="gd55" gradientUnits="userSpaceOnUse" x1="1188" y1="0" x2="1824.8" y2="0"><stop offset="0" stop-color="#950000"/><stop offset="0.1599" stop-color="#a30000"/><stop offset="0.2696" stop-color="#c00000"/><stop offset="0.3166" stop-color="#dc0000"/><stop offset="0.3542" stop-color="#ff0100"/><stop offset="0.373" stop-color="#ff2400"/><stop offset="0.3981" stop-color="#ff7200"/><stop offset="0.4138" stop-color="#ffa500"/><stop offset="0.4483" stop-color="#ffff00"/><stop offset="0.5423" stop-color="#00fdff"/><stop offset="0.5799" stop-color="#0087ff"/><stop offset="0.6176" stop-color="#0008ff"/><stop offset="0.6207" stop-color="#0000fe"/><stop offset="0.6395" stop-color="#0000d5"/><stop offset="0.6646" stop-color="#0000b5"/><stop offset="0.7273" stop-color="#00009d"/><stop offset="0.8777" stop-color="#00008c"/><stop offset="1" stop-color="#000088"/></linearGradient><linearGradient id="gd56" gradientUnits="userSpaceOnUse" x1="1188" y1="0" x2="1824.8" y2="0"><stop offset="0" stop-color="#920000"/><stop offset="0.1693" stop-color="#9f0000"/><stop offset="0.2821" stop-color="#bd0000"/><stop offset="0.326" stop-color="#d90000"/><stop offset="0.3574" stop-color="#fa0000"/><stop offset="0.3636" stop-color="#ff0500"/><stop offset="0.3793" stop-color="#ff2900"/><stop offset="0.4138" stop-color="#ffa100"/><stop offset="0.4483" stop-color="#fffd00"/><stop offset="0.5361" stop-color="#0ffff0"/><stop offset="0.5423" stop-color="#00fbff"/><stop offset="0.5768" stop-color="#008cff"/><stop offset="0.6144" stop-color="#0005ff"/><stop offset="0.6207" stop-color="#0000f0"/><stop offset="0.6395" stop-color="#0000c7"/><stop offset="0.6583" stop-color="#0000b1"/><stop offset="0.7179" stop-color="#00009b"/><stop offset="0.8746" stop-color="#00008a"/><stop offset="1" stop-color="#000087"/></linearGradient><linearGradient id="gd57" gradientUnits="userSpaceOnUse" x1="1188" y1="0" x2="1824.8" y2="0"><stop offset="0" stop-color="#8f0000"/><stop offset="0.1818" stop-color="#9c0000"/><stop offset="0.2884" stop-color="#b70000"/><stop offset="0.3323" stop-color="#d10000"/><stop offset="0.3636" stop-color="#f70000"/><stop offset="0.3699" stop-color="#ff0500"/><stop offset="0.3824" stop-color="#ff2800"/><stop offset="0.4138" stop-color="#ff9d00"/><stop offset="0.4483" stop-color="#fffb00"/><stop offset="0.4577" stop-color="#e8ff17"/><stop offset="0.5392" stop-color="#04fffb"/><stop offset="0.5517" stop-color="#00dcff"/><stop offset="0.5799" stop-color="#007cff"/><stop offset="0.6113" stop-color="#0001ff"/><stop offset="0.627" stop-color="#0000d0"/><stop offset="0.6426" stop-color="#0000b4"/><stop offset="0.6865" stop-color="#00009d"/><stop offset="0.8025" stop-color="#00008d"/><stop offset="1" stop-color="#000086"/></linearGradient><linearGradient id="gd58" gradientUnits="userSpaceOnUse" x1="1188" y1="0" x2="1824.8" y2="0"><stop offset="0" stop-color="#8c0000"/><stop offset="0.1975" stop-color="#980000"/><stop offset="0.2947" stop-color="#af0000"/><stop offset="0.3354" stop-color="#c50000"/><stop offset="0.3605" stop-color="#e50000"/><stop offset="0.373" stop-color="#fd0000"/><stop offset="0.3824" stop-color="#ff1c00"/><stop offset="0.4107" stop-color="#ff9000"/><stop offset="0.4483" stop-color="#fffa00"/><stop offset="0.4545" stop-color="#f2ff0d"/><stop offset="0.5392" stop-color="#02fffd"/><stop offset="0.5674" stop-color="#00a6ff"/><stop offset="0.5956" stop-color="#0036ff"/><stop offset="0.6082" stop-color="#0000fe"/><stop offset="0.6238" stop-color="#0000c6"/><stop offset="0.6332" stop-color="#0000b3"/><stop offset="0.6646" stop-color="#00009e"/><stop offset="0.7524" stop-color="#00008e"/><stop offset="1" stop-color="#000085"/></linearGradient><linearGradient id="gd59" gradientUnits="userSpaceOnUse" x1="1188" y1="0" x2="1824.8" y2="0"><stop offset="0" stop-color="#880000"/><stop offset="0.2163" stop-color="#940000"/><stop offset="0.3072" stop-color="#a80000"/><stop offset="0.348" stop-color="#c00000"/><stop offset="0.3636" stop-color="#d70000"/><stop offset="0.3793" stop-color="#ff0200"/><stop offset="0.4107" stop-color="#ff8d00"/><stop offset="0.4483" stop-color="#fff900"/><stop offset="0.4514" stop-color="#fdff02"/><stop offset="0.5392" stop-color="#01fffe"/><stop offset="0.5674" stop-color="#00a4ff"/><stop offset="0.5925" stop-color="#003cff"/><stop offset="0.605" stop-color="#0000fe"/><stop offset="0.6176" stop-color="#0000c6"/><stop offset="0.6238" stop-color="#0000b3"/><stop offset="0.6458" stop-color="#00009e"/><stop offset="0.7085" stop-color="#00008e"/><stop offset="0.9655" stop-color="#000084"/><stop offset="1" stop-color="#000083"/></linearGradient><linearGradient id="gd60" gradientUnits="userSpaceOnUse" x1="1188" y1="0" x2="1824.8" y2="0"><stop offset="0" stop-color="#850000"/><stop offset="0.2476" stop-color="#900000"/><stop offset="0.326" stop-color="#a10000"/><stop offset="0.3574" stop-color="#b60000"/><stop offset="0.3699" stop-color="#cb0000"/><stop offset="0.3824" stop-color="#fe0000"/><stop offset="0.4013" stop-color="#ff6200"/><stop offset="0.4138" stop-color="#ff9500"/><stop offset="0.4514" stop-color="#fdff02"/><stop offset="0.5392" stop-color="#01fffe"/><stop offset="0.5674" stop-color="#00a2ff"/><stop offset="0.5893" stop-color="#0045ff"/><stop offset="0.6019" stop-color="#0004ff"/><stop offset="0.6144" stop-color="#0000bc"/><stop offset="0.6207" stop-color="#0000a9"/><stop offset="0.6364" stop-color="#000098"/><stop offset="0.6991" stop-color="#00008a"/><stop offset="1" stop-color="#000082"/></linearGradient><linearGradient id="gd61" gradientUnits="userSpaceOnUse" x1="1188" y1="0" x2="1824.8" y2="0"><stop offset="0" stop-color="#820000"/><stop offset="0.2947" stop-color="#8b0000"/><stop offset="0.3542" stop-color="#990000"/><stop offset="0.3699" stop-color="#aa0000"/><stop offset="0.3762" stop-color="#bc0000"/><stop offset="0.3793" stop-color="#d10000"/><stop offset="0.3824" stop-color="#ec0000"/><stop offset="0.3856" stop-color="#ff0400"/><stop offset="0.3981" stop-color="#ff4f00"/><stop offset="0.4107" stop-color="#ff8900"/><stop offset="0.4514" stop-color="#feff01"/><stop offset="0.5392" stop-color="#00ffff"/><stop offset="0.5674" stop-color="#00a0ff"/><stop offset="0.5893" stop-color="#0042ff"/><stop offset="0.5987" stop-color="#000fff"/><stop offset="0.6019" stop-color="#0000fa"/><stop offset="0.6113" stop-color="#0000b6"/><stop offset="0.6176" stop-color="#00009b"/><stop offset="0.6301" stop-color="#00008e"/><stop offset="0.7147" stop-color="#000084"/><stop offset="1" stop-color="#000081"/></linearGradient><linearGradient id="gd62" gradientUnits="userSpaceOnUse" x1="1188" y1="0" x2="1824.8" y2="0"><stop offset="0" stop-color="#800000"/><stop offset="0.3605" stop-color="#860000"/><stop offset="0.3762" stop-color="#8e0000"/><stop offset="0.3793" stop-color="#9d0000"/><stop offset="0.3824" stop-color="#dd0000"/><stop offset="0.3856" stop-color="#fe0000"/><stop offset="0.395" stop-color="#ff3d00"/><stop offset="0.4107" stop-color="#ff8800"/><stop offset="0.4514" stop-color="#feff01"/><stop offset="0.5392" stop-color="#00ffff"/><stop offset="0.5674" stop-color="#00a0ff"/><stop offset="0.5862" stop-color="#0050ff"/><stop offset="0.5987" stop-color="#000dff"/><stop offset="0.6019" stop-color="#0000f7"/><stop offset="0.6082" stop-color="#0000c7"/><stop offset="0.6144" stop-color="#00008c"/><stop offset="0.6207" stop-color="#000084"/><stop offset="1" stop-color="#000080"/></linearGradient><linearGradient id="gd63" gradientUnits="userSpaceOnUse" x1="1188" y1="0" x2="1824.8" y2="0"><stop offset="0" stop-color="#800000"/><stop offset="0.3605" stop-color="#860000"/><stop offset="0.3762" stop-color="#8e0000"/><stop offset="0.3793" stop-color="#9d0000"/><stop offset="0.3824" stop-color="#dd0000"/><stop offset="0.3856" stop-color="#fe0000"/><stop offset="0.395" stop-color="#ff3d00"/><stop offset="0.4107" stop-color="#ff8800"/><stop offset="0.4514" stop-color="#feff01"/><stop offset="0.5392" stop-color="#00ffff"/><stop offset="0.5674" stop-color="#00a0ff"/><stop offset="0.5862" stop-color="#0050ff"/><stop offset="0.5987" stop-color="#000dff"/><stop offset="0.6019" stop-color="#0000f7"/><stop offset="0.6082" stop-color="#0000c7"/><stop offset="0.6144" stop-color="#00008c"/><stop offset="0.6207" stop-color="#000084"/><stop offset="1" stop-color="#000080"/></linearGradient><clipPath id="clipd"><rect x="1188" y="182.8" width="638.8" height="190.1"/></clipPath><clipPath id="fcd"><rect x="1188" y="184.3" width="636.8" height="184.1"/></clipPath><filter id="vblur" x="-1%" y="-5%" width="102%" height="110%" color-interpolation-filters="sRGB"><feGaussianBlur stdDeviation="0 1.6"/></filter></defs>
<g clip-path="url(#fcc)"><g filter="url(#vblur)"><rect x="1188" y="1" width="637" height="4" fill="url(#gc0)"/><rect x="1188" y="4" width="637" height="4" fill="url(#gc1)"/><rect x="1188" y="7" width="637" height="4" fill="url(#gc2)"/><rect x="1188" y="10" width="637" height="4" fill="url(#gc3)"/><rect x="1188" y="13" width="637" height="4" fill="url(#gc4)"/><rect x="1188" y="16" width="637" height="4" fill="url(#gc5)"/><rect x="1188" y="19" width="637" height="4" fill="url(#gc6)"/><rect x="1188" y="22" width="637" height="4" fill="url(#gc7)"/><rect x="1188" y="25" width="637" height="4" fill="url(#gc8)"/><rect x="1188" y="28" width="637" height="4" fill="url(#gc9)"/><rect x="1188" y="31" width="637" height="4" fill="url(#gc10)"/><rect x="1188" y="34" width="637" height="4" fill="url(#gc11)"/><rect x="1188" y="37" width="637" height="4" fill="url(#gc12)"/><rect x="1188" y="40" width="637" height="4" fill="url(#gc13)"/><rect x="1188" y="43" width="637" height="4" fill="url(#gc14)"/><rect x="1188" y="46" width="637" height="4" fill="url(#gc15)"/><rect x="1188" y="49" width="637" height="4" fill="url(#gc16)"/><rect x="1188" y="52" width="637" height="4" fill="url(#gc17)"/><rect x="1188" y="55" width="637" height="4" fill="url(#gc18)"/><rect x="1188" y="58" width="637" height="4" fill="url(#gc19)"/><rect x="1188" y="61" width="637" height="4" fill="url(#gc20)"/><rect x="1188" y="64" width="637" height="4" fill="url(#gc21)"/><rect x="1188" y="67" width="637" height="4" fill="url(#gc22)"/><rect x="1188" y="70" width="637" height="4" fill="url(#gc23)"/><rect x="1188" y="73" width="637" height="4" fill="url(#gc24)"/><rect x="1188" y="76" width="637" height="4" fill="url(#gc25)"/><rect x="1188" y="79" width="637" height="4" fill="url(#gc26)"/><rect x="1188" y="82" width="637" height="4" fill="url(#gc27)"/><rect x="1188" y="85" width="637" height="4" fill="url(#gc28)"/><rect x="1188" y="88" width="637" height="4" fill="url(#gc29)"/><rect x="1188" y="91" width="637" height="4" fill="url(#gc30)"/><rect x="1188" y="94" width="637" height="4" fill="url(#gc31)"/><rect x="1188" y="97" width="637" height="4" fill="url(#gc32)"/><rect x="1188" y="100" width="637" height="4" fill="url(#gc33)"/><rect x="1188" y="103" width="637" height="4" fill="url(#gc34)"/><rect x="1188" y="106" width="637" height="4" fill="url(#gc35)"/><rect x="1188" y="109" width="637" height="4" fill="url(#gc36)"/><rect x="1188" y="112" width="637" height="4" fill="url(#gc37)"/><rect x="1188" y="115" width="637" height="4" fill="url(#gc38)"/><rect x="1188" y="118" width="637" height="4" fill="url(#gc39)"/><rect x="1188" y="121" width="637" height="4" fill="url(#gc40)"/><rect x="1188" y="124" width="637" height="4" fill="url(#gc41)"/><rect x="1188" y="127" width="637" height="4" fill="url(#gc42)"/><rect x="1188" y="130" width="637" height="4" fill="url(#gc43)"/><rect x="1188" y="133" width="637" height="4" fill="url(#gc44)"/><rect x="1188" y="136" width="637" height="4" fill="url(#gc45)"/><rect x="1188" y="139" width="637" height="4" fill="url(#gc46)"/><rect x="1188" y="142" width="637" height="4" fill="url(#gc47)"/><rect x="1188" y="145" width="637" height="4" fill="url(#gc48)"/><rect x="1188" y="148" width="637" height="4" fill="url(#gc49)"/><rect x="1188" y="151" width="637" height="4" fill="url(#gc50)"/><rect x="1188" y="154" width="637" height="4" fill="url(#gc51)"/><rect x="1188" y="157" width="637" height="4" fill="url(#gc52)"/><rect x="1188" y="160" width="637" height="4" fill="url(#gc53)"/><rect x="1188" y="163" width="637" height="4" fill="url(#gc54)"/><rect x="1188" y="166" width="637" height="4" fill="url(#gc55)"/><rect x="1188" y="169" width="637" height="4" fill="url(#gc56)"/><rect x="1188" y="172" width="637" height="4" fill="url(#gc57)"/><rect x="1188" y="175" width="637" height="4" fill="url(#gc58)"/><rect x="1188" y="178" width="637" height="3" fill="url(#gc59)"/></g></g>
<circle cx="1494.3" cy="91.5" r="17" fill="#9af27c" fill-opacity="0.8" stroke="#4a6f3a" stroke-width="0.8" stroke-opacity="0.35"/>
<g clip-path="url(#clipc)"><path d="M1220.02 7.54L1220.79 7.47L1220.82 7.76L1221.93 7.13L1220.72 6.7L1220.75 6.99L1219.98 7.06ZM1220.08 16.28L1220.84 16.03L1220.94 16.31L1221.92 15.42L1220.6 15.28L1220.69 15.57L1219.92 15.82ZM1220.12 25.01L1220.88 24.58L1221.04 24.85L1221.9 23.71L1220.48 23.88L1220.64 24.15L1219.88 24.59ZM1220.16 33.75L1220.91 33.13L1221.12 33.39L1221.87 32.01L1220.37 32.48L1220.59 32.74L1219.84 33.35ZM1220.19 42.48L1220.92 41.69L1221.19 41.93L1221.83 40.32L1220.27 41.09L1220.54 41.33L1219.81 42.12ZM1220.22 51.21L1220.93 50.25L1221.24 50.48L1221.78 48.64L1220.18 49.7L1220.49 49.93L1219.78 50.89ZM1220.24 59.94L1220.93 58.82L1221.28 59.03L1221.72 56.98L1220.09 58.31L1220.45 58.53L1219.76 59.66ZM1220.26 68.68L1220.91 67.39L1221.31 67.59L1221.64 65.32L1220 66.93L1220.4 67.13L1219.74 68.42ZM1220.27 77.42L1220.9 75.97L1221.33 76.16L1221.56 73.69L1219.92 75.55L1220.35 75.74L1219.73 77.18ZM1220.29 86.16L1220.87 84.57L1221.34 84.74L1221.47 82.08L1219.83 84.18L1220.3 84.35L1219.71 85.94ZM1220.3 94.9L1220.85 93.17L1221.35 93.33L1221.36 90.49L1219.74 92.82L1220.24 92.98L1219.7 94.7ZM1220.31 103.63L1220.81 101.78L1221.34 101.93L1221.25 98.92L1219.66 101.47L1220.19 101.62L1219.69 103.47ZM1220.32 112.37L1220.77 110.41L1221.33 110.54L1221.13 107.39L1219.57 110.13L1220.13 110.26L1219.68 112.23ZM1220.33 121.11L1220.73 119.05L1221.31 119.16L1221 115.88L1219.48 118.81L1220.07 118.92L1219.67 120.99ZM1220.34 129.85L1220.69 127.62L1221.3 127.72L1220.86 124.41L1219.41 127.42L1220.01 127.52L1219.66 129.75ZM1220.35 138.59L1220.65 136.22L1221.27 136.3L1220.71 132.97L1219.33 136.06L1219.96 136.14L1219.65 138.51ZM1220.35 147.33L1220.59 144.85L1221.23 144.91L1220.56 141.57L1219.25 144.72L1219.89 144.78L1219.65 147.27ZM1220.36 156.07L1220.53 153.51L1221.18 153.55L1220.4 150.2L1219.17 153.41L1219.82 153.46L1219.64 156.03ZM1220.36 164.81L1220.46 162.19L1221.12 162.21L1220.24 158.87L1219.1 162.13L1219.75 162.16L1219.64 164.79ZM1220.36 173.55L1220.39 170.9L1221.05 170.91L1220.08 167.58L1219.02 170.88L1219.68 170.89L1219.64 173.55ZM1269.96 7.63L1271.93 7.54L1271.95 8.1L1274.85 7.09L1271.87 6.33L1271.9 6.89L1269.94 6.97ZM1270 16.37L1271.95 16.07L1272.04 16.62L1274.83 15.28L1271.76 14.86L1271.85 15.42L1269.9 15.73ZM1270.04 25.12L1271.97 24.59L1272.12 25.14L1274.79 23.47L1271.65 23.4L1271.8 23.95L1269.86 24.48ZM1270.07 33.86L1271.98 33.11L1272.19 33.65L1274.72 31.67L1271.52 31.95L1271.73 32.49L1269.83 33.24ZM1270.11 42.6L1271.98 41.63L1272.25 42.15L1274.62 39.87L1271.39 40.5L1271.67 41.03L1269.79 42ZM1270.14 51.34L1272.01 50.11L1272.35 50.63L1274.5 48.08L1271.31 49.03L1271.64 49.54L1269.76 50.76ZM1270.17 60.07L1272.04 58.59L1272.43 59.08L1274.36 56.31L1271.22 57.55L1271.61 58.04L1269.73 59.53ZM1270.19 68.81L1272.05 67.06L1272.49 67.53L1274.19 64.55L1271.12 66.07L1271.56 66.54L1269.71 68.29ZM1270.22 77.54L1272.03 75.52L1272.74 76.16L1273.99 72.8L1270.79 74.4L1271.5 75.04L1269.68 77.06ZM1270.24 86.27L1272 83.99L1272.76 84.57L1273.76 81.08L1270.65 82.95L1271.41 83.54L1269.66 85.83ZM1270.26 95.01L1271.94 92.45L1272.76 92.99L1273.51 89.39L1270.5 91.51L1271.31 92.04L1269.64 94.59ZM1270.29 103.74L1271.86 100.93L1272.72 101.41L1273.23 97.72L1270.33 100.07L1271.19 100.56L1269.61 103.36ZM1270.3 112.47L1271.76 109.42L1272.65 109.85L1272.92 106.08L1270.15 108.66L1271.05 109.08L1269.6 112.13ZM1270.32 121.2L1271.63 117.93L1272.56 118.3L1272.58 114.48L1269.96 117.26L1270.89 117.63L1269.58 120.9ZM1270.34 129.93L1271.48 126.46L1272.44 126.78L1272.22 122.92L1269.75 125.89L1270.71 126.21L1269.56 129.67ZM1270.35 138.66L1271.31 135.02L1272.29 135.28L1271.84 131.41L1269.53 134.55L1270.52 134.81L1269.55 138.44ZM1270.36 147.38L1271.12 143.6L1272.13 143.8L1271.44 139.94L1269.31 143.23L1270.31 143.44L1269.54 147.22ZM1270.37 156.11L1270.92 152.22L1271.94 152.36L1271.02 148.52L1269.07 151.96L1270.09 152.1L1269.53 155.99ZM1270.37 164.84L1270.7 160.87L1271.73 160.96L1270.59 157.16L1268.84 160.71L1269.86 160.8L1269.53 164.76ZM1270.37 173.56L1270.48 169.56L1271.51 169.59L1270.16 165.86L1268.6 169.51L1269.64 169.54L1269.53 173.54ZM1319.91 7.76L1324.69 7.61L1324.73 8.69L1328.59 7.03L1324.63 5.61L1324.66 6.69L1319.89 6.84ZM1319.95 16.51L1324.72 15.96L1324.85 17.03L1328.56 15.05L1324.49 13.97L1324.62 15.04L1319.85 15.59ZM1319.99 25.26L1324.74 24.3L1324.96 25.36L1328.5 23.07L1324.35 22.33L1324.56 23.39L1319.81 24.34ZM1320.03 34L1324.75 32.64L1325.05 33.68L1328.41 31.09L1324.19 30.7L1324.49 31.74L1319.77 33.1ZM1320.07 42.74L1324.74 40.97L1325.13 41.99L1328.29 39.11L1324.02 39.06L1324.41 40.08L1319.73 41.86ZM1320.11 51.48L1324.72 49.29L1325.19 50.28L1328.13 47.14L1323.84 47.43L1324.31 48.42L1319.69 50.62ZM1320.14 60.22L1324.68 57.6L1325.23 58.56L1327.93 55.16L1323.64 55.81L1324.19 56.76L1319.66 59.38ZM1320.18 68.95L1324.61 65.9L1325.24 66.82L1327.69 63.19L1323.42 64.18L1324.05 65.1L1319.62 68.15ZM1320.21 77.69L1324.51 74.2L1325.22 75.07L1327.4 71.22L1323.18 72.56L1323.88 73.43L1319.59 76.91ZM1320.25 86.42L1324.38 82.5L1325.16 83.32L1327.06 79.26L1322.91 80.94L1323.68 81.76L1319.55 85.68ZM1320.28 95.15L1324.22 90.79L1325.06 91.56L1326.66 87.32L1322.6 89.34L1323.45 90.1L1319.52 94.45ZM1320.31 103.87L1324.01 99.09L1324.92 99.8L1326.21 95.39L1322.27 97.75L1323.18 98.45L1319.49 103.23ZM1320.35 112.59L1323.76 107.4L1324.73 108.04L1325.68 103.5L1321.9 106.18L1322.87 106.82L1319.45 112.01ZM1320.37 121.31L1323.46 115.73L1324.48 116.3L1325.1 111.65L1321.49 114.64L1322.51 115.21L1319.43 120.79ZM1320.4 130.03L1323.11 124.08L1324.18 124.57L1324.44 119.85L1321.04 123.14L1322.11 123.63L1319.4 129.57ZM1320.42 138.74L1322.71 132.48L1323.83 132.88L1323.72 128.11L1320.55 131.69L1321.67 132.09L1319.38 138.36ZM1320.44 147.45L1322.27 140.91L1323.42 141.24L1322.94 136.45L1320.04 140.29L1321.19 140.61L1319.36 147.15ZM1320.46 156.16L1321.79 149.41L1322.97 149.64L1322.1 144.88L1319.5 148.96L1320.68 149.19L1319.34 155.94ZM1320.47 164.87L1321.27 157.97L1322.47 158.11L1321.23 153.41L1318.94 157.7L1320.14 157.84L1319.33 164.73ZM1320.47 173.57L1320.73 166.6L1321.94 166.65L1320.33 162.05L1318.38 166.51L1319.59 166.56L1319.33 173.53ZM1369.87 7.95L1378.37 7.74L1378.4 9.04L1383.32 6.97L1378.31 5.15L1378.34 6.44L1369.83 6.65ZM1369.91 16.7L1378.41 15.93L1378.53 17.23L1383.3 14.84L1378.18 13.35L1378.29 14.64L1369.79 15.4ZM1369.95 25.44L1378.44 24.12L1378.65 25.41L1383.27 22.7L1378.04 21.54L1378.24 22.83L1369.75 24.16ZM1369.99 34.19L1378.47 32.29L1378.76 33.57L1383.22 30.56L1377.9 29.73L1378.19 31.01L1369.71 32.91ZM1370.04 42.94L1378.5 40.45L1378.87 41.71L1383.16 38.39L1377.75 37.92L1378.12 39.18L1369.66 41.66ZM1370.08 51.68L1378.51 48.59L1378.97 49.83L1383.06 46.2L1377.59 46.08L1378.05 47.33L1369.62 50.42ZM1370.13 60.42L1378.51 56.7L1379.05 57.92L1382.94 53.99L1377.41 54.23L1377.96 55.46L1369.57 59.18ZM1370.17 69.16L1378.49 64.78L1379.12 65.97L1382.78 61.73L1377.22 62.36L1377.85 63.55L1369.53 67.94ZM1370.22 77.9L1378.45 72.82L1379.17 73.98L1382.58 69.44L1376.99 70.46L1377.71 71.62L1369.48 76.7ZM1370.27 86.63L1378.37 80.82L1379.18 81.94L1382.32 77.1L1376.72 78.52L1377.53 79.65L1369.43 85.47ZM1370.32 95.37L1378.24 88.77L1379.14 89.85L1381.98 84.7L1376.4 86.56L1377.3 87.64L1369.38 94.23ZM1370.37 104.09L1378.05 96.66L1379.04 97.69L1381.54 92.25L1376.01 94.55L1377.01 95.58L1369.33 103.01ZM1370.42 112.8L1377.76 104.5L1378.86 105.48L1380.96 99.74L1375.53 102.53L1376.62 103.5L1369.28 111.8ZM1370.47 121.51L1377.36 112.3L1378.57 113.2L1380.23 107.19L1374.93 110.48L1376.13 111.38L1369.23 120.59ZM1370.51 130.21L1376.82 120.08L1378.13 120.89L1379.29 114.63L1374.19 118.44L1375.49 119.25L1369.19 129.39ZM1370.56 138.91L1376.11 127.86L1377.51 128.57L1378.12 122.1L1373.29 126.44L1374.69 127.15L1369.14 138.19ZM1370.6 147.59L1375.2 135.7L1376.7 136.27L1376.67 129.66L1372.21 134.54L1373.7 135.12L1369.1 147.01ZM1370.63 156.26L1374.09 143.64L1375.67 144.07L1374.96 137.39L1370.95 142.78L1372.53 143.21L1369.07 155.84ZM1370.66 164.93L1372.8 151.77L1374.43 152.04L1373.01 145.4L1369.55 151.24L1371.18 151.51L1369.04 164.67ZM1370.67 173.59L1371.37 160.15L1373.03 160.24L1370.88 153.76L1368.07 159.98L1369.73 160.06L1369.03 173.51ZM1419.81 8.1L1432.6 7.89L1432.63 9.49L1438.76 6.98L1432.55 4.67L1432.57 6.28L1419.79 6.5ZM1419.85 16.85L1432.66 16.05L1432.76 17.66L1438.78 14.86L1432.46 12.84L1432.56 14.45L1419.75 15.25ZM1419.89 25.6L1432.74 24.21L1432.91 25.82L1438.82 22.74L1432.39 21L1432.56 22.61L1419.71 24ZM1419.92 34.35L1432.84 32.36L1433.09 33.97L1438.89 30.6L1432.34 29.14L1432.59 30.75L1419.68 32.75ZM1419.96 43.1L1432.96 40.48L1433.28 42.1L1438.98 38.44L1432.31 37.27L1432.64 38.88L1419.64 41.5ZM1420 51.85L1433.1 48.59L1433.5 50.2L1439.09 46.25L1432.3 45.37L1432.7 46.99L1419.6 50.25ZM1420.04 60.6L1433.27 56.67L1433.75 58.29L1439.22 54.03L1432.31 53.45L1432.79 55.08L1419.56 59ZM1420.07 69.34L1433.47 64.72L1434.03 66.35L1439.4 61.79L1432.36 61.51L1432.92 63.14L1419.53 67.76ZM1420.11 78.09L1433.73 72.74L1434.38 74.38L1439.65 69.5L1432.47 69.52L1433.11 71.15L1419.49 76.51ZM1420.15 86.84L1434.08 80.69L1434.81 82.35L1440.01 77.13L1432.65 77.45L1433.38 79.11L1419.45 85.26ZM1420.19 95.6L1434.53 88.53L1435.36 90.21L1440.49 84.61L1432.92 85.26L1433.75 86.94L1419.41 94ZM1420.24 104.35L1435.1 96.2L1436.04 97.92L1441.11 91.87L1433.29 92.89L1434.23 94.6L1419.36 102.75ZM1420.29 113.1L1435.79 103.62L1436.86 105.38L1441.85 98.81L1433.73 100.26L1434.8 102.01L1419.31 111.5ZM1420.36 121.86L1436.56 110.7L1437.8 112.5L1442.69 105.29L1434.22 107.29L1435.45 109.09L1419.24 120.24ZM1420.43 130.61L1437.41 117.31L1438.86 119.16L1443.59 111.17L1434.7 113.85L1436.15 115.69L1419.17 128.99ZM1420.53 139.36L1438.3 123.26L1440 125.15L1444.47 116.2L1435.13 119.77L1436.83 121.65L1419.07 137.74ZM1420.66 148.1L1439.09 128.19L1441.14 130.1L1445.17 119.9L1435.31 124.7L1437.37 126.6L1418.94 146.5ZM1420.83 156.81L1439.38 131.45L1441.93 133.31L1445.09 121.47L1434.76 128.07L1437.31 129.93L1418.77 155.29ZM1421.08 165.44L1437.61 132.02L1440.88 133.64L1442.13 119.67L1431.78 129.14L1435.05 130.75L1418.52 164.16ZM1421.37 173.83L1429.01 131.06L1433.1 131.8L1430.05 116.2L1421.78 129.77L1425.87 130.5L1418.23 173.27ZM1469.76 8.19L1485.71 8.06L1485.73 9.93L1492.77 7.12L1485.69 4.42L1485.7 6.29L1469.74 6.41ZM1469.78 16.94L1485.82 16.46L1485.88 18.34L1492.89 15.37L1485.72 12.81L1485.77 14.69L1469.72 15.16ZM1469.8 25.69L1486.04 24.84L1486.13 26.74L1493.13 23.58L1485.84 21.16L1485.94 23.06L1469.7 23.91ZM1469.82 34.45L1486.35 33.16L1486.5 35.08L1493.5 31.7L1486.06 29.45L1486.21 31.36L1469.68 32.65ZM1469.85 43.21L1486.77 41.38L1486.98 43.33L1494 39.68L1486.37 37.61L1486.58 39.56L1469.65 41.39ZM1469.88 51.97L1487.27 49.42L1487.56 51.4L1494.57 47.41L1486.71 45.6L1487 47.58L1469.62 50.13ZM1469.94 60.72L1487.71 57.16L1488.12 59.17L1495.06 54.72L1486.94 53.3L1487.34 55.31L1469.56 58.88ZM1470 69.46L1487.75 64.51L1488.31 66.51L1494.97 61.51L1486.68 60.68L1487.24 62.68L1469.5 67.64ZM1470.08 78.17L1486.55 71.91L1487.26 73.79L1493.26 68.36L1485.17 68.29L1485.89 70.17L1469.42 76.43ZM1470.07 86.85L1483.9 81.31L1484.56 82.97L1489.86 78L1482.6 78.06L1483.26 79.72L1469.43 85.25ZM1469.87 95.62L1483.36 93.64L1483.6 95.3L1489.58 91.89L1482.88 90.35L1483.12 92.01L1469.63 93.98ZM1469.75 104.48L1487.31 104.56L1487.3 106.57L1494.83 103.67L1487.33 100.7L1487.32 102.71L1469.75 102.62ZM1469.78 113.33L1491.4 112.64L1491.47 114.98L1500.03 111.33L1491.26 108.23L1491.33 110.58L1469.72 111.27ZM1469.85 122.15L1494.12 119.92L1494.36 122.48L1503.42 117.96L1493.69 115.17L1493.92 117.73L1469.65 119.95ZM1469.9 130.95L1496.21 127.47L1496.57 130.2L1506.02 125.01L1495.55 122.45L1495.91 125.18L1469.6 128.65ZM1469.93 139.75L1498.2 135.48L1498.64 138.37L1508.53 132.7L1497.41 130.2L1497.84 133.09L1469.57 137.35ZM1469.94 148.55L1500.3 144.01L1500.76 147.08L1511.21 141.1L1499.47 138.45L1499.92 141.51L1469.56 146.05ZM1469.92 157.36L1502.43 153.19L1502.84 156.44L1513.97 150.38L1501.68 147.33L1502.09 150.58L1469.58 154.74ZM1469.87 166.16L1504.29 163.16L1504.59 166.57L1516.44 160.74L1503.76 157.04L1504.06 160.45L1469.63 163.44ZM1469.79 174.94L1505.38 173.87L1505.49 177.38L1517.94 172.11L1505.19 167.59L1505.3 171.09L1469.71 172.16ZM1519.69 8.19L1535.91 8.29L1535.9 10.18L1543.06 7.44L1535.94 4.61L1535.92 6.5L1519.71 6.41ZM1519.68 16.94L1535.99 17.3L1535.95 19.2L1543.17 16.56L1536.07 13.61L1536.03 15.51L1519.72 15.16ZM1519.66 25.7L1536.17 26.34L1536.09 28.26L1543.42 25.73L1536.31 22.63L1536.24 24.55L1519.74 23.9ZM1519.65 34.46L1536.45 35.45L1536.33 37.39L1543.8 34.97L1536.67 31.69L1536.55 33.63L1519.75 32.64ZM1519.62 43.22L1536.81 44.65L1536.65 46.62L1544.29 44.35L1537.13 40.85L1536.96 42.82L1519.78 41.38ZM1519.59 51.98L1537.22 54.03L1536.99 56.03L1544.85 53.98L1537.67 50.17L1537.44 52.18L1519.81 50.12ZM1519.55 60.73L1537.55 63.67L1537.22 65.7L1545.31 63.98L1538.19 59.77L1537.85 61.81L1519.85 58.87ZM1519.49 69.47L1537.4 73.62L1536.93 75.65L1545.17 74.45L1538.3 69.76L1537.83 71.78L1519.91 67.63ZM1519.42 78.18L1536 83.37L1535.41 85.27L1543.4 84.72L1537.15 79.71L1536.55 81.61L1519.98 76.42ZM1519.46 86.87L1533.49 90.93L1533 92.62L1540.14 91.97L1534.45 87.61L1533.96 89.3L1519.94 85.23ZM1519.67 95.64L1533.83 96.13L1533.77 97.85L1540.41 95.51L1533.94 92.73L1533.89 94.45L1519.73 93.96ZM1519.79 104.49L1538.12 102.79L1538.32 104.85L1545.76 101.12L1537.76 98.83L1537.95 100.9L1519.61 102.61ZM1519.75 113.35L1542.1 112.32L1542.21 114.72L1550.91 110.86L1541.89 107.81L1542 110.22L1519.65 111.25ZM1519.69 122.16L1544.55 122.48L1544.51 125.1L1554.14 121.49L1544.61 117.64L1544.57 120.26L1519.71 119.94ZM1519.64 130.96L1546.32 132.31L1546.18 135.07L1556.47 131.66L1546.58 127.23L1546.44 129.99L1519.76 128.64ZM1519.62 139.75L1547.94 141.7L1547.74 144.6L1558.57 141.22L1548.31 136.39L1548.11 139.3L1519.78 137.35ZM1519.61 148.54L1549.53 150.68L1549.31 153.72L1560.62 150.23L1549.93 145.17L1549.71 148.2L1519.79 146.06ZM1519.62 157.33L1551.02 159.27L1550.82 162.43L1562.51 158.7L1551.37 153.56L1551.18 156.71L1519.78 154.77ZM1519.65 166.11L1552.22 167.47L1552.09 170.73L1564.03 166.65L1552.47 161.59L1552.33 164.85L1519.75 163.49ZM1519.68 174.88L1552.92 175.35L1552.87 178.66L1564.87 174.19L1553 169.38L1552.95 172.7L1519.72 172.22ZM1569.64 8.13L1583.33 8.32L1583.31 10.01L1589.77 7.59L1583.38 4.99L1583.35 6.67L1569.66 6.47ZM1569.61 16.88L1583.33 17.6L1583.24 19.29L1589.8 17.11L1583.5 14.26L1583.42 15.95L1569.69 15.22ZM1569.57 25.63L1583.36 26.89L1583.21 28.57L1589.88 26.65L1583.67 23.54L1583.51 25.23L1569.73 23.97ZM1569.54 34.38L1583.42 36.18L1583.2 37.88L1589.99 36.19L1583.86 32.83L1583.64 34.53L1569.76 32.72ZM1569.51 43.13L1583.52 45.5L1583.23 47.2L1590.14 45.76L1584.09 42.14L1583.8 43.84L1569.79 41.47ZM1569.48 51.88L1583.65 54.82L1583.3 56.54L1590.33 55.35L1584.35 51.45L1584 53.16L1569.82 50.22ZM1569.45 60.63L1583.83 64.17L1583.4 65.89L1590.58 64.95L1584.66 60.78L1584.23 62.51L1569.85 58.97ZM1569.41 69.38L1584.06 73.53L1583.57 75.27L1590.89 74.56L1585.03 70.12L1584.53 71.86L1569.89 67.72ZM1569.38 78.14L1584.39 82.92L1583.82 84.69L1591.33 84.21L1585.48 79.48L1584.92 81.24L1569.92 76.46ZM1569.35 86.9L1584.84 92.36L1584.2 94.17L1591.92 93.91L1586.07 88.87L1585.43 90.67L1569.95 85.2ZM1569.32 95.66L1585.44 101.91L1584.73 103.76L1592.71 103.74L1586.83 98.35L1586.11 100.19L1569.98 93.94ZM1569.28 104.42L1586.23 111.62L1585.42 113.53L1593.74 113.77L1587.78 107.96L1586.97 109.87L1570.02 102.68ZM1569.23 113.19L1587.22 121.55L1586.29 123.54L1595.03 124.1L1588.97 117.78L1588.05 119.77L1570.07 111.41ZM1569.18 121.97L1588.42 131.79L1587.36 133.87L1596.6 134.81L1590.42 127.87L1589.36 129.95L1570.12 120.13ZM1569.12 130.75L1589.91 142.42L1588.67 144.63L1598.54 146.02L1592.21 138.32L1590.97 140.52L1570.18 128.85ZM1569.04 139.54L1591.82 153.6L1590.36 155.96L1601.04 157.92L1594.5 149.26L1593.04 151.62L1570.26 137.56ZM1568.94 148.35L1594.47 165.62L1592.73 168.2L1604.51 170.88L1597.64 160.95L1595.89 163.52L1570.36 146.25ZM1568.8 157.2L1598.65 179.16L1596.5 182.08L1609.98 185.72L1602.49 173.94L1600.34 176.86L1570.5 154.9ZM1568.65 166.08L1603.95 193.67L1601.32 197.04L1616.93 201.75L1608.58 187.74L1605.95 191.11L1570.65 163.52ZM1568.72 174.88L1605.43 200.55L1602.99 204.06L1618.82 207.93L1609.75 194.38L1607.3 197.89L1570.58 172.22ZM1619.58 8.02L1629.47 8.23L1629.44 9.61L1634.84 7.63L1629.53 5.42L1629.5 6.8L1619.62 6.58ZM1619.54 16.77L1629.44 17.56L1629.33 18.93L1634.84 17.27L1629.66 14.75L1629.55 16.13L1619.66 15.33ZM1619.5 25.51L1629.4 26.89L1629.21 28.26L1634.84 26.91L1629.79 24.09L1629.6 25.46L1619.7 24.09ZM1619.46 34.26L1629.38 36.23L1629.11 37.6L1634.83 36.58L1629.93 33.44L1629.66 34.81L1619.74 32.84ZM1619.41 43.01L1629.35 45.6L1629 46.96L1634.82 46.26L1630.08 42.82L1629.72 44.18L1619.79 41.59ZM1619.37 51.76L1629.33 54.99L1628.9 56.34L1634.81 55.98L1630.23 52.23L1629.79 53.57L1619.83 50.34ZM1619.33 60.5L1629.31 64.41L1628.78 65.75L1634.79 65.75L1630.38 61.68L1629.86 63.01L1619.87 59.1ZM1619.28 69.24L1629.28 73.87L1628.66 75.2L1634.74 75.57L1630.53 71.17L1629.92 72.5L1619.92 67.86ZM1619.23 77.98L1629.24 83.39L1628.53 84.7L1634.68 85.46L1630.68 80.73L1629.97 82.04L1619.97 76.62ZM1619.19 86.71L1629.17 92.97L1628.36 94.26L1634.57 95.44L1630.81 90.36L1630 91.65L1620.01 85.39ZM1619.14 95.44L1629.07 102.63L1628.15 103.89L1634.41 105.51L1630.91 100.08L1629.99 101.34L1620.06 94.16ZM1619.08 104.17L1628.9 112.37L1627.87 113.61L1634.15 115.71L1630.96 109.9L1629.93 111.14L1620.12 102.93ZM1619.03 112.89L1628.64 122.22L1627.49 123.41L1633.77 126.05L1630.94 119.85L1629.79 121.04L1620.17 111.71ZM1618.97 121.6L1628.25 132.17L1626.97 133.3L1633.19 136.53L1630.8 129.94L1629.51 131.07L1620.23 120.5ZM1618.91 130.31L1627.68 142.23L1626.25 143.28L1632.36 147.15L1630.48 140.16L1629.05 141.21L1620.29 129.29ZM1618.85 139L1626.84 152.35L1625.26 153.29L1631.16 157.86L1629.92 150.5L1628.34 151.45L1620.35 138.1ZM1618.79 147.68L1625.66 162.47L1623.94 163.27L1629.49 168.59L1629.01 160.92L1627.28 161.72L1620.41 146.92ZM1618.73 156.34L1624.08 172.48L1622.23 173.1L1627.27 179.18L1627.68 171.29L1625.82 171.91L1620.47 155.76ZM1618.69 164.98L1622.1 182.19L1620.13 182.58L1624.47 189.38L1625.88 181.44L1623.92 181.83L1620.51 164.62ZM1618.67 173.61L1619.8 191.42L1617.78 191.55L1621.22 198.94L1623.69 191.17L1621.67 191.3L1620.53 173.49ZM1669.53 7.82L1675.58 8L1675.54 9.15L1679.86 7.6L1675.64 5.8L1675.61 6.95L1669.57 6.78ZM1669.49 16.57L1675.53 17.21L1675.41 18.36L1679.83 17.14L1675.76 15.02L1675.64 16.16L1669.61 15.53ZM1669.45 25.32L1675.47 26.42L1675.26 27.56L1679.78 26.68L1675.87 24.25L1675.66 25.38L1669.65 24.28ZM1669.41 34.06L1675.4 35.64L1675.1 36.76L1679.7 36.22L1675.96 33.49L1675.67 34.61L1669.69 33.04ZM1669.37 42.81L1675.31 44.86L1674.93 45.96L1679.58 45.77L1676.04 42.75L1675.66 43.85L1669.73 41.79ZM1669.33 51.55L1675.21 54.09L1674.74 55.17L1679.43 55.33L1676.11 52.02L1675.64 53.1L1669.77 50.55ZM1669.29 60.29L1675.09 63.33L1674.54 64.38L1679.24 64.9L1676.15 61.32L1675.6 62.36L1669.81 59.31ZM1669.25 69.02L1674.94 72.58L1674.3 73.59L1679.01 74.48L1676.16 70.63L1675.53 71.64L1669.85 68.08ZM1669.21 77.76L1674.75 81.84L1674.04 82.81L1678.72 84.06L1676.14 79.96L1675.43 80.93L1669.89 76.84ZM1669.17 86.49L1674.54 91.11L1673.74 92.03L1678.37 93.65L1676.08 89.31L1675.29 90.23L1669.93 85.61ZM1669.13 95.21L1674.27 100.37L1673.4 101.24L1677.95 103.23L1675.97 98.68L1675.1 99.55L1669.97 94.39ZM1669.1 103.94L1673.96 109.64L1673.02 110.44L1677.45 112.81L1675.81 108.06L1674.87 108.87L1670 103.16ZM1669.06 112.66L1673.59 118.9L1672.58 119.63L1676.86 122.38L1675.58 117.45L1674.57 118.18L1670.04 111.94ZM1669.02 121.37L1673.15 128.13L1672.07 128.79L1676.18 131.91L1675.29 126.83L1674.21 127.49L1670.08 120.73ZM1668.99 130.08L1672.65 137.34L1671.51 137.91L1675.4 141.39L1674.91 136.2L1673.77 136.77L1670.11 129.52ZM1668.96 138.79L1672.08 146.49L1670.89 146.98L1674.51 150.8L1674.45 145.53L1673.26 146.02L1670.14 138.31ZM1668.93 147.49L1671.44 155.58L1670.21 155.97L1673.53 160.12L1673.91 154.82L1672.68 155.2L1670.17 147.11ZM1668.91 156.19L1670.75 164.59L1669.48 164.87L1672.45 169.33L1673.3 164.04L1672.02 164.31L1670.19 155.91ZM1668.9 164.88L1670.02 173.5L1668.72 173.67L1671.31 178.39L1672.61 173.17L1671.32 173.34L1670.2 164.72ZM1668.89 173.58L1669.25 182.31L1667.94 182.36L1670.12 187.3L1671.88 182.2L1670.57 182.25L1670.21 173.52ZM1719.49 7.67L1722.34 7.77L1722.3 8.74L1725.72 7.53L1722.4 6.08L1722.37 7.04L1719.51 6.93ZM1719.45 16.41L1722.3 16.81L1722.17 17.76L1725.7 16.9L1722.53 15.12L1722.4 16.08L1719.55 15.69ZM1719.41 25.16L1722.26 25.84L1722.04 26.78L1725.65 26.27L1722.66 24.18L1722.43 25.12L1719.59 24.44ZM1719.38 33.9L1722.22 34.88L1721.9 35.8L1725.56 35.63L1722.78 33.25L1722.46 34.17L1719.62 33.2ZM1719.34 42.64L1722.17 43.92L1721.76 44.81L1725.46 44.99L1722.88 42.34L1722.48 43.23L1719.66 41.96ZM1719.31 51.38L1722.11 52.96L1721.62 53.82L1725.32 54.34L1722.97 51.44L1722.48 52.3L1719.69 50.72ZM1719.28 60.12L1722.03 62.01L1721.47 62.83L1725.14 63.68L1723.04 60.55L1722.47 61.37L1719.72 59.48ZM1719.25 68.86L1721.94 71.07L1721.31 71.84L1724.94 73.01L1723.08 69.68L1722.45 70.45L1719.75 68.24ZM1719.22 77.59L1721.84 80.12L1721.13 80.84L1724.7 82.32L1723.1 78.81L1722.4 79.54L1719.78 77.01ZM1719.19 86.32L1721.71 89.17L1720.94 89.84L1724.42 91.61L1723.09 87.94L1722.32 88.62L1719.81 85.78ZM1719.16 95.05L1721.55 98.21L1720.73 98.83L1724.11 100.89L1723.04 97.08L1722.22 97.7L1719.84 94.55ZM1719.14 103.78L1721.38 107.23L1720.51 107.8L1723.76 110.13L1722.97 106.2L1722.1 106.77L1719.86 103.32ZM1719.12 112.51L1721.17 116.25L1720.26 116.75L1723.37 119.34L1722.85 115.32L1721.94 115.83L1719.88 112.09ZM1719.1 121.24L1720.95 125.24L1719.99 125.68L1722.95 128.51L1722.71 124.42L1721.75 124.86L1719.9 120.86ZM1719.08 129.96L1720.7 134.2L1719.7 134.58L1722.48 137.63L1722.53 133.5L1721.54 133.88L1719.92 129.64ZM1719.06 138.68L1720.42 143.13L1719.4 143.44L1721.99 146.7L1722.32 142.55L1721.29 142.86L1719.94 138.42ZM1719.05 147.4L1720.13 152.02L1719.08 152.27L1721.47 155.72L1722.07 151.57L1721.03 151.81L1719.95 147.2ZM1719.04 156.13L1719.82 160.88L1718.76 161.05L1720.92 164.67L1721.8 160.55L1720.74 160.73L1719.96 155.97ZM1719.04 164.85L1719.51 169.69L1718.43 169.79L1720.35 173.56L1721.51 169.49L1720.44 169.6L1719.96 164.75ZM1719.03 173.56L1719.19 178.45L1718.1 178.49L1719.78 182.38L1721.2 178.39L1720.12 178.42L1719.97 173.54ZM1769.43 7.57L1770.65 7.64L1770.62 8.04L1772.48 7.48L1770.7 6.71L1770.68 7.1L1769.47 7.03ZM1769.39 16.32L1770.6 16.59L1770.51 16.97L1772.47 16.72L1770.8 15.66L1770.72 16.05L1769.51 15.78ZM1769.35 25.06L1770.55 25.52L1770.4 25.9L1772.44 25.96L1770.89 24.63L1770.75 25.01L1769.55 24.54ZM1769.31 33.8L1770.49 34.45L1770.28 34.82L1772.39 35.19L1770.97 33.59L1770.76 33.96L1769.59 33.3ZM1769.28 42.53L1770.43 43.38L1770.17 43.73L1772.33 44.41L1771.03 42.56L1770.77 42.91L1769.62 42.07ZM1769.25 51.27L1770.37 52.3L1770.06 52.64L1772.25 53.62L1771.08 51.52L1770.77 51.86L1769.65 50.83ZM1769.23 60L1770.31 61.21L1769.95 61.53L1772.16 62.82L1771.12 60.48L1770.76 60.81L1769.67 59.6ZM1769.2 68.74L1770.24 70.12L1769.83 70.42L1772.04 72.01L1771.14 69.44L1770.74 69.75L1769.7 68.36ZM1769.18 77.47L1770.17 79.02L1769.72 79.31L1771.92 81.17L1771.15 78.39L1770.7 78.68L1769.72 77.13ZM1769.16 86.21L1770.09 87.91L1769.6 88.18L1771.77 90.31L1771.15 87.33L1770.66 87.6L1769.74 85.89ZM1769.15 94.94L1770.01 96.79L1769.49 97.04L1771.61 99.43L1771.14 96.27L1770.62 96.51L1769.75 94.66ZM1769.13 103.68L1769.94 105.7L1769.38 105.92L1771.43 108.53L1771.13 105.23L1770.57 105.45L1769.77 103.42ZM1769.12 112.41L1769.88 114.64L1769.29 114.84L1771.24 117.59L1771.12 114.22L1770.53 114.42L1769.78 112.19ZM1769.11 121.15L1769.8 123.57L1769.18 123.75L1771.03 126.62L1771.1 123.2L1770.48 123.38L1769.79 120.95ZM1769.1 129.88L1769.71 132.47L1769.07 132.62L1770.81 135.62L1771.05 132.16L1770.41 132.31L1769.8 129.72ZM1769.09 138.62L1769.61 141.36L1768.66 141.53L1770.58 144.58L1771.26 141.04L1770.32 141.22L1769.81 138.48ZM1769.09 147.35L1769.5 150.21L1768.54 150.35L1770.34 153.5L1771.18 149.97L1770.22 150.1L1769.81 147.25ZM1769.08 156.09L1769.38 159.03L1768.41 159.13L1770.09 162.38L1771.08 158.86L1770.12 158.96L1769.82 156.01ZM1769.08 164.82L1769.26 167.83L1768.29 167.89L1769.83 171.22L1770.97 167.73L1770 167.79L1769.82 164.78ZM1769.07 173.56L1769.13 176.6L1768.16 176.61L1769.57 180.01L1770.86 176.56L1769.88 176.58L1769.83 173.54ZM1819.2 24.87L1819.35 25.29L1819.14 25.36L1819.77 25.83L1819.96 25.07L1819.75 25.14L1819.6 24.73ZM1819.18 33.6L1819.33 34.19L1819.08 34.25L1819.77 35.01L1820.01 34.02L1819.77 34.08L1819.62 33.5ZM1819.17 42.34L1819.31 43.1L1819.02 43.15L1819.76 44.18L1820.06 42.95L1819.78 43.01L1819.63 42.26ZM1819.15 51.09L1819.29 52L1818.97 52.05L1819.75 53.34L1820.11 51.88L1819.79 51.93L1819.65 51.01ZM1819.14 59.83L1819.28 60.91L1818.92 60.95L1819.74 62.48L1820.15 60.8L1819.79 60.84L1819.66 59.77ZM1819.13 68.58L1819.26 69.8L1818.86 69.85L1819.72 71.61L1820.19 69.7L1819.8 69.75L1819.67 68.52ZM1819.12 77.33L1819.24 78.7L1818.81 78.73L1819.71 80.72L1820.23 78.61L1819.8 78.64L1819.68 77.27ZM1819.11 86.07L1819.22 87.58L1818.76 87.61L1819.69 89.82L1820.27 87.5L1819.81 87.53L1819.69 86.03ZM1819.1 94.82L1819.2 96.45L1818.72 96.49L1819.67 98.89L1820.3 96.38L1819.81 96.41L1819.7 94.78ZM1819.09 103.57L1819.19 105.32L1818.67 105.35L1819.64 107.93L1820.32 105.26L1819.81 105.28L1819.71 103.53ZM1819.08 112.32L1819.17 114.17L1818.63 114.2L1819.62 116.95L1820.35 114.12L1819.81 114.14L1819.72 112.28ZM1819.07 121.06L1819.15 123.02L1818.59 123.04L1819.59 125.94L1820.36 122.97L1819.8 122.99L1819.73 121.04ZM1819.07 129.81L1819.13 131.85L1818.56 131.87L1819.57 134.9L1820.38 131.81L1819.8 131.83L1819.73 129.79ZM1819.06 138.56L1819.12 140.67L1818.52 140.69L1819.54 143.82L1820.39 140.64L1819.79 140.65L1819.74 138.54ZM1819.06 147.31L1819.1 149.53L1818.49 149.54L1819.51 152.72L1820.39 149.51L1819.79 149.52L1819.74 147.29ZM1819.05 156.05L1819.09 158.36L1818.47 158.37L1819.48 161.57L1820.4 158.34L1819.78 158.35L1819.75 156.05ZM1819.05 164.8L1819.07 167.17L1818.45 167.17L1819.45 170.39L1820.39 167.16L1819.77 167.16L1819.75 164.8ZM1819.05 173.55L1819.06 175.94L1818.43 175.94L1819.42 179.18L1820.38 175.94L1819.76 175.94L1819.75 173.55Z" fill="#ff0000"/></g>
<g clip-path="url(#fcd)"><g filter="url(#vblur)"><rect x="1188" y="181" width="637" height="4" fill="url(#gd0)"/><rect x="1188" y="184" width="637" height="4" fill="url(#gd1)"/><rect x="1188" y="187" width="637" height="4" fill="url(#gd2)"/><rect x="1188" y="190" width="637" height="4" fill="url(#gd3)"/><rect x="1188" y="193" width="637" height="4" fill="url(#gd4)"/><rect x="1188" y="196" width="637" height="4" fill="url(#gd5)"/><rect x="1188" y="199" width="637" height="4" fill="url(#gd6)"/><rect x="1188" y="202" width="637" height="4" fill="url(#gd7)"/><rect x="1188" y="205" width="637" height="4" fill="url(#gd8)"/><rect x="1188" y="208" width="637" height="4" fill="url(#gd9)"/><rect x="1188" y="211" width="637" height="4" fill="url(#gd10)"/><rect x="1188" y="214" width="637" height="4" fill="url(#gd11)"/><rect x="1188" y="217" width="637" height="4" fill="url(#gd12)"/><rect x="1188" y="220" width="637" height="4" fill="url(#gd13)"/><rect x="1188" y="223" width="637" height="4" fill="url(#gd14)"/><rect x="1188" y="226" width="637" height="4" fill="url(#gd15)"/><rect x="1188" y="229" width="637" height="4" fill="url(#gd16)"/><rect x="1188" y="232" width="637" height="4" fill="url(#gd17)"/><rect x="1188" y="235" width="637" height="4" fill="url(#gd18)"/><rect x="1188" y="238" width="637" height="4" fill="url(#gd19)"/><rect x="1188" y="241" width="637" height="4" fill="url(#gd20)"/><rect x="1188" y="244" width="637" height="4" fill="url(#gd21)"/><rect x="1188" y="247" width="637" height="4" fill="url(#gd22)"/><rect x="1188" y="250" width="637" height="4" fill="url(#gd23)"/><rect x="1188" y="253" width="637" height="4" fill="url(#gd24)"/><rect x="1188" y="256" width="637" height="4" fill="url(#gd25)"/><rect x="1188" y="259" width="637" height="4" fill="url(#gd26)"/><rect x="1188" y="262" width="637" height="4" fill="url(#gd27)"/><rect x="1188" y="265" width="637" height="4" fill="url(#gd28)"/><rect x="1188" y="268" width="637" height="4" fill="url(#gd29)"/><rect x="1188" y="271" width="637" height="4" fill="url(#gd30)"/><rect x="1188" y="274" width="637" height="4" fill="url(#gd31)"/><rect x="1188" y="277" width="637" height="4" fill="url(#gd32)"/><rect x="1188" y="280" width="637" height="4" fill="url(#gd33)"/><rect x="1188" y="283" width="637" height="4" fill="url(#gd34)"/><rect x="1188" y="286" width="637" height="4" fill="url(#gd35)"/><rect x="1188" y="289" width="637" height="4" fill="url(#gd36)"/><rect x="1188" y="292" width="637" height="4" fill="url(#gd37)"/><rect x="1188" y="295" width="637" height="4" fill="url(#gd38)"/><rect x="1188" y="298" width="637" height="4" fill="url(#gd39)"/><rect x="1188" y="301" width="637" height="4" fill="url(#gd40)"/><rect x="1188" y="304" width="637" height="4" fill="url(#gd41)"/><rect x="1188" y="307" width="637" height="4" fill="url(#gd42)"/><rect x="1188" y="310" width="637" height="4" fill="url(#gd43)"/><rect x="1188" y="313" width="637" height="4" fill="url(#gd44)"/><rect x="1188" y="316" width="637" height="4" fill="url(#gd45)"/><rect x="1188" y="319" width="637" height="4" fill="url(#gd46)"/><rect x="1188" y="322" width="637" height="4" fill="url(#gd47)"/><rect x="1188" y="325" width="637" height="4" fill="url(#gd48)"/><rect x="1188" y="328" width="637" height="4" fill="url(#gd49)"/><rect x="1188" y="331" width="637" height="4" fill="url(#gd50)"/><rect x="1188" y="334" width="637" height="4" fill="url(#gd51)"/><rect x="1188" y="337" width="637" height="4" fill="url(#gd52)"/><rect x="1188" y="340" width="637" height="4" fill="url(#gd53)"/><rect x="1188" y="343" width="637" height="4" fill="url(#gd54)"/><rect x="1188" y="346" width="637" height="4" fill="url(#gd55)"/><rect x="1188" y="349" width="637" height="4" fill="url(#gd56)"/><rect x="1188" y="352" width="637" height="4" fill="url(#gd57)"/><rect x="1188" y="355" width="637" height="4" fill="url(#gd58)"/><rect x="1188" y="358" width="637" height="4" fill="url(#gd59)"/><rect x="1188" y="361" width="637" height="4" fill="url(#gd60)"/><rect x="1188" y="364" width="637" height="4" fill="url(#gd61)"/><rect x="1188" y="367" width="637" height="4" fill="url(#gd62)"/><rect x="1188" y="370" width="637" height="1" fill="url(#gd63)"/></g></g>
<g clip-path="url(#clipd)"><path d="M1206.02 187.95L1206.93 187.87L1206.96 188.2L1208.28 187.51L1206.86 187.05L1206.89 187.38L1205.98 187.45ZM1206.08 197.24L1206.98 196.96L1207.08 197.27L1208.27 196.29L1206.73 196.16L1206.83 196.48L1205.92 196.76ZM1206.12 206.53L1207.02 206.03L1207.19 206.34L1208.25 205.07L1206.61 205.28L1206.78 205.58L1205.88 206.07ZM1206.16 215.81L1207.05 215.11L1207.28 215.41L1208.21 213.86L1206.49 214.4L1206.72 214.7L1205.84 215.39ZM1206.2 225.09L1207.06 224.2L1207.35 224.47L1208.16 222.66L1206.38 223.54L1206.67 223.82L1205.8 224.71ZM1206.22 234.37L1207.07 233.28L1207.41 233.55L1208.1 231.47L1206.28 232.67L1206.62 232.94L1205.78 234.03ZM1206.25 243.66L1207.06 242.38L1207.45 242.62L1208.03 240.3L1206.17 241.82L1206.56 242.06L1205.75 243.34ZM1206.27 252.94L1207.05 251.48L1207.48 251.71L1207.95 249.14L1206.07 250.96L1206.51 251.19L1205.73 252.66ZM1206.29 262.23L1207.03 260.59L1207.5 260.81L1207.85 258.01L1205.97 260.12L1206.45 260.33L1205.71 261.97ZM1206.3 271.52L1207 269.71L1207.52 269.91L1207.74 266.89L1205.87 269.28L1206.39 269.48L1205.7 271.28ZM1206.32 280.8L1206.96 278.85L1207.52 279.03L1207.61 275.81L1205.77 278.46L1206.33 278.64L1205.68 280.6ZM1206.33 290.09L1206.94 287.92L1207.53 288.09L1207.48 284.75L1205.69 287.57L1206.28 287.74L1205.67 289.91ZM1206.34 299.38L1206.92 296.98L1207.54 297.12L1207.33 293.72L1205.61 296.67L1206.23 296.81L1205.66 299.22ZM1206.35 308.67L1206.88 306.05L1207.52 306.18L1207.18 302.73L1205.53 305.78L1206.17 305.91L1205.65 308.53ZM1206.36 317.96L1206.82 315.16L1207.77 315.31L1207.01 311.78L1205.15 314.88L1206.1 315.04L1205.64 317.84ZM1206.37 327.25L1206.76 324.29L1207.72 324.41L1206.84 320.86L1205.06 324.06L1206.02 324.19L1205.63 327.15ZM1206.38 336.54L1206.69 333.45L1207.66 333.55L1206.66 329.99L1204.96 333.27L1205.93 333.37L1205.62 336.46ZM1206.38 345.83L1206.61 342.64L1207.59 342.71L1206.47 339.16L1204.86 342.52L1205.84 342.59L1205.62 345.77ZM1206.39 355.12L1206.52 351.86L1207.51 351.9L1206.28 348.37L1204.76 351.79L1205.75 351.83L1205.61 355.08ZM1206.39 364.4L1206.43 361.12L1207.42 361.13L1206.08 357.63L1204.66 361.1L1205.65 361.11L1205.61 364.4ZM1259.31 188.05L1261.72 187.95L1261.75 188.58L1264.95 187.47L1261.67 186.62L1261.7 187.25L1259.29 187.35ZM1259.35 197.35L1261.77 196.97L1261.86 197.6L1264.93 196.13L1261.56 195.65L1261.66 196.28L1259.25 196.65ZM1259.39 206.64L1261.81 205.99L1261.98 206.61L1264.88 204.8L1261.46 204.69L1261.63 205.31L1259.21 205.96ZM1259.43 215.93L1261.86 214.99L1262.09 215.6L1264.8 213.47L1261.36 213.72L1261.6 214.33L1259.17 215.27ZM1259.46 225.22L1261.89 223.98L1262.33 224.83L1264.7 222.14L1261.13 222.49L1261.56 223.34L1259.14 224.58ZM1259.5 234.51L1261.92 232.96L1262.44 233.77L1264.56 230.83L1261 231.53L1261.52 232.34L1259.1 233.89ZM1259.53 243.8L1261.93 241.93L1262.53 242.7L1264.4 239.53L1260.87 240.57L1261.47 241.34L1259.07 243.2ZM1259.56 253.08L1261.92 250.89L1262.59 251.61L1264.2 248.25L1260.73 249.61L1261.4 250.33L1259.04 252.52ZM1259.59 262.37L1261.89 259.85L1262.62 260.52L1263.98 256.98L1260.57 258.65L1261.31 259.32L1259.01 261.83ZM1259.62 271.65L1261.83 268.81L1262.63 269.43L1263.72 265.74L1260.4 267.7L1261.2 268.31L1258.98 271.15ZM1259.64 280.93L1261.75 277.78L1262.6 278.34L1263.42 274.53L1260.22 276.75L1261.06 277.32L1258.96 280.47ZM1259.67 290.21L1261.64 286.75L1262.53 287.26L1263.1 283.34L1260.01 285.83L1260.9 286.34L1258.93 289.79ZM1259.69 299.49L1261.5 295.75L1262.44 296.2L1262.74 292.2L1259.79 294.92L1260.72 295.37L1258.91 299.11ZM1259.71 308.77L1261.33 304.76L1262.31 305.16L1262.35 301.09L1259.55 304.04L1260.52 304.43L1258.89 308.43ZM1259.72 318.04L1261.14 313.8L1262.15 314.14L1261.93 310.04L1259.29 313.19L1260.29 313.52L1258.88 317.76ZM1259.74 327.32L1260.93 322.88L1261.96 323.15L1261.49 319.03L1259.02 322.37L1260.05 322.64L1258.86 327.08ZM1259.75 336.59L1260.69 331.98L1261.74 332.2L1261.02 328.08L1258.74 331.59L1259.79 331.8L1258.85 336.41ZM1259.76 345.87L1260.43 341.13L1261.5 341.28L1260.53 337.19L1258.45 340.85L1259.52 341L1258.84 345.73ZM1259.76 355.14L1260.17 350.32L1261.24 350.41L1260.03 346.37L1258.16 350.15L1259.24 350.24L1258.84 355.06ZM1259.77 364.41L1259.89 359.55L1260.97 359.58L1259.52 355.6L1257.87 359.5L1258.96 359.53L1258.83 364.39ZM1312.62 188.21L1318.36 188.04L1318.39 189.17L1322.52 187.4L1318.29 185.88L1318.33 187.02L1312.58 187.19ZM1312.66 197.51L1318.39 196.86L1318.52 197.99L1322.5 195.89L1318.15 194.72L1318.27 195.85L1312.54 196.49ZM1312.7 206.8L1318.41 205.68L1318.63 206.8L1322.44 204.37L1317.99 203.56L1318.21 204.67L1312.5 205.8ZM1312.74 216.1L1318.42 214.49L1318.73 215.59L1322.35 212.85L1317.83 212.4L1318.14 213.5L1312.46 215.1ZM1312.78 225.39L1318.41 223.3L1318.81 224.37L1322.22 221.32L1317.65 221.24L1318.05 222.32L1312.42 224.41ZM1312.82 234.68L1318.38 232.09L1318.87 233.14L1322.05 229.79L1317.45 230.08L1317.94 231.13L1312.38 233.72ZM1312.86 243.97L1318.33 240.87L1318.91 241.88L1321.84 238.26L1317.23 238.92L1317.8 239.93L1312.34 243.03ZM1312.91 253.25L1318.25 249.64L1318.91 250.61L1321.58 246.73L1316.98 247.76L1317.64 248.73L1312.29 252.35ZM1312.95 262.53L1318.14 258.4L1318.88 259.32L1321.26 255.2L1316.71 256.6L1317.45 257.53L1312.25 261.67ZM1312.98 271.81L1317.98 267.15L1318.8 268.03L1320.88 263.67L1316.4 265.45L1317.21 266.33L1312.22 270.99ZM1313.02 281.09L1317.78 275.9L1318.67 276.72L1320.44 272.16L1316.04 274.31L1316.94 275.13L1312.18 280.31ZM1313.06 290.36L1317.53 284.66L1318.49 285.42L1319.91 280.68L1315.65 283.19L1316.61 283.94L1312.14 289.64ZM1313.09 299.63L1317.22 293.43L1318.25 294.12L1319.31 289.22L1315.21 292.09L1316.23 292.77L1312.11 298.97ZM1313.13 308.89L1316.86 302.23L1317.94 302.84L1318.63 297.81L1314.71 301.03L1315.8 301.64L1312.07 308.31ZM1313.16 318.16L1316.43 311.05L1317.57 311.58L1317.87 306.47L1314.18 310.01L1315.32 310.54L1312.04 317.64ZM1313.18 327.41L1315.94 319.93L1317.13 320.36L1317.03 315.19L1313.59 319.06L1314.78 319.5L1312.02 326.99ZM1313.2 336.67L1315.4 328.85L1316.63 329.2L1316.11 324.01L1312.97 328.17L1314.19 328.51L1312 336.33ZM1313.22 345.92L1314.81 337.85L1316.07 338.1L1315.14 332.94L1312.31 337.36L1313.57 337.61L1311.98 345.68ZM1313.23 355.17L1314.18 346.93L1315.46 347.08L1314.11 341.98L1311.64 346.63L1312.92 346.78L1311.97 355.03ZM1313.24 364.42L1313.53 356.09L1314.81 356.14L1313.06 351.16L1310.96 356L1312.25 356.05L1311.96 364.38ZM1365.92 188.41L1375.73 188.19L1375.76 189.57L1381.04 187.36L1375.67 185.39L1375.7 186.77L1365.88 186.99ZM1365.96 197.71L1375.78 196.89L1375.89 198.26L1381.05 195.74L1375.55 194.1L1375.66 195.47L1365.84 196.29ZM1366 207.01L1375.84 205.58L1376.04 206.95L1381.05 204.09L1375.43 202.79L1375.63 204.16L1365.8 205.59ZM1366.05 216.31L1375.91 214.24L1376.19 215.6L1381.05 212.43L1375.33 211.46L1375.61 212.82L1365.75 214.89ZM1366.1 225.61L1375.98 222.88L1376.35 224.23L1381.04 220.72L1375.21 220.11L1375.59 221.46L1365.7 224.19ZM1366.14 234.9L1376.04 231.48L1376.51 232.81L1381.02 228.97L1375.09 228.73L1375.56 230.07L1365.66 233.5ZM1366.19 244.19L1376.09 240.03L1376.65 241.35L1380.96 237.16L1374.95 237.31L1375.51 238.64L1365.61 242.81ZM1366.24 253.48L1376.12 248.52L1376.78 249.83L1380.86 245.29L1374.78 245.85L1375.44 247.16L1365.56 252.12ZM1366.29 262.76L1376.11 256.96L1376.87 258.24L1380.7 253.35L1374.57 254.35L1375.33 255.63L1365.51 261.44ZM1366.34 272.04L1376.05 265.33L1376.91 266.59L1380.45 261.34L1374.29 262.8L1375.16 264.05L1365.46 270.76ZM1366.4 281.31L1375.91 273.64L1376.89 274.86L1380.1 269.26L1373.94 271.2L1374.92 272.41L1365.4 280.09ZM1366.45 290.58L1375.68 281.89L1376.78 283.06L1379.61 277.1L1373.49 279.56L1374.59 280.73L1365.35 289.42ZM1366.5 299.85L1375.34 290.09L1376.56 291.19L1378.95 284.89L1372.92 287.89L1374.14 288.99L1365.3 298.75ZM1366.56 309.1L1374.85 298.23L1376.19 299.25L1378.09 292.63L1372.2 296.21L1373.54 297.23L1365.24 308.1ZM1366.61 318.35L1374.19 306.36L1375.65 307.28L1376.99 300.36L1371.31 304.54L1372.77 305.46L1365.19 317.45ZM1366.66 327.59L1373.31 314.5L1374.89 315.3L1375.59 308.13L1370.22 312.92L1371.79 313.72L1365.14 326.81ZM1366.71 336.81L1372.21 322.7L1373.89 323.36L1373.88 316.02L1368.91 321.42L1370.6 322.07L1365.09 336.19ZM1366.74 346.03L1370.86 331.05L1372.63 331.53L1371.85 324.11L1367.4 330.1L1369.17 330.58L1365.06 345.57ZM1366.77 355.24L1369.29 339.62L1371.12 339.91L1369.53 332.54L1365.71 339.04L1367.54 339.34L1365.03 354.96ZM1366.78 364.44L1367.56 348.49L1369.43 348.58L1367.01 341.39L1363.92 348.31L1365.79 348.4L1365.02 364.36ZM1419.21 188.53L1432.97 188.37L1432.98 190.06L1439.4 187.47L1432.93 185.03L1432.95 186.72L1419.19 186.87ZM1419.23 197.83L1433.06 197.25L1433.13 198.94L1439.49 196.15L1432.92 193.9L1432.99 195.59L1419.17 196.17ZM1419.26 207.13L1433.24 206.11L1433.37 207.82L1439.68 204.8L1433 202.74L1433.12 204.44L1419.14 205.47ZM1419.29 216.44L1433.52 214.94L1433.7 216.66L1439.99 213.41L1433.16 211.54L1433.34 213.26L1419.11 214.76ZM1419.32 225.75L1433.88 223.71L1434.13 225.47L1440.41 221.94L1433.4 220.27L1433.65 222.02L1419.08 224.05ZM1419.35 235.05L1434.35 232.41L1434.67 234.19L1440.96 230.36L1433.74 228.92L1434.05 230.7L1419.05 233.35ZM1419.39 244.36L1434.91 240.99L1435.31 242.81L1441.61 238.63L1434.14 237.44L1434.54 239.26L1419.01 242.64ZM1419.43 253.67L1435.55 249.41L1436.04 251.28L1442.34 246.68L1434.59 245.8L1435.09 247.66L1418.97 251.93ZM1419.48 262.98L1436.22 257.65L1436.83 259.56L1443.1 254.48L1435.05 253.97L1435.66 255.88L1418.92 261.22ZM1419.54 272.29L1436.88 265.69L1437.62 267.64L1443.83 262.03L1435.46 261.96L1436.2 263.91L1418.86 270.51ZM1419.6 281.59L1437.5 273.54L1438.4 275.53L1444.49 269.33L1435.81 269.77L1436.7 271.76L1418.8 279.81ZM1419.67 290.89L1438.08 281.22L1439.14 283.24L1445.08 276.41L1436.08 277.42L1437.14 279.44L1418.73 289.11ZM1419.74 300.19L1438.65 288.72L1439.88 290.76L1445.63 283.26L1436.33 284.89L1437.56 286.93L1418.66 298.41ZM1419.82 309.49L1439.26 295.96L1440.69 298.03L1446.23 289.8L1436.58 292.12L1438.02 294.19L1418.58 307.71ZM1419.91 318.79L1439.97 302.82L1441.63 304.92L1446.92 295.84L1436.89 298.95L1438.55 301.05L1418.49 317.01ZM1420.01 328.08L1440.81 309.04L1442.76 311.17L1447.75 301.05L1437.23 305.13L1439.19 307.27L1418.39 326.32ZM1420.15 337.38L1441.73 314.13L1444.06 316.3L1448.61 304.82L1437.5 310.21L1439.84 312.38L1418.25 335.62ZM1420.34 346.65L1442.37 317.2L1445.26 319.36L1448.99 305.99L1437.21 313.34L1440.1 315.5L1418.06 344.95ZM1420.63 355.84L1441.01 316.55L1444.77 318.5L1446.51 302.45L1434.4 313.12L1438.15 315.07L1417.77 354.36ZM1420.88 364.71L1429.47 317.64L1433.93 318.46L1430.68 301.54L1421.67 316.22L1426.12 317.03L1417.52 364.09ZM1472.5 188.56L1487.61 188.55L1487.62 190.35L1494.44 187.68L1487.61 185.02L1487.61 186.82L1472.5 186.84ZM1472.5 197.86L1487.64 197.82L1487.64 199.62L1494.47 196.93L1487.63 194.29L1487.63 196.09L1472.5 196.14ZM1472.5 207.17L1487.68 207.13L1487.69 208.94L1494.53 206.25L1487.68 203.59L1487.68 205.4L1472.5 205.43ZM1472.5 216.47L1487.75 216.54L1487.75 218.35L1494.63 215.7L1487.77 212.99L1487.76 214.8L1472.5 214.73ZM1472.48 225.77L1487.86 226.12L1487.82 227.94L1494.78 225.41L1487.94 222.55L1487.9 224.38L1472.52 224.03ZM1472.45 235.08L1488.08 236.03L1487.97 237.87L1495.1 235.58L1488.3 232.43L1488.19 234.28L1472.55 233.32ZM1472.38 244.39L1488.68 246.53L1488.43 248.42L1495.94 246.57L1489.16 242.85L1488.92 244.75L1472.62 242.61ZM1472.29 253.73L1490.52 257.91L1490.05 259.96L1498.38 258.73L1491.42 254L1490.95 256.04L1472.71 251.87ZM1472.21 263.16L1495.56 269.49L1494.89 271.96L1504.91 270.9L1496.81 264.91L1496.14 267.38L1472.79 261.04ZM1472.33 272.7L1504.8 276.85L1504.38 280.09L1516.66 277.04L1505.54 271L1505.13 274.24L1472.67 270.1ZM1472.77 282.08L1508.44 275.1L1509.13 278.61L1520.75 271.26L1507.22 268.84L1507.9 272.34L1472.23 279.32ZM1473.02 291.2L1502.69 278.34L1503.98 281.31L1512.9 272.5L1500.37 272.98L1501.66 275.95L1471.98 288.8ZM1473 300.38L1498.14 288.72L1499.33 291.31L1507.05 283.28L1495.94 283.98L1497.14 286.57L1472 298.22ZM1472.91 309.68L1497.53 300.18L1498.52 302.73L1506.45 295.5L1495.72 295.47L1496.7 298.03L1472.09 307.52ZM1472.85 319.02L1498.86 310.95L1499.69 313.64L1508.29 306.79L1497.33 306.02L1498.16 308.71L1472.15 316.78ZM1472.8 328.38L1500.96 321.23L1501.69 324.1L1511.08 317.39L1499.63 315.99L1500.36 318.86L1472.2 326.02ZM1472.76 337.75L1503.35 331.43L1503.99 334.51L1514.24 327.87L1502.2 325.84L1502.84 328.92L1472.24 335.25ZM1472.71 347.12L1505.74 341.94L1506.25 345.22L1517.38 338.76L1504.81 336.01L1505.33 339.3L1472.29 344.48ZM1472.64 356.47L1507.73 353.02L1508.07 356.49L1520.04 350.43L1507.12 346.81L1507.46 350.28L1472.36 353.73ZM1472.54 365.81L1508.82 364.69L1508.93 368.26L1521.57 362.9L1508.62 358.32L1508.73 361.88L1472.46 362.99ZM1525.8 188.57L1541.24 188.55L1541.24 190.38L1548.16 187.67L1541.24 184.98L1541.24 186.81L1525.8 186.83ZM1525.8 197.87L1541.28 197.79L1541.29 199.63L1548.21 196.89L1541.27 194.22L1541.28 196.05L1525.8 196.13ZM1525.81 207.18L1541.38 206.99L1541.4 208.83L1548.32 206.03L1541.33 203.4L1541.36 205.24L1525.79 205.42ZM1525.82 216.48L1541.54 216.1L1541.58 217.95L1548.51 215.05L1541.45 212.49L1541.49 214.34L1525.78 214.72ZM1525.84 225.79L1541.81 225.03L1541.89 226.91L1548.83 223.82L1541.63 221.39L1541.72 223.26L1525.76 224.01ZM1525.88 235.1L1542.3 233.69L1542.46 235.6L1549.41 232.18L1541.98 229.99L1542.15 231.9L1525.72 233.3ZM1525.93 244.42L1543.34 241.9L1543.62 243.89L1550.65 239.91L1542.78 238.08L1543.07 240.07L1525.67 242.58ZM1526 253.77L1545.66 249.66L1546.12 251.83L1553.51 247.01L1544.8 245.55L1545.26 247.72L1525.6 251.83ZM1526.03 263.19L1550.5 258.05L1551.04 260.62L1559.68 254.97L1549.5 253.29L1550.04 255.86L1525.57 261.01ZM1525.89 272.67L1556.88 270.54L1557.1 273.66L1568.09 268.49L1556.49 264.87L1556.71 268L1525.71 270.13ZM1525.59 282.02L1558.76 287.24L1558.24 290.54L1570.86 287.79L1559.7 281.3L1559.18 284.6L1526.01 279.38ZM1525.4 291.2L1554.61 301.02L1553.62 303.97L1565.69 303.41L1556.41 295.67L1555.42 298.62L1526.2 288.8ZM1525.39 300.41L1551.26 309.87L1550.28 312.54L1561.37 312.31L1553.05 304.99L1552.07 307.65L1526.21 298.19ZM1525.46 309.7L1550.77 317.47L1549.97 320.1L1560.7 319.31L1552.26 312.63L1551.45 315.26L1526.14 307.5ZM1525.52 319.04L1551.97 325.44L1551.31 328.17L1562.2 326.71L1553.18 320.43L1552.52 323.16L1526.08 316.76ZM1525.57 328.39L1553.85 333.82L1553.29 336.71L1564.57 334.64L1554.86 328.55L1554.3 331.44L1526.03 326.01ZM1525.61 337.75L1555.92 342.32L1555.46 345.38L1567.19 342.75L1556.76 336.77L1556.29 339.83L1525.99 335.25ZM1525.66 347.1L1557.89 350.68L1557.53 353.91L1569.68 350.68L1558.54 344.86L1558.18 348.08L1525.94 344.5ZM1525.71 356.44L1559.47 358.74L1559.25 362.09L1571.65 358.22L1559.88 352.7L1559.66 356.06L1525.89 353.76ZM1525.77 365.76L1560.37 366.49L1560.3 369.91L1572.72 365.38L1560.5 360.34L1560.43 363.76L1525.83 363.04ZM1579.09 188.55L1593.66 188.69L1593.64 190.44L1600.34 187.9L1593.69 185.23L1593.68 186.99L1579.11 186.85ZM1579.07 197.85L1593.72 198.37L1593.66 200.13L1600.44 197.75L1593.84 194.9L1593.78 196.66L1579.13 196.15ZM1579.05 207.16L1593.87 208.07L1593.76 209.84L1600.67 207.62L1594.09 204.58L1593.98 206.35L1579.15 205.44ZM1579.02 216.46L1594.13 217.8L1593.97 219.6L1601.02 217.54L1594.44 214.28L1594.28 216.08L1579.18 214.74ZM1579 225.77L1594.49 227.59L1594.27 229.42L1601.5 227.53L1594.91 224.02L1594.69 225.85L1579.2 224.03ZM1578.97 235.08L1594.95 237.47L1594.67 239.34L1602.13 237.64L1595.49 233.84L1595.22 235.71L1579.23 233.32ZM1578.93 244.39L1595.52 247.46L1595.16 249.38L1602.88 247.9L1596.2 243.76L1595.85 245.67L1579.27 242.61ZM1578.89 253.71L1596.16 257.61L1595.71 259.58L1603.73 258.37L1597.01 253.83L1596.57 255.79L1579.31 251.89ZM1578.85 263.02L1596.84 267.93L1596.29 269.95L1604.64 269.07L1597.89 264.07L1597.34 266.09L1579.35 261.18ZM1578.8 272.33L1597.52 278.44L1596.85 280.51L1605.55 280.02L1598.81 274.5L1598.13 276.57L1579.4 270.47ZM1578.74 281.64L1598.19 289.11L1597.37 291.24L1606.43 291.19L1599.73 285.1L1598.91 287.22L1579.46 279.76ZM1578.68 290.95L1598.86 299.92L1597.89 302.1L1607.32 302.54L1600.67 295.84L1599.71 298.02L1579.52 289.05ZM1578.61 300.26L1599.59 310.89L1598.46 313.12L1608.28 314.08L1601.7 306.73L1600.57 308.96L1579.59 298.34ZM1578.54 309.58L1600.49 322.05L1599.18 324.35L1609.46 325.86L1602.9 317.8L1601.6 320.1L1579.66 307.62ZM1578.47 318.9L1601.68 333.54L1600.17 335.93L1611.02 338.04L1604.45 329.15L1602.94 331.54L1579.73 316.9ZM1578.38 328.23L1603.36 345.58L1601.6 348.1L1613.22 350.9L1606.54 340.99L1604.79 343.52L1579.82 326.17ZM1578.27 337.59L1605.85 358.59L1603.78 361.32L1616.5 364.98L1609.59 353.69L1607.51 356.42L1579.93 335.41ZM1578.11 346.98L1609.93 373.53L1607.37 376.6L1621.86 381.48L1614.46 368.1L1611.9 371.17L1580.09 344.62ZM1577.95 356.35L1613.14 388.76L1610.07 392.09L1626.11 398.38L1618.52 382.92L1615.45 386.25L1580.25 353.85ZM1577.84 365.54L1609.94 401.01L1606.59 404.05L1621.98 411.77L1615.83 395.69L1612.47 398.73L1580.36 363.26ZM1632.38 188.46L1643.4 188.68L1643.37 190.14L1649.09 188.04L1643.46 185.71L1643.43 187.16L1632.42 186.94ZM1632.34 197.76L1643.37 198.6L1643.26 200.06L1649.1 198.27L1643.6 195.62L1643.49 197.08L1632.46 196.24ZM1632.3 207.06L1643.37 208.52L1643.17 209.98L1649.13 208.52L1643.76 205.55L1643.57 207.01L1632.5 205.54ZM1632.26 216.35L1643.38 218.47L1643.1 219.93L1649.17 218.8L1643.94 215.51L1643.66 216.97L1632.54 214.85ZM1632.21 225.65L1643.39 228.46L1643.03 229.92L1649.22 229.13L1644.14 225.5L1643.77 226.96L1632.59 224.15ZM1632.17 234.94L1643.42 238.48L1642.96 239.94L1649.27 239.51L1644.34 235.55L1643.88 237L1632.63 233.46ZM1632.12 244.23L1643.43 248.56L1642.88 250.01L1649.3 249.97L1644.55 245.65L1643.99 247.09L1632.68 242.77ZM1632.07 253.52L1643.43 258.7L1642.78 260.14L1649.3 260.5L1644.75 255.81L1644.09 257.25L1632.73 252.08ZM1632.02 262.81L1643.4 268.91L1642.64 270.34L1649.25 271.14L1644.93 266.07L1644.16 267.49L1632.78 261.39ZM1631.97 272.1L1643.33 279.2L1642.45 280.61L1649.14 281.87L1645.08 276.41L1644.2 277.81L1632.83 270.7ZM1631.91 281.37L1643.18 289.58L1642.18 290.95L1648.93 292.72L1645.17 286.85L1644.16 288.23L1632.89 280.03ZM1631.85 290.65L1642.95 300.04L1641.82 301.38L1648.59 303.7L1645.18 297.41L1644.05 298.75L1632.95 289.35ZM1631.79 299.92L1642.6 310.6L1641.33 311.89L1648.08 314.8L1645.09 308.08L1643.82 309.37L1633.01 298.68ZM1631.73 309.18L1642.08 321.25L1640.66 322.47L1647.34 326.03L1644.84 318.89L1643.42 320.1L1633.07 308.02ZM1631.66 318.42L1641.34 331.99L1639.77 333.11L1646.3 337.38L1644.39 329.82L1642.82 330.94L1633.14 317.38ZM1631.6 327.66L1640.33 342.77L1638.6 343.76L1644.87 348.78L1643.65 340.84L1641.92 341.84L1633.2 326.74ZM1631.54 336.88L1638.95 353.51L1637.07 354.35L1642.95 360.16L1642.56 351.91L1640.68 352.74L1633.26 336.12ZM1631.48 346.09L1637.17 364.1L1635.16 364.74L1640.47 371.34L1641.02 362.89L1639.01 363.53L1633.32 345.51ZM1631.44 355.28L1634.99 374.37L1632.87 374.76L1637.42 382.1L1639.03 373.62L1636.91 374.01L1633.36 354.92ZM1631.42 364.45L1632.52 384.12L1630.34 384.24L1633.96 392.17L1636.66 383.89L1634.48 384.01L1633.38 364.35ZM1685.68 188.26L1692.54 188.46L1692.51 189.66L1697.05 188.02L1692.61 186.13L1692.57 187.33L1685.72 187.14ZM1685.64 197.56L1692.49 198.28L1692.36 199.48L1697.03 198.19L1692.73 195.96L1692.61 197.15L1685.76 196.44ZM1685.6 206.86L1692.43 208.11L1692.21 209.29L1696.98 208.36L1692.85 205.8L1692.63 206.99L1685.8 205.74ZM1685.55 216.15L1692.35 217.94L1692.04 219.11L1696.89 218.54L1692.95 215.66L1692.64 216.83L1685.85 215.05ZM1685.51 225.45L1692.26 227.78L1691.86 228.93L1696.77 228.73L1693.04 225.54L1692.64 226.69L1685.89 224.35ZM1685.47 234.74L1692.15 237.64L1691.66 238.76L1696.61 238.94L1693.1 235.44L1692.61 236.56L1685.93 233.66ZM1685.42 244.03L1692.01 247.5L1691.43 248.59L1696.41 249.15L1693.14 245.36L1692.56 246.45L1685.98 242.97ZM1685.38 253.31L1691.84 257.37L1691.17 258.43L1696.15 259.37L1693.14 255.3L1692.48 256.35L1686.02 252.29ZM1685.33 262.59L1691.63 267.26L1690.88 268.27L1695.83 269.61L1693.11 265.26L1692.36 266.27L1686.07 261.61ZM1685.29 271.87L1691.38 277.15L1690.55 278.11L1695.44 279.85L1693.03 275.25L1692.2 276.21L1686.11 270.93ZM1685.25 281.15L1691.07 287.04L1690.16 287.95L1694.97 290.08L1692.89 285.25L1691.98 286.15L1686.15 280.25ZM1685.21 290.42L1690.71 296.93L1689.72 297.77L1694.41 300.31L1692.69 295.26L1691.7 296.1L1686.19 289.58ZM1685.16 299.68L1690.28 306.81L1689.21 307.57L1693.75 310.51L1692.42 305.27L1691.35 306.04L1686.24 298.92ZM1685.12 308.95L1689.78 316.65L1688.64 317.34L1692.99 320.68L1692.06 315.28L1690.93 315.96L1686.28 308.25ZM1685.09 318.2L1689.2 326.46L1688 327.06L1692.11 330.78L1691.62 325.26L1690.42 325.85L1686.31 317.6ZM1685.06 327.46L1688.54 336.21L1687.29 336.71L1691.12 340.81L1691.09 335.2L1689.83 335.7L1686.34 326.94ZM1685.03 336.7L1687.82 345.89L1686.52 346.28L1690.03 350.73L1690.47 345.08L1689.16 345.48L1686.37 336.3ZM1685.01 345.95L1687.04 355.47L1685.7 355.76L1688.84 360.52L1689.76 354.89L1688.42 355.17L1686.39 345.65ZM1684.99 355.19L1686.21 364.94L1684.84 365.11L1687.58 370.15L1688.99 364.6L1687.62 364.77L1686.41 355.01ZM1684.99 364.43L1685.35 374.3L1683.98 374.35L1686.27 379.62L1688.16 374.19L1686.78 374.24L1686.41 364.37ZM1738.99 188.09L1742.32 188.21L1742.28 189.2L1745.83 187.95L1742.38 186.44L1742.34 187.43L1739.01 187.31ZM1738.95 197.39L1742.27 197.85L1742.14 198.83L1745.81 197.94L1742.52 196.09L1742.38 197.07L1739.05 196.61ZM1738.91 206.68L1742.23 207.48L1741.99 208.45L1745.75 207.93L1742.65 205.75L1742.41 206.72L1739.09 205.92ZM1738.87 215.98L1742.18 217.12L1741.85 218.07L1745.66 217.91L1742.77 215.42L1742.44 216.37L1739.13 215.22ZM1738.83 225.27L1742.12 226.77L1741.7 227.68L1745.54 227.89L1742.87 225.12L1742.45 226.03L1739.17 224.53ZM1738.8 234.56L1742.04 236.41L1741.54 237.3L1745.39 237.86L1742.96 234.82L1742.45 235.7L1739.2 233.84ZM1738.76 243.84L1741.96 246.07L1741.37 246.91L1745.2 247.82L1743.02 244.54L1742.43 245.38L1739.24 243.16ZM1738.73 253.13L1741.85 255.72L1741.19 256.52L1744.98 257.76L1743.05 254.27L1742.39 255.06L1739.27 252.47ZM1738.7 262.41L1741.72 265.37L1740.99 266.12L1744.71 267.69L1743.06 264L1742.33 264.75L1739.3 261.79ZM1738.67 271.69L1741.57 275.02L1740.77 275.71L1744.41 277.6L1743.03 273.74L1742.24 274.43L1739.33 271.11ZM1738.64 280.97L1741.39 284.65L1740.53 285.29L1744.06 287.48L1742.97 283.47L1742.11 284.11L1739.36 280.43ZM1738.61 290.25L1741.18 294.27L1740.27 294.85L1743.67 297.32L1742.87 293.2L1741.96 293.78L1739.39 289.75ZM1738.59 299.52L1740.94 303.88L1739.99 304.39L1743.24 307.13L1742.73 302.91L1741.77 303.43L1739.41 299.08ZM1738.56 308.8L1740.68 313.45L1739.68 313.9L1742.77 316.9L1742.55 312.6L1741.55 313.05L1739.44 308.4ZM1738.55 318.07L1740.39 322.99L1739.35 323.38L1742.26 326.61L1742.33 322.27L1741.3 322.65L1739.45 317.73ZM1738.53 327.34L1740.07 332.5L1739.01 332.82L1741.72 336.27L1742.08 331.9L1741.02 332.22L1739.47 327.06ZM1738.52 336.61L1739.74 341.96L1738.65 342.21L1741.14 345.86L1741.8 341.49L1740.71 341.74L1739.48 336.39ZM1738.51 345.88L1739.39 351.38L1738.28 351.56L1740.53 355.39L1741.49 351.05L1740.38 351.22L1739.49 345.72ZM1738.5 355.15L1739.02 360.75L1737.9 360.86L1739.91 364.84L1741.15 360.55L1740.03 360.66L1739.5 355.05ZM1738.49 364.41L1738.65 370.07L1737.52 370.1L1739.27 374.21L1740.79 370.01L1739.66 370.04L1739.51 364.39ZM1792.28 187.98L1793.6 188.06L1793.57 188.47L1795.58 187.9L1793.65 187.09L1793.63 187.5L1792.32 187.42ZM1792.24 197.27L1793.54 197.57L1793.45 197.98L1795.57 197.75L1793.76 196.62L1793.67 197.03L1792.36 196.73ZM1792.19 206.56L1793.49 207.08L1793.33 207.48L1795.53 207.59L1793.86 206.15L1793.7 206.55L1792.41 206.04ZM1792.16 215.85L1793.43 216.58L1793.2 216.97L1795.48 217.43L1793.94 215.69L1793.72 216.08L1792.44 215.35ZM1792.12 225.14L1793.37 226.08L1793.08 226.46L1795.42 227.26L1794.01 225.23L1793.73 225.61L1792.48 224.66ZM1792.09 234.42L1793.3 235.57L1792.96 235.93L1795.33 237.08L1794.06 234.77L1793.72 235.13L1792.51 233.98ZM1792.06 243.71L1793.23 245.06L1792.84 245.4L1795.23 246.88L1794.1 244.3L1793.71 244.65L1792.54 243.29ZM1792.04 252.99L1793.16 254.54L1792.72 254.86L1795.11 256.67L1794.13 253.83L1793.68 254.16L1792.56 252.61ZM1792.02 262.27L1793.08 264.01L1792.59 264.31L1794.97 266.43L1794.14 263.36L1793.65 263.66L1792.58 261.93ZM1792 271.56L1793.02 273.51L1792.49 273.79L1794.81 276.17L1794.16 272.91L1793.63 273.19L1792.6 271.24ZM1791.98 280.84L1792.98 283.07L1792.4 283.32L1794.63 285.89L1794.2 282.52L1793.62 282.78L1792.62 280.56ZM1791.96 290.13L1792.92 292.61L1792.3 292.84L1794.44 295.57L1794.2 292.11L1793.59 292.35L1792.64 289.87ZM1791.95 299.41L1792.84 302.13L1791.92 302.43L1794.23 305.22L1794.45 301.6L1793.53 301.9L1792.65 299.19ZM1791.94 308.7L1792.74 311.63L1791.8 311.89L1794.01 314.84L1794.41 311.18L1793.47 311.44L1792.66 308.5ZM1791.93 317.98L1792.63 321.11L1791.67 321.33L1793.77 324.41L1794.34 320.73L1793.38 320.94L1792.67 317.82ZM1791.92 327.27L1792.51 330.56L1791.53 330.74L1793.52 333.94L1794.25 330.25L1793.28 330.42L1792.68 327.13ZM1791.91 336.55L1792.38 339.98L1791.39 340.12L1793.25 343.43L1794.15 339.74L1793.16 339.87L1792.69 336.45ZM1791.9 345.84L1792.24 349.37L1791.24 349.46L1792.98 352.88L1794.04 349.19L1793.04 349.29L1792.7 345.76ZM1791.9 355.12L1792.1 358.72L1791.09 358.78L1792.7 362.27L1793.91 358.62L1792.91 358.67L1792.7 355.08ZM1791.9 364.41L1791.96 368.04L1790.95 368.05L1792.42 371.62L1793.77 368.01L1792.77 368.02L1792.7 364.39Z" fill="#ff0000"/></g>
<circle cx="1498.6" cy="276.5" r="18" fill="none" stroke="#3a4a3a" stroke-width="1"/>
<rect x="1667.7" y="297.8" width="86.3" height="20.8" fill="#70ad47"/>
<text x="1628" y="342" class="cal" style="font-size:24px;fill:#70ad47" textLength="165" lengthAdjust="spacingAndGlyphs">Scale = 10 µm</text>
<text transform="translate(1202.30 36.30) scale(1.0469 1)" x="0.00" y="0" style="font-size:32.5px;fill:#140c0c;stroke:#140c0c;stroke-width:1.35px;stroke-linejoin:round;word-spacing:-1.5px" >(c) Freq = 10 kHz</text>
<text transform="translate(1202.30 216.30) scale(1.0706 1)" x="0.00" y="0" style="font-size:32.5px;fill:#140c0c;stroke:#140c0c;stroke-width:1.35px;stroke-linejoin:round;word-spacing:-1.5px" >(d) Freq = 1 MHz</text>
</g>
<g id="colorbars">
<defs><linearGradient id="cb1" x1="0" y1="0" x2="0" y2="1"><stop offset="0%" stop-color="#800000"/><stop offset="2.5%" stop-color="#990000"/><stop offset="5%" stop-color="#b30000"/><stop offset="7.5%" stop-color="#cc0000"/><stop offset="10%" stop-color="#e50000"/><stop offset="12.5%" stop-color="#ff0000"/><stop offset="15%" stop-color="#ff1a00"/><stop offset="17.5%" stop-color="#ff3300"/><stop offset="20%" stop-color="#ff4c00"/><stop offset="22.5%" stop-color="#ff6600"/><stop offset="25%" stop-color="#ff8000"/><stop offset="27.5%" stop-color="#ff9900"/><stop offset="30%" stop-color="#ffb300"/><stop offset="32.5%" stop-color="#ffcc00"/><stop offset="35%" stop-color="#ffe600"/><stop offset="37.5%" stop-color="#ffff00"/><stop offset="40%" stop-color="#e5ff1a"/><stop offset="42.5%" stop-color="#ccff33"/><stop offset="45%" stop-color="#b3ff4c"/><stop offset="47.5%" stop-color="#99ff66"/><stop offset="50%" stop-color="#80ff80"/><stop offset="52.5%" stop-color="#66ff99"/><stop offset="55%" stop-color="#4cffb3"/><stop offset="57.5%" stop-color="#33ffcc"/><stop offset="60%" stop-color="#19ffe6"/><stop offset="62.5%" stop-color="#00ffff"/><stop offset="65%" stop-color="#00e5ff"/><stop offset="67.5%" stop-color="#00ccff"/><stop offset="70%" stop-color="#00b2ff"/><stop offset="72.5%" stop-color="#0099ff"/><stop offset="75%" stop-color="#0080ff"/><stop offset="77.5%" stop-color="#0066ff"/><stop offset="80%" stop-color="#004cff"/><stop offset="82.5%" stop-color="#0033ff"/><stop offset="85%" stop-color="#0019ff"/><stop offset="87.5%" stop-color="#0000ff"/><stop offset="90%" stop-color="#0000e5"/><stop offset="92.5%" stop-color="#0000cc"/><stop offset="95%" stop-color="#0000b2"/><stop offset="97.5%" stop-color="#000099"/><stop offset="100%" stop-color="#000080"/></linearGradient></defs>
<rect x="1854.2" y="102.3" width="22" height="335.9" fill="url(#cb1)" stroke="#2a2a2a" stroke-width="1.2"/>
<path d="M1854.2 404.61h3.2M1876.2 404.61h-3.2M1854.2 371.02h3.2M1876.2 371.02h-3.2M1854.2 337.43h3.2M1876.2 337.43h-3.2M1854.2 303.84h3.2M1876.2 303.84h-3.2M1854.2 270.25h3.2M1876.2 270.25h-3.2M1854.2 236.66h3.2M1876.2 236.66h-3.2M1854.2 203.07h3.2M1876.2 203.07h-3.2M1854.2 169.48h3.2M1876.2 169.48h-3.2M1854.2 135.89h3.2M1876.2 135.89h-3.2" stroke="#222" stroke-width="1.2" fill="none"/>
<text transform="translate(1888.90 443.60) scale(1.0894 1)" x="0.00" y="0" style="font-family:'DejaVu Sans',sans-serif;font-size:15px;fill:#383838;stroke:#383838;stroke-width:0.3px" >0</text>
<text transform="translate(1889.80 410.01) scale(1.1065 1)" x="0.00" y="0" style="font-family:'DejaVu Sans',sans-serif;font-size:15px;fill:#383838;stroke:#383838;stroke-width:0.3px" >0.1</text>
<text transform="translate(1889.80 376.42) scale(1.1065 1)" x="0.00" y="0" style="font-family:'DejaVu Sans',sans-serif;font-size:15px;fill:#383838;stroke:#383838;stroke-width:0.3px" >0.2</text>
<text transform="translate(1889.80 342.83) scale(1.1065 1)" x="0.00" y="0" style="font-family:'DejaVu Sans',sans-serif;font-size:15px;fill:#383838;stroke:#383838;stroke-width:0.3px" >0.3</text>
<text transform="translate(1889.80 309.24) scale(1.1065 1)" x="0.00" y="0" style="font-family:'DejaVu Sans',sans-serif;font-size:15px;fill:#383838;stroke:#383838;stroke-width:0.3px" >0.4</text>
<text transform="translate(1889.80 275.65) scale(1.1065 1)" x="0.00" y="0" style="font-family:'DejaVu Sans',sans-serif;font-size:15px;fill:#383838;stroke:#383838;stroke-width:0.3px" >0.5</text>
<text transform="translate(1889.80 242.06) scale(1.1065 1)" x="0.00" y="0" style="font-family:'DejaVu Sans',sans-serif;font-size:15px;fill:#383838;stroke:#383838;stroke-width:0.3px" >0.6</text>
<text transform="translate(1889.80 208.47) scale(1.1065 1)" x="0.00" y="0" style="font-family:'DejaVu Sans',sans-serif;font-size:15px;fill:#383838;stroke:#383838;stroke-width:0.3px" >0.7</text>
<text transform="translate(1889.80 174.88) scale(1.1065 1)" x="0.00" y="0" style="font-family:'DejaVu Sans',sans-serif;font-size:15px;fill:#383838;stroke:#383838;stroke-width:0.3px" >0.8</text>
<text transform="translate(1889.80 141.29) scale(1.1065 1)" x="0.00" y="0" style="font-family:'DejaVu Sans',sans-serif;font-size:15px;fill:#383838;stroke:#383838;stroke-width:0.3px" >0.9</text>
<text transform="translate(1888.90 107.70) scale(1.0894 1)" x="0.00" y="0" style="font-family:'DejaVu Sans',sans-serif;font-size:15px;fill:#383838;stroke:#383838;stroke-width:0.3px" >1</text>
<rect x="1975.6" y="102.3" width="22.2" height="335.9" fill="#fff" stroke="#2a2a2a" stroke-width="1.2"/>
<rect x="1976.2" y="429.1" width="21" height="8.2" fill="#000099"/>
<rect x="1976.2" y="411.85" width="21" height="8.2" fill="#0000cc"/>
<rect x="1976.2" y="394.6" width="21" height="8.2" fill="#0000ff"/>
<rect x="1976.2" y="377.35" width="21" height="8.2" fill="#0033ff"/>
<rect x="1976.2" y="360.1" width="21" height="8.2" fill="#0066ff"/>
<rect x="1976.2" y="342.85" width="21" height="8.2" fill="#0099ff"/>
<rect x="1976.2" y="325.6" width="21" height="8.2" fill="#00ccff"/>
<rect x="1976.2" y="308.35" width="21" height="8.2" fill="#00ffff"/>
<rect x="1976.2" y="291.1" width="21" height="8.2" fill="#33ffcc"/>
<rect x="1976.2" y="273.85" width="21" height="8.2" fill="#66ff99"/>
<rect x="1976.2" y="256.6" width="21" height="8.2" fill="#99ff66"/>
<rect x="1976.2" y="239.35" width="21" height="8.2" fill="#ccff33"/>
<rect x="1976.2" y="222.1" width="21" height="8.2" fill="#ffff00"/>
<rect x="1976.2" y="204.85" width="21" height="8.2" fill="#ffcc00"/>
<rect x="1976.2" y="187.6" width="21" height="8.2" fill="#ff9900"/>
<rect x="1976.2" y="170.35" width="21" height="8.2" fill="#ff6600"/>
<rect x="1976.2" y="153.1" width="21" height="8.2" fill="#ff3300"/>
<rect x="1976.2" y="135.85" width="21" height="8.2" fill="#ff0000"/>
<rect x="1976.2" y="118.6" width="21" height="8.2" fill="#cc0000"/>
<rect x="1976.2" y="102.3" width="21" height="7.25" fill="#990000"/>
<path d="M1975.6 433.2h3.2M1997.8 433.2h-3.2M1975.6 415.95h3.2M1997.8 415.95h-3.2M1975.6 398.7h3.2M1997.8 398.7h-3.2M1975.6 381.45h3.2M1997.8 381.45h-3.2M1975.6 364.2h3.2M1997.8 364.2h-3.2M1975.6 346.95h3.2M1997.8 346.95h-3.2M1975.6 329.7h3.2M1997.8 329.7h-3.2M1975.6 312.45h3.2M1997.8 312.45h-3.2M1975.6 295.2h3.2M1997.8 295.2h-3.2M1975.6 277.95h3.2M1997.8 277.95h-3.2M1975.6 260.7h3.2M1997.8 260.7h-3.2M1975.6 243.45h3.2M1997.8 243.45h-3.2M1975.6 226.2h3.2M1997.8 226.2h-3.2M1975.6 208.95h3.2M1997.8 208.95h-3.2M1975.6 191.7h3.2M1997.8 191.7h-3.2M1975.6 174.45h3.2M1997.8 174.45h-3.2M1975.6 157.2h3.2M1997.8 157.2h-3.2M1975.6 139.95h3.2M1997.8 139.95h-3.2M1975.6 122.7h3.2M1997.8 122.7h-3.2M1975.6 105.45h3.2M1997.8 105.45h-3.2" stroke="#222" stroke-width="1.2" fill="none"/>
<rect x="1975.6" y="102.3" width="22.2" height="335.9" fill="none" stroke="#2a2a2a" stroke-width="1.2"/>
<text transform="translate(2010.20 438.70) scale(1.1435 1)" x="0.00" y="0" style="font-family:'DejaVu Sans',sans-serif;font-size:15px;fill:#383838;stroke:#383838;stroke-width:0.3px" >0.03</text>
<text transform="translate(2010.20 404.20) scale(1.1435 1)" x="0.00" y="0" style="font-family:'DejaVu Sans',sans-serif;font-size:15px;fill:#383838;stroke:#383838;stroke-width:0.3px" >0.13</text>
<text transform="translate(2010.20 369.70) scale(1.1435 1)" x="0.00" y="0" style="font-family:'DejaVu Sans',sans-serif;font-size:15px;fill:#383838;stroke:#383838;stroke-width:0.3px" >0.23</text>
<text transform="translate(2010.20 335.20) scale(1.1435 1)" x="0.00" y="0" style="font-family:'DejaVu Sans',sans-serif;font-size:15px;fill:#383838;stroke:#383838;stroke-width:0.3px" >0.33</text>
<text transform="translate(2010.20 300.70) scale(1.1435 1)" x="0.00" y="0" style="font-family:'DejaVu Sans',sans-serif;font-size:15px;fill:#383838;stroke:#383838;stroke-width:0.3px" >0.42</text>
<text transform="translate(2010.20 266.20) scale(1.1435 1)" x="0.00" y="0" style="font-family:'DejaVu Sans',sans-serif;font-size:15px;fill:#383838;stroke:#383838;stroke-width:0.3px" >0.53</text>
<text transform="translate(2010.20 231.70) scale(1.1435 1)" x="0.00" y="0" style="font-family:'DejaVu Sans',sans-serif;font-size:15px;fill:#383838;stroke:#383838;stroke-width:0.3px" >0.63</text>
<text transform="translate(2010.20 197.20) scale(1.1435 1)" x="0.00" y="0" style="font-family:'DejaVu Sans',sans-serif;font-size:15px;fill:#383838;stroke:#383838;stroke-width:0.3px" >0.72</text>
<text transform="translate(2010.20 162.70) scale(1.1435 1)" x="0.00" y="0" style="font-family:'DejaVu Sans',sans-serif;font-size:15px;fill:#383838;stroke:#383838;stroke-width:0.3px" >0.82</text>
<text transform="translate(2010.20 128.20) scale(1.1435 1)" x="0.00" y="0" style="font-family:'DejaVu Sans',sans-serif;font-size:15px;fill:#383838;stroke:#383838;stroke-width:0.3px" >0.93</text>
<text transform="translate(1844.70 21.50) scale(1.0575 1)" x="0.00" y="0" style="font-weight:bold;font-size:15.8px;fill:#0a0a14;word-spacing:-0.8px;stroke:#0a0a14;stroke-width:0.25px" >Contour: Electric Potential</text>
<text transform="translate(1938.80 45.00) scale(1.0730 1)" x="0.00" y="0" style="font-weight:bold;font-size:15.8px;fill:#0a0a14;word-spacing:-0.8px;stroke:#0a0a14;stroke-width:0.25px" >[V]</text>
<text transform="translate(1858.00 67.40) scale(1.0557 1)" x="0.00" y="0" style="font-weight:bold;font-size:15.8px;fill:#0a0a14;word-spacing:-0.8px;stroke:#0a0a14;stroke-width:0.25px" >Arrow Surface: Current</text>
<text transform="translate(1891.50 91.60) scale(1.0929 1)" x="0.00" y="0" style="font-weight:bold;font-size:15.8px;fill:#0a0a14;word-spacing:-0.8px;stroke:#0a0a14;stroke-width:0.25px" >Density [A/m<tspan dy="-5.5" style="font-size:10px">2</tspan><tspan dy="5.5">]</tspan></text>
<text transform="translate(1192.30 394.70) scale(1.0564 1)" x="0.00" y="0" style="font-weight:bold;font-size:19.6px;fill:#000;white-space:pre;word-spacing:-1.3px;stroke:#000;stroke-width:0.3px" ><tspan dy="0">L = 30 µm, G = 15 µm, H = 20 µm, W = 20 µm, R</tspan><tspan dy="3.4" style="font-size:13.5px;font-weight:normal;stroke-width:0.45px">cyto</tspan><tspan dy="-3.4"> = 2 µm, t</tspan><tspan dy="3.4" style="font-size:13.5px;font-weight:normal;stroke-width:0.45px">mem</tspan><tspan dy="-3.4"> = 10 nm</tspan></text>
<text transform="translate(1238.30 420.40) scale(1.0578 1)" x="0.00" y="0" style="font-weight:bold;font-size:19.6px;fill:#000;white-space:pre;word-spacing:-1.3px;stroke:#000;stroke-width:0.3px" ><tspan dy="0">ε</tspan><tspan dy="3.4" style="font-size:13.5px;font-weight:normal;stroke-width:0.45px">cyto</tspan><tspan dy="-3.4"> = 60, σ</tspan><tspan dy="3.4" style="font-size:13.5px;font-weight:normal;stroke-width:0.45px">cyto</tspan><tspan dy="-3.4"> = 0.6 S/m, ε</tspan><tspan dy="3.4" style="font-size:13.5px;font-weight:normal;stroke-width:0.45px">mem</tspan><tspan dy="-3.4"> = 5.647, σ</tspan><tspan dy="3.4" style="font-size:13.5px;font-weight:normal;stroke-width:0.45px">mem</tspan><tspan dy="-3.4"> = 1.2 X 10</tspan><tspan dy="-6.5" style="font-size:12.5px;font-weight:normal;stroke-width:0.45px">-8</tspan><tspan dy="6.5"> S/m</tspan></text>
<text transform="translate(1366.00 441.70) scale(1.0515 1)" x="0.00" y="0" style="font-weight:bold;font-size:19.6px;fill:#000;white-space:pre;word-spacing:-1.3px;stroke:#000;stroke-width:0.3px" ><tspan dy="0">ε</tspan><tspan dy="3.4" style="font-size:13.5px;font-weight:normal;stroke-width:0.45px">med</tspan><tspan dy="-3.4"> = 80, σ</tspan><tspan dy="3.4" style="font-size:13.5px;font-weight:normal;stroke-width:0.45px">med</tspan><tspan dy="-3.4"> = 1.2 X 10</tspan><tspan dy="-6.5" style="font-size:12.5px;font-weight:normal;stroke-width:0.45px">-3</tspan><tspan dy="6.5"> S/m</tspan></text>
</g>
<rect x="3" y="2.3" width="2059" height="448.5" fill="none" stroke="#000" stroke-width="2.8"/>

</svg>
</body>
</html>
